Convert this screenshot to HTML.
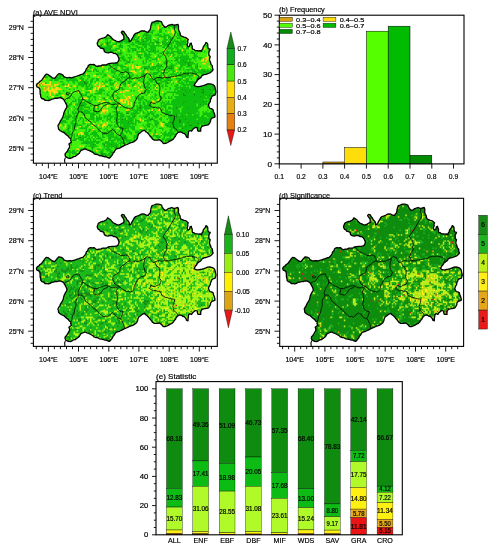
<!DOCTYPE html><html><head><meta charset="utf-8"><title>NDVI figure</title>
<style>html,body{margin:0;padding:0;background:#fff}svg{display:block}text{font-family:"Liberation Sans", sans-serif;fill:#000;stroke:#000;stroke-width:0.18px}</style></head><body>
<svg width="493" height="550" viewBox="0 0 493 550">
<rect width="493" height="550" fill="#fff"/>
<defs><clipPath id="prov"><path d="M36.4,85.1 37.3,83.6 38.9,82.7 39.9,81.3 41.5,80.5 42.5,79 43.8,77.3 45,75.4 46.2,74.2 47.9,74.4 49.2,75.4 50.8,76.5 52.3,77.8 54.7,78.4 55.9,76.9 57.1,75.4 58.9,73.6 61.4,74.2 62.9,75.1 63.8,76.6 65.6,77.4 67.5,77.8 69.6,77.4 71.7,77.8 73.5,77.1 75.4,76.6 77.2,76 79,75.4 80.8,74.7 82.7,74.2 84,73 85.1,71.7 85.9,70.3 86.3,68.7 87.7,67.5 88.2,65.7 89.3,64.8 90.6,64.4 92.3,64.6 94,64.4 95.4,65.6 97,66.5 98.9,66 100.9,65.9 102.6,64.9 104.5,65 106.5,64.9 108.2,63.8 110.2,63.4 112.2,63.2 114.3,63.2 116.2,63 117.9,62 118.6,60.5 119.1,58.9 118.5,57.4 117.9,55.9 116.9,54.5 115.5,53.5 113.5,53.3 111.8,52.2 110,52.3 108.2,52.9 106.6,52.7 105.1,52.2 104.1,50.9 103.9,49.2 102.2,48.4 100.3,48 99.7,46.8 98.4,46.2 97.5,44.8 97.2,43.1 97.9,41.7 98.4,40.1 100.2,39 102.1,38.3 104,37.9 105.7,37 106.8,36 107.6,34.6 109.4,35.8 110.8,36.8 111.8,38.3 113.5,39.8 115.5,40.7 116.9,41.5 118.5,41.9 120.4,41.2 122.2,40.1 123.9,39.2 123.9,37 123.7,35.7 122.8,34.6 122,33.5 121.3,32.4 122.2,31.2 124,31.7 124.9,33.5 126.2,35 127,36.8 128.5,38.1 129.3,39.8 129.2,41.7 130.5,41.2 131.3,40.1 132.1,38.5 133.1,37 133.7,35.8 134.3,34.6 135.7,33.4 137.4,32.8 139.3,32.1 141,31 142.8,30.8 144.7,31 146.4,32 148.3,32.2 149.1,30.8 150.2,29.7 150.6,27.9 150.8,26.1 151.3,24.2 152,22.4 154,21.8 156,21 157.9,20.9 159.7,21.2 161.5,21.8 162.2,23.8 163.3,25.5 165.1,27.3 166.8,26.6 168.2,25.5 170,25 171.8,24.3 173.6,25.1 175.5,24.9 177.9,24.3 178.5,25.7 178.5,27.3 178.4,29.2 179.1,31 180,32.7 180.3,34.6 180.9,35.9 182.2,36.4 184,37.1 185.8,37.6 187,38.6 188.3,39.5 187.6,40.9 187.9,42.5 187,44.9 187.9,46.8 189.5,46.2 190.1,43.7 191.3,43.1 191.5,44.7 192.3,46.2 192.1,47.7 192.5,49.2 193.9,49.4 194.9,50.4 196.8,50.6 198.6,51 200.2,50.7 201.6,51.4 201.9,49.9 202.9,48.6 203.2,47 204.1,45.6 205.3,44.2 205.9,42.5 207.1,43.1 207.8,44.6 207.7,46.2 208.3,48.6 210.2,49.2 209.7,50.5 208.9,51.6 208.9,53.5 208.9,55.3 210.2,56.5 209.5,58.9 209.7,60.8 210.6,62.4 211,64.4 212.4,65.9 212.5,67.9 213.1,69.8 211.7,71.6 209.8,73 207.8,73.6 205.9,74.3 203.9,74.7 202,75.6 200.8,77.6 198.8,78.9 197.5,80.1 196.7,81.6 195.5,82.8 194.8,84.1 194.2,85.4 195.4,86.2 196.8,86.7 198.6,86.7 200.3,86.3 202,86 204,85.4 205.9,84.7 207.8,83.9 209.8,83.8 211.5,84.2 213.1,84.7 214.4,85.8 215,87.3 215.5,89.6 216,91.9 215.5,93.5 215,95.1 213.3,95.5 211.8,96.4 211.3,98 210.5,99.6 210.3,101.5 209.2,103 208.5,105.2 209.1,106.8 209.8,108.4 211.6,108.7 213.1,109.7 213.5,111.7 214.4,113.6 214.8,115.2 215,116.9 213.4,117.7 211.8,118.2 210.7,119.6 210.5,121.4 209.6,123.1 208.5,124.7 206.9,125.2 205.3,125.3 203.7,125.8 202,126 201.4,127.3 200.7,128.6 200.7,131.2 198.1,131.2 197.4,129.6 197.5,127.9 195.5,127.3 194.2,128.2 192.9,129.2 191.6,131.2 189.7,130.5 188.6,131.6 188.4,133.1 188.1,135.3 188,137.6 186.5,137 186.1,135.6 185.2,134.4 184.1,133.3 182.6,133.1 181.5,132.1 180,131.8 178.6,132.2 177.4,133.1 176.1,134.5 175.4,136.3 174.2,137.4 173.5,138.9 172,140.1 170.2,140.9 168.6,141.9 167,142.8 165.4,143.3 163.7,143.5 162.6,142.7 161.8,141.5 160.5,140.5 159.2,139.6 157.9,140.1 156.6,140.2 154.4,140.2 152.4,138.9 151.2,137.2 149.8,135.7 148.6,134 147.2,132.5 145.6,131.6 144.6,130.1 143.3,130.7 142,131.2 140.5,132.6 138.8,133.8 137.9,135.6 137.5,137.6 136.6,139.5 134.9,140.9 133.1,142.1 131,142.6 129,143.5 127.1,144.5 125.1,145.1 123.2,146.1 121.3,147.1 119.5,148.1 117.4,148.7 115.9,149.2 115,150.5 114.3,151.9 113.1,153 112.4,154.9 111.1,156.3 110.3,157.4 109.2,158.2 107.8,157.7 106.6,156.9 104.9,156.9 103.3,156.3 101.4,155.9 99.4,155.6 97.6,154.5 95.5,154.3 94,153.7 92.9,152.4 91.6,151.8 90.3,151.1 88.8,150.3 87.1,149.8 85.9,149 84.5,148.9 82.6,149.8 81,150.4 80,151.8 79.3,153.3 78,154.3 76.7,155.3 75.4,156.3 73.6,156.6 72.2,157.6 70.3,158.4 68.3,158.2 67,157.5 65.7,156.9 65,155 65.3,153.5 66.3,152.4 67.5,151 68.3,149.2 69.4,147.7 69.6,145.9 68.9,144 70.2,143 71.5,142 70.7,140.5 70.9,138.8 69.3,137.8 68.3,136.2 66.6,135 65,133.6 63.6,132.3 61.8,131.6 60,130.5 58.5,129 58.4,127.4 57.9,125.8 58.7,124.3 59.7,122.9 60.5,120.8 61.7,119 62.9,116.8 63.6,114.5 64,112.5 64.9,110.6 65.8,108.9 66.9,107.3 66.8,105.6 66.2,104.1 65.2,102.2 64.3,100.2 62.5,98.6 60.4,97.6 58.7,97.8 57,98.4 55.2,98.2 53.5,98.9 51.6,99.2 50,100.2 48.6,100.7 46.8,100.4 45,100.3 43.7,99 41.9,98.5 40.8,97.2 40.7,95.5 40.2,94 40.1,92.4 40.1,90.3 39.5,88.2 38.3,87.4 37,87Z"/></clipPath><filter id="bl" x="0" y="0" width="100%" height="100%" filterUnits="objectBoundingBox"><feGaussianBlur stdDeviation="0.7"/></filter></defs>
<g transform="translate(0,0)">
<g clip-path="url(#prov)"><g filter="url(#bl)"><rect x="34.5" y="19.5" width="183" height="141" fill="#42f00a"/><path d="M34.5,107.2h1.5" stroke="#e61919" stroke-width="1.6" fill="none"/><path d="M40.5,83.2h1.5" stroke="#e6800f" stroke-width="1.6" fill="none"/><path d="M214.5,23.2h1.5M189,32.2h1.5M172.5,35.2h1.5M100.5,41.2h1.5M207,47.2h1.5M163.5,54.8h1.5M94.5,57.8h1.5M133.5,59.2h1.5M204,59.2h3M205.5,62.2h1.5M63,65.2h1.5M208.5,65.2h1.5M147,71.2h1.5M139.5,77.2h1.5M172.5,77.2h1.5M57,83.2h3M42,84.8h1.5M46.5,86.2h4.5M96,86.2h3M100.5,86.2h1.5M127.5,86.2h1.5M46.5,87.8h1.5M58.5,87.8h1.5M43.5,89.2h3M121.5,92.2h1.5M64.5,98.2h1.5M127.5,98.2h1.5M123,99.8h1.5M127.5,99.8h1.5M61.5,102.8h1.5M40.5,104.2h1.5M103.5,108.8h1.5M129,108.8h1.5M127.5,110.2h1.5M157.5,110.2h1.5M103.5,113.2h1.5M136.5,116.2h1.5M160.5,116.2h1.5M46.5,119.2h1.5M91.5,129.8h1.5M157.5,140.2h1.5M46.5,159.8h1.5" stroke="#e6a814" stroke-width="1.6" fill="none"/><path d="M58.5,20.2h1.5M61.5,20.2h1.5M64.5,20.2h1.5M73.5,20.2h1.5M79.5,20.2h1.5M102,20.2h1.5M129,20.2h1.5M169.5,20.2h1.5M136.5,21.8h1.5M165,21.8h1.5M169.5,21.8h3M43.5,23.2h1.5M73.5,23.2h3M84,23.2h1.5M103.5,23.2h1.5M136.5,23.2h4.5M166.5,23.2h1.5M169.5,23.2h1.5M73.5,24.8h3M138,24.8h1.5M214.5,24.8h1.5M45,26.2h1.5M48,26.2h1.5M51,26.2h1.5M54,26.2h1.5M61.5,26.2h4.5M157.5,26.2h1.5M162,26.2h1.5M165,26.2h3M64.5,27.8h1.5M157.5,27.8h1.5M193.5,27.8h1.5M36,29.2h1.5M64.5,29.2h1.5M70.5,29.2h1.5M96,29.2h1.5M135,29.2h1.5M157.5,29.2h1.5M171,29.2h1.5M190.5,29.2h1.5M195,29.2h3M171,30.8h3M196.5,30.8h1.5M168,32.2h1.5M171,32.2h3M186,32.2h1.5M190.5,32.2h1.5M201,32.2h1.5M208.5,32.2h1.5M214.5,32.2h1.5M76.5,33.8h1.5M172.5,33.8h1.5M190.5,33.8h1.5M213,33.8h4.5M76.5,35.2h3M138,35.2h1.5M55.5,36.8h1.5M76.5,36.8h1.5M204,36.8h1.5M58.5,38.2h1.5M73.5,38.2h1.5M102,38.2h1.5M139.5,38.2h1.5M153,38.2h1.5M159,38.2h1.5M166.5,38.2h1.5M193.5,38.2h1.5M55.5,39.8h1.5M100.5,39.8h1.5M186,39.8h1.5M205.5,39.8h1.5M58.5,41.2h1.5M66,41.2h1.5M112.5,41.2h1.5M166.5,41.2h1.5M187.5,41.2h1.5M199.5,41.2h3M204,41.2h1.5M46.5,44.2h1.5M99,44.2h1.5M103.5,44.2h1.5M154.5,44.2h1.5M160.5,44.2h1.5M63,45.8h1.5M114,45.8h1.5M58.5,47.2h1.5M79.5,47.2h1.5M112.5,47.2h1.5M184.5,47.2h1.5M192,47.2h1.5M210,47.2h1.5M97.5,48.8h1.5M189,48.8h1.5M204,48.8h1.5M45,50.2h4.5M118.5,50.2h1.5M123,50.2h1.5M163.5,50.2h3M181.5,50.2h1.5M34.5,51.8h1.5M57,51.8h1.5M34.5,53.2h6M103.5,53.2h1.5M139.5,53.2h1.5M34.5,54.8h1.5M40.5,54.8h1.5M73.5,54.8h1.5M171,54.8h1.5M207,54.8h1.5M112.5,56.2h3M135,56.2h1.5M154.5,56.2h1.5M169.5,56.2h1.5M207,56.2h1.5M106.5,57.8h1.5M205.5,57.8h3M64.5,59.2h1.5M135,59.2h1.5M157.5,59.2h1.5M202.5,59.2h1.5M207,59.2h1.5M40.5,60.8h1.5M63,60.8h1.5M201,60.8h3M205.5,60.8h1.5M64.5,62.2h3M85.5,62.2h1.5M91.5,62.2h1.5M159,62.2h1.5M214.5,62.2h3M63,63.8h3M100.5,63.8h1.5M151.5,63.8h1.5M202.5,63.8h3M99,65.2h1.5M126,65.2h1.5M129,65.2h1.5M132,65.2h1.5M151.5,65.2h1.5M178.5,65.2h1.5M66,66.8h1.5M87,66.8h1.5M102,66.8h1.5M132,66.8h1.5M135,66.8h6M208.5,66.8h1.5M72,68.2h1.5M84,68.2h1.5M87,68.2h1.5M112.5,68.2h1.5M118.5,68.2h1.5M132,68.2h1.5M136.5,68.2h3M175.5,68.2h1.5M199.5,68.2h1.5M91.5,69.8h1.5M106.5,71.2h1.5M130.5,71.2h4.5M139.5,71.2h1.5M145.5,71.2h1.5M162,71.2h1.5M175.5,71.2h1.5M133.5,72.8h3M145.5,72.8h3M85.5,74.2h1.5M124.5,74.2h1.5M37.5,75.8h1.5M93,75.8h3M108,75.8h1.5M163.5,75.8h1.5M193.5,75.8h1.5M42,77.2h1.5M97.5,77.2h1.5M109.5,77.2h1.5M150,77.2h1.5M163.5,77.2h3M171,77.2h1.5M174,77.2h1.5M43.5,78.8h1.5M112.5,78.8h1.5M183,78.8h1.5M79.5,80.2h1.5M133.5,80.2h1.5M40.5,81.8h1.5M49.5,81.8h1.5M171,81.8h1.5M175.5,81.8h1.5M34.5,83.2h1.5M37.5,83.2h3M42,83.2h3M49.5,83.2h1.5M96,83.2h1.5M99,83.2h1.5M102,83.2h1.5M115.5,83.2h1.5M138,83.2h1.5M141,83.2h1.5M37.5,84.8h1.5M40.5,84.8h1.5M43.5,84.8h7.5M54,84.8h4.5M67.5,84.8h1.5M94.5,84.8h1.5M99,84.8h1.5M106.5,84.8h1.5M114,84.8h1.5M117,84.8h1.5M127.5,84.8h1.5M139.5,84.8h1.5M37.5,86.2h1.5M51,86.2h1.5M54,86.2h1.5M64.5,86.2h4.5M73.5,86.2h3M99,86.2h1.5M102,86.2h3M115.5,86.2h1.5M118.5,86.2h3M133.5,86.2h3M156,86.2h1.5M34.5,87.8h1.5M39,87.8h1.5M43.5,87.8h1.5M48,87.8h1.5M51,87.8h1.5M55.5,87.8h3M69,87.8h1.5M94.5,87.8h1.5M97.5,87.8h3M115.5,87.8h3M129,87.8h1.5M138,87.8h1.5M154.5,87.8h1.5M34.5,89.2h1.5M37.5,89.2h1.5M46.5,89.2h3M51,89.2h10.5M82.5,89.2h1.5M93,89.2h3M97.5,89.2h1.5M106.5,89.2h1.5M139.5,89.2h3M156,89.2h1.5M43.5,90.8h3M48,90.8h9M75,90.8h1.5M88.5,90.8h3M93,90.8h1.5M124.5,90.8h4.5M138,90.8h1.5M141,90.8h1.5M37.5,92.2h1.5M49.5,92.2h1.5M52.5,92.2h6M70.5,92.2h1.5M78,92.2h1.5M82.5,92.2h1.5M90,92.2h1.5M93,92.2h1.5M120,92.2h1.5M123,92.2h1.5M139.5,92.2h1.5M162,92.2h1.5M36,93.8h1.5M49.5,93.8h1.5M54,93.8h1.5M115.5,93.8h1.5M34.5,95.2h3M49.5,95.2h1.5M61.5,95.2h3M99,95.2h1.5M123,95.2h1.5M132,95.2h1.5M148.5,95.2h1.5M39,96.8h1.5M51,96.8h3M63,96.8h1.5M124.5,96.8h1.5M127.5,96.8h3M39,98.2h1.5M81,98.2h1.5M84,98.2h4.5M99,98.2h1.5M106.5,98.2h1.5M114,98.2h1.5M126,98.2h1.5M129,98.2h1.5M120,99.8h3M124.5,99.8h3M157.5,99.8h1.5M34.5,101.2h1.5M61.5,101.2h1.5M81,101.2h1.5M97.5,101.2h3M102,101.2h3M109.5,101.2h1.5M120,101.2h3M124.5,101.2h1.5M127.5,101.2h1.5M151.5,101.2h3M42,102.8h1.5M46.5,102.8h1.5M69,102.8h1.5M100.5,102.8h1.5M106.5,102.8h1.5M117,102.8h1.5M121.5,102.8h4.5M127.5,102.8h1.5M130.5,102.8h1.5M151.5,102.8h1.5M154.5,102.8h1.5M42,104.2h1.5M61.5,104.2h1.5M73.5,104.2h1.5M100.5,104.2h1.5M127.5,104.2h1.5M130.5,104.2h1.5M34.5,105.8h1.5M100.5,105.8h1.5M106.5,105.8h3M118.5,105.8h3M130.5,105.8h1.5M61.5,107.2h1.5M96,107.2h1.5M102,107.2h1.5M106.5,107.2h1.5M34.5,108.8h3M70.5,108.8h1.5M127.5,108.8h1.5M159,108.8h1.5M37.5,110.2h1.5M102,110.2h6M117,110.2h1.5M126,110.2h1.5M148.5,110.2h1.5M151.5,110.2h1.5M159,110.2h1.5M102,111.8h3M106.5,111.8h1.5M58.5,113.2h1.5M100.5,113.2h1.5M141,113.2h1.5M58.5,114.8h1.5M82.5,116.2h1.5M94.5,116.2h1.5M139.5,119.2h1.5M46.5,120.8h1.5M139.5,120.8h1.5M142.5,120.8h1.5M52.5,122.2h1.5M85.5,122.2h1.5M88.5,122.2h1.5M100.5,122.2h1.5M106.5,122.2h1.5M160.5,122.2h1.5M93,123.8h1.5M103.5,123.8h1.5M106.5,123.8h1.5M160.5,123.8h3M60,125.2h1.5M64.5,125.2h1.5M91.5,125.2h1.5M97.5,125.2h1.5M102,125.2h4.5M160.5,125.2h3M58.5,126.8h1.5M64.5,126.8h1.5M79.5,126.8h1.5M88.5,126.8h1.5M93,126.8h1.5M102,126.8h1.5M105,126.8h1.5M162,126.8h1.5M57,128.2h1.5M63,128.2h1.5M76.5,128.2h1.5M117,128.2h1.5M139.5,128.2h3M93,129.8h1.5M55.5,131.2h1.5M100.5,131.2h1.5M147,131.2h1.5M79.5,132.8h3M78,134.2h1.5M81,134.2h3M151.5,134.2h1.5M156,134.2h1.5M160.5,134.2h1.5M52.5,137.2h1.5M93,137.2h1.5M66,140.2h1.5M76.5,140.2h1.5M106.5,140.2h1.5M159,140.2h1.5M64.5,141.8h1.5M145.5,141.8h1.5M132,143.2h1.5M205.5,143.2h1.5M145.5,144.8h1.5M69,146.2h1.5M79.5,146.2h1.5M82.5,146.2h1.5M213,146.2h1.5M99,147.8h1.5M76.5,149.2h3M202.5,149.2h1.5M64.5,150.8h1.5M96,150.8h1.5M63,152.2h1.5M76.5,152.2h1.5M127.5,152.2h1.5M133.5,152.2h1.5M169.5,152.2h1.5M63,153.8h1.5M174,153.8h1.5M181.5,155.2h1.5M76.5,156.8h1.5M114,156.8h1.5M213,156.8h1.5M51,158.2h1.5M55.5,158.2h1.5M166.5,158.2h1.5M175.5,158.2h1.5M183,159.8h1.5M207,159.8h1.5M214.5,159.8h1.5" stroke="#ffd80a" stroke-width="1.6" fill="none"/><path d="M34.5,20.2h3M45,20.2h1.5M55.5,20.2h3M70.5,20.2h1.5M85.5,20.2h1.5M90,20.2h1.5M96,20.2h6M106.5,20.2h1.5M109.5,20.2h1.5M112.5,20.2h6M120,20.2h3M133.5,20.2h3M139.5,20.2h1.5M142.5,20.2h4.5M153,20.2h1.5M160.5,20.2h1.5M174,20.2h1.5M177,20.2h1.5M180,20.2h1.5M187.5,20.2h1.5M193.5,20.2h3M199.5,20.2h1.5M208.5,20.2h1.5M211.5,20.2h4.5M34.5,21.8h1.5M39,21.8h1.5M42,21.8h1.5M45,21.8h1.5M48,21.8h1.5M52.5,21.8h4.5M61.5,21.8h1.5M70.5,21.8h1.5M88.5,21.8h1.5M94.5,21.8h1.5M97.5,21.8h3M102,21.8h1.5M108,21.8h6M115.5,21.8h4.5M124.5,21.8h1.5M130.5,21.8h4.5M139.5,21.8h1.5M142.5,21.8h6M150,21.8h1.5M153,21.8h7.5M163.5,21.8h1.5M172.5,21.8h1.5M181.5,21.8h1.5M186,21.8h4.5M199.5,21.8h4.5M205.5,21.8h1.5M213,21.8h1.5M216,21.8h1.5M37.5,23.2h3M42,23.2h1.5M46.5,23.2h3M52.5,23.2h4.5M60,23.2h4.5M66,23.2h1.5M69,23.2h1.5M76.5,23.2h6M88.5,23.2h1.5M96,23.2h3M100.5,23.2h1.5M105,23.2h1.5M108,23.2h4.5M114,23.2h4.5M120,23.2h1.5M126,23.2h1.5M130.5,23.2h1.5M147,23.2h1.5M150,23.2h9M162,23.2h1.5M172.5,23.2h1.5M175.5,23.2h3M181.5,23.2h1.5M187.5,23.2h4.5M196.5,23.2h6M204,23.2h3M210,23.2h3M216,23.2h1.5M37.5,24.8h4.5M46.5,24.8h3M58.5,24.8h1.5M61.5,24.8h1.5M67.5,24.8h1.5M79.5,24.8h3M90,24.8h1.5M96,24.8h3M102,24.8h3M111,24.8h1.5M114,24.8h3M120,24.8h1.5M123,24.8h3M130.5,24.8h1.5M144,24.8h1.5M148.5,24.8h1.5M151.5,24.8h1.5M154.5,24.8h1.5M169.5,24.8h1.5M172.5,24.8h1.5M175.5,24.8h1.5M181.5,24.8h1.5M189,24.8h1.5M193.5,24.8h1.5M196.5,24.8h4.5M202.5,24.8h1.5M205.5,24.8h4.5M211.5,24.8h1.5M36,26.2h3M42,26.2h3M57,26.2h1.5M69,26.2h3M81,26.2h1.5M93,26.2h3M97.5,26.2h6M105,26.2h1.5M109.5,26.2h1.5M112.5,26.2h4.5M124.5,26.2h1.5M133.5,26.2h1.5M136.5,26.2h1.5M145.5,26.2h3M159,26.2h1.5M169.5,26.2h4.5M177,26.2h3M183,26.2h6M195,26.2h6M204,26.2h4.5M34.5,27.8h3M39,27.8h1.5M43.5,27.8h7.5M52.5,27.8h3M57,27.8h4.5M69,27.8h1.5M76.5,27.8h1.5M81,27.8h1.5M85.5,27.8h3M91.5,27.8h1.5M94.5,27.8h1.5M99,27.8h6M109.5,27.8h1.5M114,27.8h9M126,27.8h3M133.5,27.8h1.5M139.5,27.8h1.5M145.5,27.8h1.5M148.5,27.8h1.5M162,27.8h3M168,27.8h1.5M172.5,27.8h4.5M178.5,27.8h6M186,27.8h1.5M195,27.8h1.5M198,27.8h4.5M204,27.8h4.5M210,27.8h1.5M34.5,29.2h1.5M42,29.2h6M51,29.2h1.5M55.5,29.2h3M60,29.2h1.5M73.5,29.2h1.5M78,29.2h1.5M84,29.2h6M91.5,29.2h1.5M99,29.2h6M111,29.2h1.5M118.5,29.2h3M123,29.2h1.5M129,29.2h4.5M139.5,29.2h1.5M145.5,29.2h1.5M159,29.2h3M178.5,29.2h1.5M181.5,29.2h4.5M199.5,29.2h3M205.5,29.2h4.5M211.5,29.2h4.5M34.5,30.8h10.5M46.5,30.8h1.5M49.5,30.8h6M57,30.8h1.5M61.5,30.8h1.5M67.5,30.8h3M73.5,30.8h3M79.5,30.8h3M84,30.8h6M91.5,30.8h3M97.5,30.8h1.5M100.5,30.8h7.5M109.5,30.8h6M117,30.8h6M126,30.8h6M133.5,30.8h7.5M144,30.8h3M148.5,30.8h1.5M151.5,30.8h3M159,30.8h3M165,30.8h1.5M180,30.8h9M193.5,30.8h3M199.5,30.8h4.5M205.5,30.8h3M210,30.8h1.5M213,30.8h1.5M37.5,32.2h3M45,32.2h6M54,32.2h1.5M57,32.2h6M64.5,32.2h4.5M72,32.2h1.5M75,32.2h1.5M78,32.2h3M84,32.2h1.5M87,32.2h1.5M91.5,32.2h1.5M94.5,32.2h1.5M99,32.2h3M112.5,32.2h1.5M115.5,32.2h6M123,32.2h1.5M127.5,32.2h1.5M133.5,32.2h1.5M136.5,32.2h3M145.5,32.2h1.5M148.5,32.2h4.5M159,32.2h3M175.5,32.2h1.5M178.5,32.2h4.5M199.5,32.2h1.5M211.5,32.2h1.5M34.5,33.8h1.5M37.5,33.8h1.5M43.5,33.8h1.5M48,33.8h4.5M58.5,33.8h10.5M73.5,33.8h1.5M81,33.8h1.5M84,33.8h3M91.5,33.8h4.5M99,33.8h3M103.5,33.8h1.5M106.5,33.8h6M115.5,33.8h1.5M120,33.8h1.5M123,33.8h1.5M126,33.8h4.5M136.5,33.8h1.5M144,33.8h4.5M151.5,33.8h1.5M157.5,33.8h1.5M163.5,33.8h1.5M177,33.8h10.5M198,33.8h3M205.5,33.8h1.5M210,33.8h1.5M36,35.2h3M42,35.2h3M48,35.2h1.5M52.5,35.2h3M60,35.2h10.5M79.5,35.2h1.5M84,35.2h3M90,35.2h1.5M94.5,35.2h3M99,35.2h1.5M105,35.2h6M114,35.2h1.5M120,35.2h1.5M123,35.2h1.5M127.5,35.2h3M132,35.2h4.5M142.5,35.2h3M147,35.2h4.5M154.5,35.2h7.5M163.5,35.2h6M177,35.2h3M183,35.2h1.5M186,35.2h3M192,35.2h3M198,35.2h1.5M201,35.2h7.5M211.5,35.2h1.5M37.5,36.8h1.5M43.5,36.8h1.5M49.5,36.8h4.5M69,36.8h1.5M79.5,36.8h1.5M84,36.8h3M90,36.8h3M97.5,36.8h3M105,36.8h1.5M111,36.8h1.5M115.5,36.8h9M127.5,36.8h1.5M130.5,36.8h6M138,36.8h1.5M142.5,36.8h1.5M145.5,36.8h6M159,36.8h7.5M168,36.8h3M175.5,36.8h1.5M178.5,36.8h1.5M184.5,36.8h3M193.5,36.8h6M201,36.8h1.5M207,36.8h1.5M34.5,38.2h1.5M37.5,38.2h1.5M40.5,38.2h1.5M43.5,38.2h1.5M49.5,38.2h4.5M61.5,38.2h1.5M69,38.2h1.5M72,38.2h1.5M84,38.2h1.5M87,38.2h1.5M90,38.2h1.5M96,38.2h1.5M100.5,38.2h1.5M105,38.2h9M118.5,38.2h3M123,38.2h12M136.5,38.2h3M141,38.2h1.5M144,38.2h1.5M147,38.2h4.5M157.5,38.2h1.5M163.5,38.2h3M168,38.2h6M178.5,38.2h3M186,38.2h6M195,38.2h3M199.5,38.2h3M211.5,38.2h1.5M214.5,38.2h3M34.5,39.8h1.5M37.5,39.8h1.5M42,39.8h3M46.5,39.8h3M67.5,39.8h1.5M72,39.8h1.5M78,39.8h1.5M85.5,39.8h4.5M93,39.8h6M105,39.8h3M111,39.8h1.5M118.5,39.8h1.5M121.5,39.8h9M132,39.8h6M141,39.8h3M145.5,39.8h6M153,39.8h1.5M157.5,39.8h1.5M163.5,39.8h4.5M171,39.8h1.5M174,39.8h1.5M180,39.8h1.5M184.5,39.8h1.5M190.5,39.8h1.5M210,39.8h1.5M214.5,39.8h3M34.5,41.2h3M43.5,41.2h3M67.5,41.2h1.5M73.5,41.2h1.5M79.5,41.2h1.5M85.5,41.2h1.5M88.5,41.2h3M94.5,41.2h3M106.5,41.2h1.5M109.5,41.2h1.5M115.5,41.2h3M120,41.2h9M130.5,41.2h1.5M135,41.2h1.5M141,41.2h1.5M144,41.2h4.5M150,41.2h1.5M156,41.2h3M162,41.2h4.5M168,41.2h1.5M172.5,41.2h4.5M180,41.2h3M184.5,41.2h3M189,41.2h7.5M198,41.2h1.5M213,41.2h4.5M40.5,42.8h1.5M43.5,42.8h1.5M57,42.8h3M63,42.8h1.5M66,42.8h1.5M69,42.8h1.5M72,42.8h7.5M81,42.8h10.5M105,42.8h1.5M108,42.8h3M115.5,42.8h1.5M118.5,42.8h4.5M124.5,42.8h6M132,42.8h1.5M135,42.8h12M148.5,42.8h6M159,42.8h1.5M163.5,42.8h6M171,42.8h3M175.5,42.8h3M180,42.8h6M190.5,42.8h4.5M201,42.8h1.5M213,42.8h3M36,44.2h1.5M39,44.2h3M49.5,44.2h3M60,44.2h1.5M72,44.2h4.5M78,44.2h1.5M81,44.2h4.5M96,44.2h1.5M100.5,44.2h3M108,44.2h1.5M112.5,44.2h4.5M120,44.2h1.5M130.5,44.2h4.5M138,44.2h4.5M144,44.2h6M151.5,44.2h3M157.5,44.2h1.5M162,44.2h4.5M168,44.2h4.5M175.5,44.2h4.5M181.5,44.2h9M193.5,44.2h1.5M196.5,44.2h4.5M202.5,44.2h1.5M208.5,44.2h1.5M211.5,44.2h1.5M34.5,45.8h3M39,45.8h3M45,45.8h3M51,45.8h1.5M54,45.8h1.5M57,45.8h1.5M60,45.8h1.5M67.5,45.8h1.5M72,45.8h1.5M75,45.8h1.5M78,45.8h1.5M81,45.8h3M87,45.8h1.5M90,45.8h1.5M99,45.8h1.5M106.5,45.8h6M118.5,45.8h1.5M121.5,45.8h1.5M127.5,45.8h3M132,45.8h1.5M135,45.8h3M142.5,45.8h4.5M148.5,45.8h13.5M163.5,45.8h6M171,45.8h1.5M174,45.8h1.5M177,45.8h6M187.5,45.8h1.5M196.5,45.8h3M205.5,45.8h1.5M208.5,45.8h1.5M213,45.8h1.5M34.5,47.2h3M46.5,47.2h3M55.5,47.2h3M61.5,47.2h1.5M66,47.2h1.5M73.5,47.2h1.5M78,47.2h1.5M84,47.2h4.5M97.5,47.2h1.5M100.5,47.2h12M118.5,47.2h4.5M129,47.2h1.5M136.5,47.2h6M144,47.2h3M150,47.2h6M162,47.2h3M168,47.2h4.5M174,47.2h4.5M181.5,47.2h1.5M186,47.2h3M213,47.2h4.5M42,48.8h1.5M45,48.8h1.5M52.5,48.8h3M58.5,48.8h1.5M63,48.8h3M69,48.8h1.5M73.5,48.8h1.5M78,48.8h3M85.5,48.8h3M93,48.8h1.5M100.5,48.8h9M115.5,48.8h4.5M127.5,48.8h1.5M130.5,48.8h6M138,48.8h1.5M141,48.8h3M145.5,48.8h1.5M148.5,48.8h7.5M168,48.8h6M175.5,48.8h3M183,48.8h1.5M186,48.8h3M208.5,48.8h3M213,48.8h4.5M39,50.2h4.5M54,50.2h7.5M63,50.2h3M78,50.2h1.5M81,50.2h1.5M87,50.2h4.5M93,50.2h1.5M100.5,50.2h16.5M120,50.2h1.5M127.5,50.2h3M132,50.2h3M141,50.2h3M145.5,50.2h1.5M150,50.2h3M154.5,50.2h1.5M157.5,50.2h1.5M166.5,50.2h1.5M171,50.2h1.5M177,50.2h4.5M184.5,50.2h1.5M199.5,50.2h1.5M208.5,50.2h1.5M37.5,51.8h1.5M40.5,51.8h1.5M48,51.8h3M52.5,51.8h1.5M58.5,51.8h7.5M72,51.8h1.5M76.5,51.8h6M90,51.8h4.5M99,51.8h1.5M105,51.8h9M120,51.8h1.5M127.5,51.8h3M132,51.8h1.5M136.5,51.8h9M150,51.8h9M162,51.8h1.5M166.5,51.8h3M171,51.8h10.5M183,51.8h3M190.5,51.8h3M195,51.8h1.5M199.5,51.8h1.5M204,51.8h1.5M48,53.2h1.5M51,53.2h3M57,53.2h1.5M61.5,53.2h3M66,53.2h1.5M76.5,53.2h1.5M79.5,53.2h1.5M82.5,53.2h1.5M85.5,53.2h4.5M93,53.2h4.5M100.5,53.2h1.5M109.5,53.2h3M117,53.2h3M121.5,53.2h1.5M136.5,53.2h1.5M144,53.2h3M148.5,53.2h1.5M154.5,53.2h1.5M159,53.2h1.5M165,53.2h1.5M168,53.2h6M177,53.2h6M184.5,53.2h1.5M187.5,53.2h1.5M190.5,53.2h3M196.5,53.2h1.5M208.5,53.2h3M213,53.2h1.5M216,53.2h1.5M37.5,54.8h1.5M51,54.8h1.5M58.5,54.8h1.5M76.5,54.8h1.5M79.5,54.8h1.5M82.5,54.8h4.5M90,54.8h6M97.5,54.8h1.5M100.5,54.8h1.5M106.5,54.8h3M111,54.8h1.5M115.5,54.8h6M126,54.8h1.5M129,54.8h1.5M136.5,54.8h6M144,54.8h7.5M157.5,54.8h1.5M162,54.8h1.5M166.5,54.8h1.5M169.5,54.8h1.5M172.5,54.8h3M178.5,54.8h1.5M181.5,54.8h1.5M186,54.8h1.5M193.5,54.8h3M211.5,54.8h1.5M214.5,54.8h1.5M34.5,56.2h6M43.5,56.2h1.5M52.5,56.2h6M64.5,56.2h1.5M76.5,56.2h1.5M84,56.2h4.5M91.5,56.2h3M96,56.2h1.5M99,56.2h1.5M105,56.2h1.5M121.5,56.2h3M130.5,56.2h1.5M139.5,56.2h1.5M144,56.2h6M157.5,56.2h4.5M168,56.2h1.5M172.5,56.2h1.5M177,56.2h1.5M180,56.2h9M193.5,56.2h4.5M213,56.2h1.5M216,56.2h1.5M42,57.8h1.5M45,57.8h1.5M51,57.8h1.5M54,57.8h3M61.5,57.8h1.5M67.5,57.8h3M73.5,57.8h3M82.5,57.8h1.5M85.5,57.8h3M90,57.8h1.5M97.5,57.8h3M102,57.8h1.5M105,57.8h1.5M111,57.8h1.5M115.5,57.8h9M127.5,57.8h4.5M141,57.8h1.5M145.5,57.8h6M156,57.8h1.5M159,57.8h1.5M174,57.8h15M192,57.8h4.5M198,57.8h4.5M213,57.8h4.5M37.5,59.2h1.5M42,59.2h4.5M48,59.2h1.5M51,59.2h1.5M54,59.2h3M61.5,59.2h1.5M69,59.2h6M76.5,59.2h1.5M79.5,59.2h3M84,59.2h6M91.5,59.2h1.5M100.5,59.2h3M111,59.2h3M117,59.2h3M121.5,59.2h4.5M129,59.2h1.5M145.5,59.2h3M151.5,59.2h6M177,59.2h1.5M180,59.2h12M193.5,59.2h1.5M199.5,59.2h1.5M214.5,59.2h3M34.5,60.8h4.5M45,60.8h3M49.5,60.8h3M61.5,60.8h1.5M67.5,60.8h4.5M73.5,60.8h3M81,60.8h3M97.5,60.8h1.5M100.5,60.8h1.5M105,60.8h1.5M109.5,60.8h1.5M112.5,60.8h3M118.5,60.8h3M123,60.8h4.5M129,60.8h1.5M142.5,60.8h1.5M145.5,60.8h1.5M148.5,60.8h3M156,60.8h1.5M165,60.8h1.5M168,60.8h1.5M171,60.8h1.5M174,60.8h4.5M180,60.8h3M184.5,60.8h3M189,60.8h1.5M195,60.8h1.5M214.5,60.8h1.5M34.5,62.2h1.5M39,62.2h1.5M46.5,62.2h1.5M49.5,62.2h3M55.5,62.2h3M61.5,62.2h1.5M67.5,62.2h6M78,62.2h1.5M88.5,62.2h1.5M96,62.2h4.5M102,62.2h3M109.5,62.2h3M115.5,62.2h1.5M126,62.2h1.5M129,62.2h1.5M132,62.2h1.5M142.5,62.2h1.5M145.5,62.2h1.5M163.5,62.2h4.5M169.5,62.2h1.5M177,62.2h7.5M186,62.2h3M190.5,62.2h3M210,62.2h3M34.5,63.8h3M40.5,63.8h3M46.5,63.8h6M54,63.8h4.5M67.5,63.8h4.5M78,63.8h6M88.5,63.8h1.5M103.5,63.8h1.5M109.5,63.8h1.5M112.5,63.8h4.5M124.5,63.8h3M142.5,63.8h3M150,63.8h1.5M157.5,63.8h1.5M163.5,63.8h4.5M171,63.8h1.5M175.5,63.8h1.5M178.5,63.8h9M189,63.8h6M196.5,63.8h1.5M211.5,63.8h1.5M214.5,63.8h1.5M34.5,65.2h4.5M40.5,65.2h1.5M43.5,65.2h4.5M54,65.2h3M67.5,65.2h3M72,65.2h1.5M78,65.2h3M87,65.2h3M93,65.2h3M105,65.2h4.5M112.5,65.2h4.5M118.5,65.2h4.5M136.5,65.2h1.5M148.5,65.2h1.5M156,65.2h1.5M159,65.2h1.5M169.5,65.2h6M180,65.2h6M190.5,65.2h1.5M195,65.2h3M213,65.2h1.5M34.5,66.8h3M40.5,66.8h3M48,66.8h4.5M54,66.8h1.5M60,66.8h1.5M63,66.8h1.5M67.5,66.8h1.5M78,66.8h1.5M88.5,66.8h3M109.5,66.8h1.5M112.5,66.8h1.5M115.5,66.8h1.5M120,66.8h6M142.5,66.8h7.5M151.5,66.8h12M166.5,66.8h4.5M172.5,66.8h1.5M180,66.8h3M186,66.8h6M195,66.8h1.5M199.5,66.8h1.5M213,66.8h1.5M34.5,68.2h3M39,68.2h7.5M48,68.2h1.5M51,68.2h4.5M58.5,68.2h1.5M61.5,68.2h4.5M79.5,68.2h1.5M90,68.2h1.5M94.5,68.2h1.5M108,68.2h3M114,68.2h3M121.5,68.2h1.5M126,68.2h3M141,68.2h1.5M147,68.2h7.5M157.5,68.2h3M165,68.2h3M172.5,68.2h1.5M178.5,68.2h3M183,68.2h1.5M190.5,68.2h3M195,68.2h3M213,68.2h4.5M36,69.8h1.5M40.5,69.8h15M58.5,69.8h4.5M69,69.8h1.5M73.5,69.8h9M87,69.8h1.5M93,69.8h4.5M103.5,69.8h1.5M108,69.8h1.5M111,69.8h1.5M121.5,69.8h7.5M135,69.8h1.5M144,69.8h1.5M147,69.8h1.5M150,69.8h4.5M156,69.8h3M160.5,69.8h7.5M169.5,69.8h4.5M178.5,69.8h3M183,69.8h1.5M186,69.8h9M196.5,69.8h3M201,69.8h4.5M207,69.8h1.5M210,69.8h4.5M216,69.8h1.5M36,71.2h1.5M40.5,71.2h3M45,71.2h1.5M52.5,71.2h3M57,71.2h3M61.5,71.2h1.5M66,71.2h10.5M78,71.2h7.5M87,71.2h4.5M93,71.2h1.5M96,71.2h3M102,71.2h1.5M111,71.2h6M124.5,71.2h4.5M142.5,71.2h1.5M157.5,71.2h3M168,71.2h1.5M172.5,71.2h3M184.5,71.2h1.5M187.5,71.2h1.5M192,71.2h1.5M195,71.2h1.5M198,71.2h6M205.5,71.2h12M34.5,72.8h13.5M49.5,72.8h1.5M52.5,72.8h1.5M63,72.8h4.5M69,72.8h1.5M72,72.8h13.5M99,72.8h1.5M102,72.8h1.5M111,72.8h4.5M120,72.8h3M127.5,72.8h4.5M142.5,72.8h1.5M150,72.8h1.5M153,72.8h6M160.5,72.8h7.5M172.5,72.8h1.5M177,72.8h1.5M183,72.8h3M187.5,72.8h1.5M192,72.8h25.5M39,74.2h6M46.5,74.2h4.5M60,74.2h1.5M63,74.2h1.5M66,74.2h1.5M69,74.2h16.5M96,74.2h3M100.5,74.2h1.5M103.5,74.2h3M114,74.2h1.5M118.5,74.2h6M127.5,74.2h1.5M132,74.2h1.5M141,74.2h1.5M144,74.2h3M151.5,74.2h6M160.5,74.2h1.5M169.5,74.2h7.5M178.5,74.2h3M183,74.2h3M190.5,74.2h3M195,74.2h1.5M201,74.2h7.5M210,74.2h3M214.5,74.2h1.5M39,75.8h1.5M42,75.8h1.5M45,75.8h1.5M48,75.8h1.5M51,75.8h1.5M54,75.8h3M58.5,75.8h6M66,75.8h1.5M69,75.8h1.5M72,75.8h4.5M78,75.8h1.5M82.5,75.8h3M87,75.8h3M103.5,75.8h3M112.5,75.8h1.5M115.5,75.8h1.5M118.5,75.8h1.5M121.5,75.8h1.5M126,75.8h1.5M130.5,75.8h3M136.5,75.8h1.5M141,75.8h4.5M153,75.8h1.5M160.5,75.8h1.5M168,75.8h1.5M171,75.8h1.5M175.5,75.8h1.5M178.5,75.8h15M196.5,75.8h1.5M201,75.8h3M205.5,75.8h12M37.5,77.2h1.5M45,77.2h3M49.5,77.2h1.5M52.5,77.2h9M63,77.2h3M67.5,77.2h6M79.5,77.2h3M88.5,77.2h1.5M102,77.2h1.5M112.5,77.2h3M117,77.2h1.5M120,77.2h9M130.5,77.2h1.5M142.5,77.2h1.5M147,77.2h1.5M153,77.2h7.5M168,77.2h3M181.5,77.2h4.5M189,77.2h1.5M198,77.2h6M207,77.2h10.5M34.5,78.8h1.5M40.5,78.8h1.5M51,78.8h1.5M54,78.8h10.5M66,78.8h1.5M69,78.8h7.5M79.5,78.8h4.5M87,78.8h1.5M91.5,78.8h3M96,78.8h3M109.5,78.8h1.5M115.5,78.8h4.5M121.5,78.8h1.5M124.5,78.8h3M129,78.8h1.5M136.5,78.8h1.5M141,78.8h1.5M148.5,78.8h3M154.5,78.8h1.5M157.5,78.8h6M168,78.8h3M175.5,78.8h7.5M186,78.8h3M190.5,78.8h1.5M196.5,78.8h3M201,78.8h4.5M207,78.8h1.5M210,78.8h7.5M34.5,80.2h1.5M49.5,80.2h3M54,80.2h4.5M66,80.2h12M81,80.2h3M85.5,80.2h1.5M90,80.2h3M96,80.2h3M105,80.2h1.5M108,80.2h4.5M117,80.2h4.5M124.5,80.2h3M129,80.2h1.5M138,80.2h3M142.5,80.2h1.5M148.5,80.2h6M156,80.2h6M163.5,80.2h4.5M169.5,80.2h3M180,80.2h1.5M183,80.2h6M198,80.2h19.5M34.5,81.8h1.5M60,81.8h3M67.5,81.8h1.5M72,81.8h3M76.5,81.8h1.5M79.5,81.8h4.5M85.5,81.8h3M90,81.8h3M94.5,81.8h1.5M102,81.8h1.5M105,81.8h3M109.5,81.8h1.5M114,81.8h1.5M120,81.8h6M127.5,81.8h4.5M141,81.8h3M147,81.8h1.5M150,81.8h3M154.5,81.8h3M160.5,81.8h7.5M169.5,81.8h1.5M177,81.8h3M181.5,81.8h1.5M184.5,81.8h10.5M196.5,81.8h9M207,81.8h6M214.5,81.8h3M45,83.2h1.5M63,83.2h1.5M73.5,83.2h1.5M78,83.2h6M87,83.2h1.5M90,83.2h1.5M103.5,83.2h1.5M109.5,83.2h4.5M121.5,83.2h3M127.5,83.2h3M133.5,83.2h3M144,83.2h6M156,83.2h3M160.5,83.2h1.5M165,83.2h1.5M168,83.2h1.5M172.5,83.2h1.5M178.5,83.2h6M186,83.2h1.5M189,83.2h13.5M204,83.2h6M211.5,83.2h3M216,83.2h1.5M34.5,84.8h1.5M39,84.8h1.5M61.5,84.8h3M66,84.8h1.5M78,84.8h7.5M88.5,84.8h3M109.5,84.8h4.5M120,84.8h1.5M123,84.8h3M132,84.8h3M144,84.8h1.5M147,84.8h3M153,84.8h3M159,84.8h1.5M162,84.8h1.5M165,84.8h1.5M171,84.8h1.5M175.5,84.8h3M181.5,84.8h19.5M202.5,84.8h15M58.5,86.2h1.5M70.5,86.2h1.5M76.5,86.2h1.5M81,86.2h3M85.5,86.2h4.5M91.5,86.2h1.5M105,86.2h3M124.5,86.2h1.5M132,86.2h1.5M142.5,86.2h1.5M145.5,86.2h3M150,86.2h1.5M154.5,86.2h1.5M160.5,86.2h3M165,86.2h3M174,86.2h4.5M180,86.2h1.5M183,86.2h3M187.5,86.2h1.5M190.5,86.2h15M207,86.2h4.5M214.5,86.2h3M66,87.8h1.5M76.5,87.8h1.5M85.5,87.8h3M90,87.8h3M111,87.8h1.5M120,87.8h3M139.5,87.8h1.5M144,87.8h4.5M153,87.8h1.5M156,87.8h1.5M162,87.8h1.5M169.5,87.8h1.5M175.5,87.8h13.5M190.5,87.8h27M69,89.2h1.5M73.5,89.2h1.5M85.5,89.2h6M99,89.2h4.5M111,89.2h3M118.5,89.2h1.5M123,89.2h1.5M147,89.2h1.5M150,89.2h1.5M165,89.2h1.5M169.5,89.2h1.5M174,89.2h4.5M180,89.2h1.5M183,89.2h18M204,89.2h4.5M211.5,89.2h1.5M214.5,89.2h3M34.5,90.8h1.5M63,90.8h1.5M96,90.8h1.5M99,90.8h6M114,90.8h1.5M130.5,90.8h1.5M133.5,90.8h1.5M144,90.8h6M154.5,90.8h3M174,90.8h1.5M177,90.8h7.5M186,90.8h3M190.5,90.8h12M204,90.8h13.5M46.5,92.2h1.5M58.5,92.2h1.5M66,92.2h1.5M69,92.2h1.5M79.5,92.2h1.5M85.5,92.2h4.5M97.5,92.2h4.5M108,92.2h1.5M115.5,92.2h1.5M141,92.2h1.5M144,92.2h1.5M147,92.2h3M151.5,92.2h1.5M166.5,92.2h19.5M187.5,92.2h6M195,92.2h6M204,92.2h9M214.5,92.2h3M37.5,93.8h1.5M58.5,93.8h3M70.5,93.8h1.5M81,93.8h1.5M85.5,93.8h1.5M94.5,93.8h7.5M103.5,93.8h1.5M106.5,93.8h1.5M117,93.8h1.5M144,93.8h1.5M147,93.8h1.5M154.5,93.8h1.5M163.5,93.8h3M172.5,93.8h1.5M175.5,93.8h7.5M184.5,93.8h9M195,93.8h7.5M204,93.8h6M211.5,93.8h6M55.5,95.2h3M67.5,95.2h1.5M70.5,95.2h1.5M81,95.2h6M90,95.2h3M106.5,95.2h3M111,95.2h3M115.5,95.2h1.5M145.5,95.2h1.5M154.5,95.2h3M163.5,95.2h1.5M172.5,95.2h1.5M178.5,95.2h4.5M186,95.2h7.5M195,95.2h13.5M210,95.2h7.5M46.5,96.8h1.5M60,96.8h1.5M69,96.8h1.5M72,96.8h1.5M79.5,96.8h1.5M87,96.8h4.5M93,96.8h3M109.5,96.8h3M117,96.8h1.5M135,96.8h1.5M138,96.8h1.5M141,96.8h3M151.5,96.8h1.5M154.5,96.8h1.5M159,96.8h3M163.5,96.8h1.5M168,96.8h1.5M171,96.8h1.5M174,96.8h25.5M201,96.8h4.5M207,96.8h4.5M213,96.8h4.5M48,98.2h1.5M55.5,98.2h3M60,98.2h1.5M67.5,98.2h3M73.5,98.2h1.5M78,98.2h1.5M88.5,98.2h1.5M94.5,98.2h1.5M102,98.2h1.5M109.5,98.2h1.5M117,98.2h3M135,98.2h9M150,98.2h1.5M153,98.2h1.5M156,98.2h1.5M160.5,98.2h3M165,98.2h1.5M168,98.2h4.5M175.5,98.2h42M48,99.8h1.5M51,99.8h9M75,99.8h1.5M78,99.8h4.5M88.5,99.8h1.5M91.5,99.8h1.5M94.5,99.8h1.5M103.5,99.8h3M111,99.8h1.5M115.5,99.8h1.5M139.5,99.8h3M144,99.8h3M154.5,99.8h1.5M160.5,99.8h1.5M172.5,99.8h31.5M205.5,99.8h1.5M208.5,99.8h7.5M42,101.2h6M49.5,101.2h1.5M54,101.2h6M72,101.2h4.5M78,101.2h3M84,101.2h1.5M87,101.2h4.5M139.5,101.2h1.5M142.5,101.2h1.5M145.5,101.2h6M159,101.2h1.5M162,101.2h1.5M165,101.2h1.5M168,101.2h1.5M171,101.2h13.5M186,101.2h7.5M195,101.2h7.5M204,101.2h4.5M211.5,101.2h6M37.5,102.8h1.5M48,102.8h1.5M52.5,102.8h1.5M58.5,102.8h3M64.5,102.8h3M70.5,102.8h1.5M78,102.8h7.5M88.5,102.8h3M99,102.8h1.5M108,102.8h1.5M112.5,102.8h3M133.5,102.8h3M138,102.8h3M142.5,102.8h3M147,102.8h3M160.5,102.8h4.5M166.5,102.8h3M171,102.8h12M184.5,102.8h22.5M208.5,102.8h3M213,102.8h4.5M34.5,104.2h4.5M48,104.2h3M52.5,104.2h1.5M55.5,104.2h3M63,104.2h1.5M66,104.2h1.5M69,104.2h3M75,104.2h12M97.5,104.2h1.5M108,104.2h1.5M112.5,104.2h3M139.5,104.2h1.5M142.5,104.2h3M147,104.2h4.5M160.5,104.2h1.5M163.5,104.2h33M198,104.2h1.5M201,104.2h9M211.5,104.2h6M37.5,105.8h3M45,105.8h3M49.5,105.8h3M64.5,105.8h6M76.5,105.8h1.5M84,105.8h1.5M90,105.8h1.5M94.5,105.8h1.5M97.5,105.8h1.5M112.5,105.8h1.5M133.5,105.8h1.5M136.5,105.8h1.5M141,105.8h1.5M144,105.8h7.5M160.5,105.8h6M172.5,105.8h24M198,105.8h6M207,105.8h3M211.5,105.8h6M42,107.2h12M55.5,107.2h4.5M67.5,107.2h1.5M73.5,107.2h1.5M78,107.2h4.5M84,107.2h6M97.5,107.2h1.5M111,107.2h7.5M120,107.2h1.5M123,107.2h1.5M126,107.2h1.5M136.5,107.2h3M141,107.2h10.5M153,107.2h1.5M157.5,107.2h1.5M160.5,107.2h1.5M163.5,107.2h3M168,107.2h3M172.5,107.2h3M177,107.2h4.5M183,107.2h4.5M189,107.2h12M207,107.2h3M211.5,107.2h6M45,108.8h1.5M48,108.8h4.5M57,108.8h4.5M69,108.8h1.5M75,108.8h9M88.5,108.8h1.5M93,108.8h1.5M97.5,108.8h1.5M114,108.8h3M132,108.8h1.5M136.5,108.8h3M141,108.8h1.5M144,108.8h7.5M162,108.8h1.5M165,108.8h1.5M168,108.8h7.5M177,108.8h1.5M181.5,108.8h18M210,108.8h7.5M39,110.2h1.5M43.5,110.2h1.5M46.5,110.2h3M51,110.2h1.5M57,110.2h3M67.5,110.2h1.5M73.5,110.2h1.5M78,110.2h4.5M84,110.2h4.5M90,110.2h1.5M93,110.2h3M100.5,110.2h1.5M130.5,110.2h12M145.5,110.2h1.5M153,110.2h1.5M160.5,110.2h3M165,110.2h3M172.5,110.2h7.5M181.5,110.2h16.5M207,110.2h1.5M211.5,110.2h6M39,111.8h1.5M42,111.8h1.5M45,111.8h3M49.5,111.8h6M57,111.8h1.5M63,111.8h1.5M67.5,111.8h1.5M72,111.8h1.5M75,111.8h1.5M81,111.8h9M93,111.8h4.5M99,111.8h1.5M112.5,111.8h4.5M118.5,111.8h1.5M126,111.8h4.5M133.5,111.8h4.5M139.5,111.8h1.5M142.5,111.8h1.5M147,111.8h1.5M150,111.8h3M154.5,111.8h1.5M165,111.8h6M172.5,111.8h7.5M181.5,111.8h18M202.5,111.8h1.5M205.5,111.8h1.5M210,111.8h7.5M34.5,113.2h9M45,113.2h1.5M48,113.2h7.5M64.5,113.2h1.5M67.5,113.2h1.5M72,113.2h6M82.5,113.2h12M96,113.2h3M109.5,113.2h1.5M115.5,113.2h7.5M130.5,113.2h9M142.5,113.2h3M147,113.2h7.5M163.5,113.2h7.5M172.5,113.2h15M189,113.2h7.5M198,113.2h1.5M202.5,113.2h15M34.5,114.8h1.5M40.5,114.8h9M52.5,114.8h3M60,114.8h1.5M64.5,114.8h1.5M67.5,114.8h3M73.5,114.8h1.5M76.5,114.8h1.5M82.5,114.8h3M90,114.8h3M94.5,114.8h1.5M99,114.8h1.5M108,114.8h3M114,114.8h4.5M120,114.8h4.5M130.5,114.8h6M145.5,114.8h4.5M151.5,114.8h3M156,114.8h3M160.5,114.8h1.5M165,114.8h10.5M177,114.8h1.5M180,114.8h6M187.5,114.8h4.5M193.5,114.8h6M202.5,114.8h12M216,114.8h1.5M36,116.2h1.5M40.5,116.2h1.5M43.5,116.2h1.5M52.5,116.2h4.5M58.5,116.2h3M64.5,116.2h3M69,116.2h3M73.5,116.2h4.5M90,116.2h4.5M96,116.2h1.5M99,116.2h1.5M103.5,116.2h10.5M115.5,116.2h1.5M118.5,116.2h4.5M126,116.2h4.5M132,116.2h1.5M135,116.2h1.5M139.5,116.2h1.5M142.5,116.2h3M147,116.2h1.5M153,116.2h6M163.5,116.2h1.5M168,116.2h1.5M171,116.2h1.5M174,116.2h1.5M177,116.2h4.5M183,116.2h16.5M201,116.2h3M207,116.2h10.5M34.5,117.8h1.5M39,117.8h6M49.5,117.8h3M55.5,117.8h3M60,117.8h10.5M72,117.8h3M76.5,117.8h1.5M79.5,117.8h3M90,117.8h4.5M96,117.8h6M103.5,117.8h1.5M106.5,117.8h1.5M109.5,117.8h3M114,117.8h3M120,117.8h3M124.5,117.8h1.5M127.5,117.8h7.5M141,117.8h1.5M144,117.8h3M151.5,117.8h1.5M154.5,117.8h3M160.5,117.8h1.5M168,117.8h7.5M177,117.8h30M208.5,117.8h3M213,117.8h4.5M34.5,119.2h1.5M37.5,119.2h4.5M55.5,119.2h1.5M61.5,119.2h1.5M66,119.2h3M73.5,119.2h3M79.5,119.2h1.5M82.5,119.2h1.5M88.5,119.2h6M96,119.2h6M106.5,119.2h4.5M114,119.2h7.5M123,119.2h1.5M127.5,119.2h6M135,119.2h1.5M147,119.2h3M153,119.2h1.5M159,119.2h3M166.5,119.2h1.5M169.5,119.2h4.5M175.5,119.2h3M180,119.2h4.5M186,119.2h10.5M198,119.2h19.5M34.5,120.8h3M39,120.8h4.5M49.5,120.8h3M54,120.8h3M60,120.8h6M72,120.8h3M78,120.8h1.5M82.5,120.8h1.5M85.5,120.8h1.5M93,120.8h1.5M96,120.8h3M102,120.8h1.5M106.5,120.8h1.5M109.5,120.8h1.5M115.5,120.8h3M120,120.8h10.5M132,120.8h1.5M135,120.8h4.5M144,120.8h7.5M153,120.8h4.5M160.5,120.8h1.5M169.5,120.8h4.5M175.5,120.8h3M181.5,120.8h36M39,122.2h1.5M48,122.2h3M54,122.2h1.5M60,122.2h7.5M70.5,122.2h3M82.5,122.2h1.5M94.5,122.2h1.5M111,122.2h1.5M114,122.2h1.5M117,122.2h10.5M129,122.2h4.5M135,122.2h1.5M138,122.2h3M147,122.2h1.5M154.5,122.2h4.5M162,122.2h3M168,122.2h1.5M172.5,122.2h6M181.5,122.2h6M189,122.2h15M205.5,122.2h12M37.5,123.8h1.5M40.5,123.8h1.5M46.5,123.8h1.5M51,123.8h6M61.5,123.8h1.5M70.5,123.8h7.5M82.5,123.8h3M90,123.8h1.5M115.5,123.8h3M120,123.8h16.5M147,123.8h4.5M154.5,123.8h4.5M165,123.8h18M184.5,123.8h12M199.5,123.8h9M210,123.8h3M216,123.8h1.5M34.5,125.2h3M39,125.2h7.5M52.5,125.2h3M63,125.2h1.5M67.5,125.2h3M72,125.2h10.5M88.5,125.2h1.5M96,125.2h1.5M100.5,125.2h1.5M108,125.2h4.5M114,125.2h1.5M120,125.2h1.5M123,125.2h7.5M132,125.2h1.5M135,125.2h1.5M142.5,125.2h1.5M145.5,125.2h4.5M151.5,125.2h1.5M154.5,125.2h3M165,125.2h1.5M168,125.2h15M184.5,125.2h4.5M192,125.2h7.5M201,125.2h1.5M204,125.2h4.5M210,125.2h1.5M213,125.2h4.5M34.5,126.8h7.5M43.5,126.8h1.5M55.5,126.8h1.5M67.5,126.8h3M72,126.8h4.5M81,126.8h1.5M85.5,126.8h3M106.5,126.8h1.5M109.5,126.8h1.5M114,126.8h4.5M120,126.8h15M144,126.8h1.5M147,126.8h1.5M153,126.8h1.5M156,126.8h1.5M166.5,126.8h3M171,126.8h13.5M186,126.8h13.5M201,126.8h7.5M210,126.8h7.5M40.5,128.2h3M45,128.2h3M52.5,128.2h3M69,128.2h1.5M72,128.2h3M79.5,128.2h7.5M99,128.2h3M105,128.2h1.5M111,128.2h3M120,128.2h1.5M123,128.2h1.5M126,128.2h3M130.5,128.2h4.5M145.5,128.2h1.5M151.5,128.2h1.5M159,128.2h4.5M171,128.2h7.5M183,128.2h34.5M43.5,129.8h4.5M66,129.8h3M72,129.8h1.5M75,129.8h1.5M85.5,129.8h1.5M88.5,129.8h3M97.5,129.8h1.5M103.5,129.8h1.5M106.5,129.8h1.5M112.5,129.8h3M120,129.8h6M127.5,129.8h1.5M132,129.8h3M139.5,129.8h3M145.5,129.8h1.5M148.5,129.8h3M154.5,129.8h1.5M162,129.8h1.5M169.5,129.8h3M174,129.8h15M190.5,129.8h3M195,129.8h12M208.5,129.8h6M216,129.8h1.5M45,131.2h1.5M63,131.2h3M67.5,131.2h3M85.5,131.2h1.5M93,131.2h3M97.5,131.2h3M106.5,131.2h3M111,131.2h1.5M118.5,131.2h1.5M124.5,131.2h6M135,131.2h4.5M141,131.2h3M148.5,131.2h3M154.5,131.2h1.5M165,131.2h1.5M169.5,131.2h3M174,131.2h1.5M178.5,131.2h27M207,131.2h3M211.5,131.2h6M34.5,132.8h4.5M46.5,132.8h1.5M54,132.8h1.5M58.5,132.8h1.5M61.5,132.8h9M84,132.8h4.5M91.5,132.8h6M102,132.8h1.5M105,132.8h3M109.5,132.8h4.5M117,132.8h1.5M120,132.8h3M126,132.8h1.5M129,132.8h3M135,132.8h4.5M141,132.8h3M147,132.8h1.5M154.5,132.8h1.5M160.5,132.8h1.5M163.5,132.8h3M168,132.8h6M177,132.8h12M190.5,132.8h10.5M202.5,132.8h15M36,134.2h3M40.5,134.2h3M45,134.2h3M49.5,134.2h6M57,134.2h1.5M60,134.2h12M73.5,134.2h1.5M76.5,134.2h1.5M84,134.2h4.5M90,134.2h7.5M103.5,134.2h3M108,134.2h6M121.5,134.2h3M130.5,134.2h1.5M136.5,134.2h3M141,134.2h1.5M145.5,134.2h1.5M153,134.2h1.5M162,134.2h27M190.5,134.2h3M195,134.2h1.5M198,134.2h1.5M201,134.2h1.5M204,134.2h1.5M207,134.2h3M213,134.2h1.5M37.5,135.8h6M45,135.8h6M52.5,135.8h3M58.5,135.8h12M73.5,135.8h1.5M76.5,135.8h1.5M79.5,135.8h1.5M82.5,135.8h1.5M85.5,135.8h4.5M93,135.8h6M102,135.8h1.5M106.5,135.8h7.5M115.5,135.8h1.5M118.5,135.8h1.5M121.5,135.8h3M133.5,135.8h6M141,135.8h1.5M144,135.8h3M153,135.8h6M160.5,135.8h1.5M163.5,135.8h9M174,135.8h3M180,135.8h10.5M192,135.8h24M37.5,137.2h7.5M46.5,137.2h1.5M51,137.2h1.5M55.5,137.2h3M63,137.2h6M73.5,137.2h1.5M78,137.2h1.5M81,137.2h6M88.5,137.2h1.5M91.5,137.2h1.5M94.5,137.2h1.5M97.5,137.2h3M102,137.2h3M108,137.2h10.5M120,137.2h3M126,137.2h1.5M133.5,137.2h4.5M139.5,137.2h1.5M142.5,137.2h3M147,137.2h1.5M150,137.2h3M156,137.2h3M163.5,137.2h1.5M169.5,137.2h1.5M175.5,137.2h3M181.5,137.2h3M186,137.2h6M193.5,137.2h1.5M199.5,137.2h6M207,137.2h10.5M36,138.8h1.5M39,138.8h6M46.5,138.8h4.5M54,138.8h7.5M73.5,138.8h10.5M87,138.8h4.5M93,138.8h1.5M96,138.8h6M108,138.8h1.5M114,138.8h9M126,138.8h1.5M133.5,138.8h1.5M136.5,138.8h1.5M141,138.8h3M145.5,138.8h3M151.5,138.8h1.5M157.5,138.8h1.5M162,138.8h3M166.5,138.8h6M174,138.8h3M180,138.8h1.5M183,138.8h6M192,138.8h12M205.5,138.8h12M34.5,140.2h1.5M37.5,140.2h1.5M40.5,140.2h12M54,140.2h7.5M72,140.2h1.5M75,140.2h1.5M79.5,140.2h4.5M85.5,140.2h3M90,140.2h1.5M93,140.2h3M100.5,140.2h3M108,140.2h7.5M117,140.2h4.5M123,140.2h9M133.5,140.2h1.5M136.5,140.2h1.5M139.5,140.2h3M147,140.2h1.5M150,140.2h1.5M153,140.2h1.5M160.5,140.2h3M166.5,140.2h1.5M169.5,140.2h4.5M175.5,140.2h15M192,140.2h13.5M210,140.2h3M214.5,140.2h1.5M34.5,141.8h3M43.5,141.8h1.5M46.5,141.8h1.5M52.5,141.8h6M63,141.8h1.5M82.5,141.8h18M105,141.8h4.5M111,141.8h3M117,141.8h1.5M120,141.8h4.5M126,141.8h4.5M132,141.8h3M136.5,141.8h3M141,141.8h1.5M144,141.8h1.5M148.5,141.8h4.5M154.5,141.8h1.5M159,141.8h1.5M162,141.8h1.5M165,141.8h1.5M169.5,141.8h9M184.5,141.8h9M195,141.8h1.5M199.5,141.8h6M208.5,141.8h1.5M211.5,141.8h3M34.5,143.2h3M39,143.2h3M43.5,143.2h1.5M48,143.2h6M57,143.2h3M61.5,143.2h3M69,143.2h3M81,143.2h4.5M87,143.2h7.5M96,143.2h3M102,143.2h15M118.5,143.2h4.5M124.5,143.2h1.5M127.5,143.2h3M135,143.2h3M139.5,143.2h3M147,143.2h3M151.5,143.2h1.5M156,143.2h4.5M171,143.2h1.5M175.5,143.2h1.5M186,143.2h9M198,143.2h3M202.5,143.2h1.5M208.5,143.2h6M216,143.2h1.5M34.5,144.8h15M51,144.8h1.5M54,144.8h4.5M70.5,144.8h1.5M87,144.8h1.5M90,144.8h3M94.5,144.8h1.5M102,144.8h1.5M106.5,144.8h4.5M112.5,144.8h6M120,144.8h1.5M129,144.8h1.5M132,144.8h1.5M138,144.8h6M148.5,144.8h12M162,144.8h4.5M168,144.8h1.5M175.5,144.8h3M180,144.8h1.5M183,144.8h1.5M186,144.8h6M193.5,144.8h6M204,144.8h1.5M210,144.8h1.5M213,144.8h1.5M216,144.8h1.5M34.5,146.2h3M43.5,146.2h1.5M46.5,146.2h7.5M55.5,146.2h3M61.5,146.2h1.5M64.5,146.2h3M85.5,146.2h1.5M88.5,146.2h9M103.5,146.2h9M114,146.2h1.5M117,146.2h1.5M120,146.2h1.5M123,146.2h3M129,146.2h1.5M132,146.2h1.5M138,146.2h1.5M141,146.2h3M148.5,146.2h3M153,146.2h4.5M160.5,146.2h4.5M166.5,146.2h6M181.5,146.2h1.5M186,146.2h3M192,146.2h3M196.5,146.2h1.5M199.5,146.2h3M204,146.2h3M36,147.8h1.5M39,147.8h1.5M42,147.8h1.5M46.5,147.8h18M66,147.8h4.5M84,147.8h1.5M93,147.8h1.5M103.5,147.8h1.5M106.5,147.8h3M111,147.8h1.5M114,147.8h1.5M117,147.8h1.5M123,147.8h7.5M132,147.8h1.5M135,147.8h3M139.5,147.8h1.5M142.5,147.8h7.5M154.5,147.8h6M162,147.8h4.5M168,147.8h3M178.5,147.8h9M189,147.8h7.5M199.5,147.8h9M210,147.8h1.5M213,147.8h3M34.5,149.2h1.5M37.5,149.2h4.5M49.5,149.2h6M57,149.2h1.5M61.5,149.2h1.5M64.5,149.2h1.5M79.5,149.2h7.5M91.5,149.2h1.5M97.5,149.2h3M102,149.2h1.5M105,149.2h6M118.5,149.2h1.5M127.5,149.2h1.5M130.5,149.2h1.5M133.5,149.2h3M138,149.2h9M150,149.2h4.5M156,149.2h1.5M159,149.2h1.5M165,149.2h1.5M168,149.2h4.5M174,149.2h15M192,149.2h4.5M201,149.2h1.5M204,149.2h1.5M210,149.2h3M214.5,149.2h3M36,150.8h1.5M39,150.8h4.5M45,150.8h4.5M51,150.8h3M58.5,150.8h3M67.5,150.8h3M72,150.8h3M76.5,150.8h1.5M81,150.8h1.5M84,150.8h3M88.5,150.8h4.5M100.5,150.8h3M106.5,150.8h6M124.5,150.8h1.5M133.5,150.8h1.5M136.5,150.8h3M141,150.8h1.5M144,150.8h1.5M148.5,150.8h6M156,150.8h4.5M162,150.8h1.5M165,150.8h3M169.5,150.8h4.5M178.5,150.8h9M192,150.8h9M205.5,150.8h4.5M211.5,150.8h6M34.5,152.2h1.5M37.5,152.2h3M42,152.2h1.5M46.5,152.2h3M52.5,152.2h3M66,152.2h10.5M87,152.2h3M91.5,152.2h4.5M99,152.2h4.5M109.5,152.2h1.5M112.5,152.2h9M136.5,152.2h4.5M142.5,152.2h3M150,152.2h1.5M153,152.2h6M162,152.2h4.5M183,152.2h6M192,152.2h9M202.5,152.2h1.5M205.5,152.2h7.5M34.5,153.8h3M39,153.8h10.5M51,153.8h3M55.5,153.8h1.5M58.5,153.8h1.5M64.5,153.8h1.5M69,153.8h1.5M72,153.8h7.5M81,153.8h1.5M84,153.8h3M88.5,153.8h3M93,153.8h4.5M103.5,153.8h3M108,153.8h4.5M114,153.8h10.5M126,153.8h4.5M132,153.8h1.5M135,153.8h7.5M144,153.8h12M162,153.8h4.5M168,153.8h3M172.5,153.8h1.5M178.5,153.8h3M183,153.8h3M189,153.8h1.5M192,153.8h9M204,153.8h4.5M210,153.8h7.5M42,155.2h6M51,155.2h4.5M58.5,155.2h1.5M61.5,155.2h1.5M69,155.2h1.5M76.5,155.2h3M81,155.2h3M85.5,155.2h3M99,155.2h1.5M103.5,155.2h1.5M106.5,155.2h6M117,155.2h6M124.5,155.2h1.5M127.5,155.2h1.5M130.5,155.2h6M138,155.2h6M147,155.2h4.5M153,155.2h3M159,155.2h7.5M171,155.2h1.5M175.5,155.2h3M183,155.2h1.5M186,155.2h3M190.5,155.2h3M195,155.2h3M205.5,155.2h1.5M208.5,155.2h1.5M36,156.8h3M40.5,156.8h3M45,156.8h1.5M57,156.8h1.5M60,156.8h1.5M66,156.8h1.5M69,156.8h1.5M78,156.8h3M82.5,156.8h1.5M85.5,156.8h10.5M99,156.8h3M103.5,156.8h3M109.5,156.8h3M118.5,156.8h1.5M126,156.8h6M133.5,156.8h1.5M139.5,156.8h10.5M153,156.8h3M159,156.8h6M166.5,156.8h1.5M169.5,156.8h3M180,156.8h1.5M184.5,156.8h3M190.5,156.8h3M195,156.8h1.5M205.5,156.8h3M210,156.8h1.5M36,158.2h4.5M42,158.2h6M58.5,158.2h6M67.5,158.2h13.5M84,158.2h7.5M96,158.2h1.5M105,158.2h1.5M108,158.2h1.5M111,158.2h3M124.5,158.2h1.5M127.5,158.2h1.5M133.5,158.2h1.5M136.5,158.2h1.5M141,158.2h3M145.5,158.2h9M156,158.2h3M162,158.2h4.5M171,158.2h3M180,158.2h7.5M190.5,158.2h1.5M196.5,158.2h1.5M199.5,158.2h1.5M205.5,158.2h1.5M208.5,158.2h1.5M36,159.8h3M42,159.8h4.5M57,159.8h1.5M60,159.8h1.5M72,159.8h1.5M75,159.8h1.5M79.5,159.8h3M84,159.8h6M99,159.8h1.5M102,159.8h1.5M105,159.8h10.5M118.5,159.8h4.5M126,159.8h1.5M129,159.8h3M133.5,159.8h1.5M136.5,159.8h1.5M139.5,159.8h3M153,159.8h1.5M156,159.8h7.5M168,159.8h1.5M171,159.8h3M175.5,159.8h1.5M178.5,159.8h1.5M184.5,159.8h1.5M187.5,159.8h1.5M196.5,159.8h4.5M202.5,159.8h1.5M210,159.8h1.5" stroke="#08c00c" stroke-width="1.6" fill="none"/><path d="M108,20.2h1.5M189,20.2h1.5M34.5,23.2h3M40.5,23.2h1.5M99,23.2h1.5M112.5,23.2h1.5M118.5,23.2h1.5M100.5,24.8h1.5M109.5,24.8h1.5M112.5,24.8h1.5M58.5,26.2h1.5M148.5,26.2h1.5M174,26.2h3M40.5,27.8h1.5M208.5,27.8h1.5M40.5,29.2h1.5M52.5,29.2h3M45,30.8h1.5M55.5,32.2h1.5M85.5,32.2h1.5M109.5,32.2h1.5M121.5,32.2h1.5M147,32.2h1.5M39,33.8h1.5M105,33.8h1.5M121.5,33.8h1.5M49.5,35.2h3M111,35.2h1.5M121.5,35.2h1.5M130.5,35.2h1.5M145.5,35.2h1.5M184.5,35.2h1.5M199.5,35.2h1.5M61.5,36.8h1.5M94.5,36.8h1.5M109.5,36.8h1.5M112.5,36.8h1.5M205.5,36.8h1.5M48,38.2h1.5M70.5,38.2h1.5M85.5,38.2h1.5M93,38.2h3M121.5,38.2h1.5M145.5,38.2h1.5M177,38.2h1.5M120,39.8h1.5M130.5,39.8h1.5M169.5,39.8h1.5M81,41.2h1.5M136.5,41.2h3M142.5,41.2h1.5M154.5,41.2h1.5M177,41.2h1.5M183,41.2h1.5M79.5,42.8h1.5M106.5,42.8h1.5M156,42.8h3M162,42.8h1.5M169.5,42.8h1.5M178.5,42.8h1.5M34.5,44.2h1.5M76.5,44.2h1.5M85.5,44.2h3M106.5,44.2h1.5M142.5,44.2h1.5M166.5,44.2h1.5M180,44.2h1.5M190.5,44.2h1.5M73.5,45.8h1.5M76.5,45.8h1.5M85.5,45.8h1.5M88.5,45.8h1.5M100.5,45.8h1.5M120,45.8h1.5M45,47.2h1.5M75,47.2h3M88.5,47.2h1.5M88.5,48.8h4.5M109.5,48.8h1.5M79.5,50.2h1.5M91.5,50.2h1.5M135,50.2h1.5M147,50.2h1.5M153,50.2h1.5M87,51.8h1.5M148.5,51.8h1.5M91.5,53.2h1.5M120,53.2h1.5M160.5,53.2h1.5M166.5,53.2h1.5M193.5,53.2h1.5M214.5,53.2h1.5M57,54.8h1.5M97.5,56.2h1.5M138,56.2h1.5M88.5,57.8h1.5M139.5,57.8h1.5M67.5,59.2h1.5M75,59.2h1.5M175.5,59.2h1.5M72,60.8h1.5M183,60.8h1.5M82.5,62.2h1.5M112.5,62.2h3M127.5,62.2h1.5M184.5,62.2h1.5M189,62.2h1.5M117,63.8h1.5M187.5,63.8h1.5M48,65.2h6M117,65.2h1.5M157.5,65.2h1.5M160.5,65.2h1.5M187.5,65.2h3M46.5,66.8h1.5M52.5,66.8h1.5M171,66.8h1.5M196.5,66.8h1.5M46.5,68.2h1.5M144,68.2h3M154.5,68.2h1.5M168,68.2h4.5M34.5,69.8h1.5M64.5,69.8h1.5M34.5,71.2h1.5M63,71.2h1.5M193.5,71.2h1.5M204,71.2h1.5M180,72.8h1.5M64.5,74.2h1.5M142.5,74.2h1.5M186,74.2h3M213,74.2h1.5M216,74.2h1.5M64.5,75.8h1.5M129,75.8h1.5M159,75.8h1.5M66,77.2h1.5M160.5,77.2h1.5M166.5,78.8h1.5M208.5,78.8h1.5M37.5,80.2h1.5M168,80.2h1.5M178.5,80.2h1.5M84,81.8h1.5M84,83.2h3M124.5,83.2h1.5M159,83.2h1.5M166.5,83.2h1.5M85.5,84.8h1.5M34.5,86.2h1.5M205.5,86.2h1.5M211.5,86.2h3M148.5,87.8h1.5M121.5,89.2h1.5M181.5,89.2h1.5M201,89.2h3M208.5,89.2h3M213,89.2h1.5M184.5,90.8h1.5M189,90.8h1.5M202.5,90.8h1.5M186,92.2h1.5M201,92.2h3M183,93.8h1.5M193.5,93.8h1.5M202.5,93.8h1.5M210,93.8h1.5M183,95.2h3M193.5,95.2h1.5M208.5,95.2h1.5M199.5,96.8h1.5M211.5,96.8h1.5M58.5,98.2h1.5M103.5,98.2h1.5M138,99.8h1.5M216,99.8h1.5M184.5,101.2h1.5M193.5,101.2h1.5M202.5,101.2h1.5M183,102.8h1.5M64.5,104.2h1.5M199.5,104.2h1.5M48,105.8h1.5M79.5,105.8h4.5M139.5,105.8h1.5M139.5,107.2h1.5M175.5,107.2h1.5M187.5,107.2h1.5M139.5,108.8h1.5M175.5,108.8h1.5M49.5,110.2h1.5M48,111.8h1.5M46.5,113.2h1.5M126,113.2h3M187.5,113.2h1.5M93,114.8h1.5M175.5,114.8h1.5M42,116.2h1.5M67.5,116.2h1.5M123,116.2h1.5M133.5,116.2h1.5M145.5,116.2h1.5M169.5,116.2h1.5M175.5,116.2h1.5M181.5,116.2h1.5M148.5,117.8h1.5M175.5,117.8h1.5M211.5,117.8h1.5M54,119.2h1.5M121.5,119.2h1.5M124.5,119.2h1.5M150,119.2h3M174,119.2h1.5M178.5,119.2h1.5M184.5,119.2h1.5M130.5,120.8h1.5M174,120.8h1.5M178.5,120.8h3M127.5,122.2h1.5M169.5,122.2h3M178.5,122.2h3M187.5,122.2h1.5M204,122.2h1.5M196.5,123.8h3M208.5,123.8h1.5M87,125.2h1.5M166.5,125.2h1.5M189,125.2h3M208.5,125.2h1.5M148.5,126.8h1.5M169.5,126.8h1.5M184.5,126.8h1.5M208.5,126.8h1.5M67.5,128.2h1.5M121.5,128.2h1.5M124.5,128.2h1.5M181.5,128.2h1.5M193.5,129.8h1.5M207,129.8h1.5M88.5,131.2h1.5M205.5,131.2h1.5M210,131.2h1.5M103.5,132.8h1.5M189,132.8h1.5M201,132.8h1.5M55.5,134.2h1.5M102,134.2h1.5M189,134.2h1.5M193.5,134.2h1.5M199.5,134.2h1.5M216,134.2h1.5M124.5,135.8h1.5M190.5,135.8h1.5M216,135.8h1.5M58.5,137.2h1.5M79.5,137.2h1.5M123,137.2h3M138,137.2h1.5M145.5,137.2h1.5M159,137.2h1.5M184.5,137.2h1.5M192,137.2h1.5M205.5,137.2h1.5M45,138.8h1.5M109.5,138.8h1.5M123,138.8h3M144,138.8h1.5M189,138.8h3M73.5,140.2h1.5M165,140.2h1.5M168,140.2h1.5M190.5,140.2h1.5M213,140.2h1.5M42,141.8h1.5M48,141.8h1.5M51,141.8h1.5M196.5,141.8h3M216,141.8h1.5M85.5,143.2h1.5M123,143.2h1.5M153,143.2h1.5M195,143.2h3M93,144.8h1.5M103.5,144.8h1.5M111,144.8h1.5M130.5,144.8h1.5M39,146.2h4.5M54,146.2h1.5M112.5,146.2h1.5M115.5,146.2h1.5M130.5,146.2h1.5M184.5,146.2h1.5M195,146.2h1.5M40.5,147.8h1.5M45,147.8h1.5M91.5,147.8h1.5M115.5,147.8h1.5M166.5,147.8h1.5M198,147.8h1.5M43.5,149.2h6M148.5,149.2h1.5M154.5,149.2h1.5M157.5,149.2h1.5M163.5,149.2h1.5M199.5,149.2h1.5M205.5,149.2h3M43.5,150.8h1.5M115.5,150.8h1.5M145.5,150.8h3M163.5,150.8h1.5M40.5,152.2h1.5M43.5,152.2h3M111,152.2h1.5M141,152.2h1.5M147,152.2h3M180,152.2h3M37.5,153.8h1.5M100.5,153.8h3M186,153.8h3M36,155.2h6M55.5,155.2h1.5M91.5,155.2h1.5M100.5,155.2h3M105,155.2h1.5M151.5,155.2h1.5M189,155.2h1.5M193.5,155.2h1.5M207,155.2h1.5M81,156.8h1.5M97.5,156.8h1.5M150,156.8h3M40.5,158.2h1.5M81,158.2h3M109.5,158.2h1.5M144,158.2h1.5M82.5,159.8h1.5M90,159.8h1.5M127.5,159.8h1.5M151.5,159.8h1.5" stroke="#109410" stroke-width="1.6" fill="none"/></g></g>
<path d="M108.5,63.8 109.8,65 110.8,66.5 112.2,67.5 113.5,68.7 115.4,69.4 117.1,70.5 119.1,71 120.8,72.3 123.3,72.5 125.6,71.7 127.1,72.4 128.7,73 129,74.6 129.9,76 129.3,77.8" fill="none" stroke="#000" stroke-width="0.8" stroke-linejoin="round"/>
<path d="M129.3,77.8 127.2,78.7 125.6,80.3 123.9,81.6 122,82.7 120.9,83.7 120.2,85.1 119.8,86.9 119.6,88.8 117.9,90.2 115.9,91.2 114.4,91.8 113.5,93 112.8,94.8 112.9,96.7 113.6,98.1 114.1,99.7 115.3,101.3 117.1,102.2 118.8,102.9 120.2,104" fill="none" stroke="#000" stroke-width="0.8" stroke-linejoin="round"/>
<path d="M129.3,77.8 130.7,78.1 131.7,79 133.6,78.5 135.4,77.8 137.5,78.1 139.6,77.8 141.1,77 142.7,76.6 144,75.8 145.1,74.8 146.3,73.9 147.5,73 148.6,74 150,74.2 150.8,76 151.8,77.8 152.6,79 154,79.5 155.8,78.3 157.9,77.5 159.9,77.5 161.8,78.2 163.1,77.7 164.4,77.5 165.7,77.8 167,77.6" fill="none" stroke="#000" stroke-width="0.8" stroke-linejoin="round"/>
<path d="M145.1,74.8 144.7,77 143.9,79 143.9,81.2 143.3,83.3 144.2,84.7 144.5,86.3 145.1,88 146.3,89.4 145.4,90.8 145.1,92.4 143.1,93.4 140.9,93.6 139.5,95 137.8,96.1 136.8,97.8 136,99.7 134.9,101.5 134.2,103.4 134,105.2 133.6,107" fill="none" stroke="#000" stroke-width="0.8" stroke-linejoin="round"/>
<path d="M120.2,104 121.5,105.5 123.2,106.4 125,107.5 126.9,108.2 128.8,108.3 130.5,108.9 131.9,107.9 133.6,107.6" fill="none" stroke="#000" stroke-width="0.8" stroke-linejoin="round"/>
<path d="M118.3,104.5 117.4,106 116.4,107.4 116.1,109.1 116.9,110.7 117,112.6 117.4,114.3 117.3,116 117.2,117.8 116.7,119.5 116.6,121.3 117.1,123 117.4,124.7 118.6,126.4 120,127.9 121.6,128 123.2,128.6 122.5,130.5 121.9,132.5 121,134 120.6,135.7 121.9,137.1 122.6,138.9 123.5,140.8 123.9,142.8 124.4,144.2 124.5,145.6" fill="none" stroke="#000" stroke-width="0.8" stroke-linejoin="round"/>
<path d="M155,79.3 156,81.5 156.7,83.1 158.5,83.8 159.2,85.4 159.9,87.6 159.8,89.9 159.5,91.6 159.2,93.2 159.7,95.3 161.1,97 160.8,99.1 159.8,101 158.3,101.8 156.6,102.2 155.4,103.1 154,103.5 152.4,102.9 150.9,102 150.5,103.8 149.3,105.2 151.2,106.5 153.3,107.6 155.5,107.2 157.6,108.2 159.8,107.8 161.1,109.9 161.8,112.3 163.8,113.1 165.7,114.3 167.5,114.3 169.1,115.4 170.9,115.6 172.9,115.8 174.8,116.2 174.4,117.8 174.1,119.5 173.3,121.4 172.8,123.4 173.6,125.3 173.5,127.3 175.3,128.4 176.7,129.9 177.4,131.2 178,132.5" fill="none" stroke="#000" stroke-width="0.8" stroke-linejoin="round"/>
<path d="M174.5,24.6 174.3,26.8 174.3,29.1 174.9,30.6 175.5,32.2 174.9,34 174.3,35.8 172.9,37.5 171.8,39.5 170.6,41.6 169.4,43.7 168.2,45.6 167.6,47.1 166.3,48 165.5,49.5 164.5,51 163.4,52.4 163.3,54.1 164.7,55.1 165.7,56.5 166.1,58.5 167,60.2 166.9,62.1 166.3,63.8 167,65.9 165.9,68 164.4,69.8 164.2,71.9 163.1,73.7 164.1,74.8 164.4,76.3 165.6,77.1 167,77.6" fill="none" stroke="#000" stroke-width="0.8" stroke-linejoin="round"/>
<path d="M167,77.6 169,77.6 170.9,76.9 172.6,76.8 174.3,76.1 176.1,76.3 177.8,75.7 179.5,75.2 181.3,75 182.9,73.9 184.8,73.6 186.5,73 188.2,73.4 189.9,72.9 191.6,73 193.3,73.5 195.1,73.9 196.8,74.3 197.8,75.3 198.8,76.3 198.2,77.6 197.5,78.9 196.8,81 195.5,82.8" fill="none" stroke="#000" stroke-width="0.8" stroke-linejoin="round"/>
<path d="M63.8,101 65.2,99.8 66.5,98.5 68,98.2 69.3,97.3 70.7,95.9 71.7,94.2 72.9,92.4 74.7,91.6 76.6,91.2 79,90.6 79.5,92.1 80.2,93.6 81.2,95 82.1,96.9 82.5,98.9 84.6,99.9 86.3,101.5 88,102.4 89.7,103.3 91.5,104.1 93.3,105.2 95.4,105.4 97.3,105.5 98.9,104.6 100.5,104 102.2,103.6 103.7,102.8 106.2,102.5 108.6,102.8 110.3,103.9 112.3,104.6 113.9,104.6 115.3,104 116.9,104.2 118.3,103.4 120.2,104" fill="none" stroke="#000" stroke-width="0.8" stroke-linejoin="round"/>
<path d="M95.4,105.4 94.4,106.5 94.1,108 93.8,109.3 93.5,110.6 95.7,111.5 98,111.9 100,110.6 101,109.3 101.9,108 103,106.5 104.5,105.4 106.6,104.6 108.4,103.2" fill="none" stroke="#000" stroke-width="0.8" stroke-linejoin="round"/>
<path d="M82.5,98.9 82,100.8 81.1,102.4 80,104 79.3,105.8 78.5,107.5 77.9,109.3 78,110.7 78.6,111.9 77.9,114 76.6,115.8 76.1,117.5 75.7,119.2 76,121 75.8,122.8 75.4,124.5 74.7,126.2 74.5,128.1 74,130 72.9,131.9 72.1,133.9 71.9,136.3 70.8,138.5" fill="none" stroke="#000" stroke-width="0.8" stroke-linejoin="round"/>
<path d="M78.6,111.9 80.6,111.8 82.5,112.5 83.2,113.7 84.4,114.5 84.8,116.5 85.7,118.4 87.6,119.3 88.9,121 90.5,121.7 91.5,123.1 92.8,124.2 93.9,125.5 95.6,126.2 96.7,127.5 98.5,129 100,130.7 101.5,132.2 103.2,133.3 105.2,133.2 107.1,133.9 108.6,132.8 109.7,131.3 111.3,130.7 112.3,129.4 113.5,130.5 115,131 115.8,133 117.4,134.4 119,135.1 120.6,135.7" fill="none" stroke="#000" stroke-width="0.8" stroke-linejoin="round"/>
<path d="M66.2,93.2 68,92.6 69.6,93.6 68.4,94.8 66.4,94.6 66.2,93.2" fill="none" stroke="#000" stroke-width="0.8" stroke-linejoin="round"/>
<path d="M36.4,85.1 37.3,83.6 38.9,82.7 39.9,81.3 41.5,80.5 42.5,79 43.8,77.3 45,75.4 46.2,74.2 47.9,74.4 49.2,75.4 50.8,76.5 52.3,77.8 54.7,78.4 55.9,76.9 57.1,75.4 58.9,73.6 61.4,74.2 62.9,75.1 63.8,76.6 65.6,77.4 67.5,77.8 69.6,77.4 71.7,77.8 73.5,77.1 75.4,76.6 77.2,76 79,75.4 80.8,74.7 82.7,74.2 84,73 85.1,71.7 85.9,70.3 86.3,68.7 87.7,67.5 88.2,65.7 89.3,64.8 90.6,64.4 92.3,64.6 94,64.4 95.4,65.6 97,66.5 98.9,66 100.9,65.9 102.6,64.9 104.5,65 106.5,64.9 108.2,63.8 110.2,63.4 112.2,63.2 114.3,63.2 116.2,63 117.9,62 118.6,60.5 119.1,58.9 118.5,57.4 117.9,55.9 116.9,54.5 115.5,53.5 113.5,53.3 111.8,52.2 110,52.3 108.2,52.9 106.6,52.7 105.1,52.2 104.1,50.9 103.9,49.2 102.2,48.4 100.3,48 99.7,46.8 98.4,46.2 97.5,44.8 97.2,43.1 97.9,41.7 98.4,40.1 100.2,39 102.1,38.3 104,37.9 105.7,37 106.8,36 107.6,34.6 109.4,35.8 110.8,36.8 111.8,38.3 113.5,39.8 115.5,40.7 116.9,41.5 118.5,41.9 120.4,41.2 122.2,40.1 123.9,39.2 123.9,37 123.7,35.7 122.8,34.6 122,33.5 121.3,32.4 122.2,31.2 124,31.7 124.9,33.5 126.2,35 127,36.8 128.5,38.1 129.3,39.8 129.2,41.7 130.5,41.2 131.3,40.1 132.1,38.5 133.1,37 133.7,35.8 134.3,34.6 135.7,33.4 137.4,32.8 139.3,32.1 141,31 142.8,30.8 144.7,31 146.4,32 148.3,32.2 149.1,30.8 150.2,29.7 150.6,27.9 150.8,26.1 151.3,24.2 152,22.4 154,21.8 156,21 157.9,20.9 159.7,21.2 161.5,21.8 162.2,23.8 163.3,25.5 165.1,27.3 166.8,26.6 168.2,25.5 170,25 171.8,24.3 173.6,25.1 175.5,24.9 177.9,24.3 178.5,25.7 178.5,27.3 178.4,29.2 179.1,31 180,32.7 180.3,34.6 180.9,35.9 182.2,36.4 184,37.1 185.8,37.6 187,38.6 188.3,39.5 187.6,40.9 187.9,42.5 187,44.9 187.9,46.8 189.5,46.2 190.1,43.7 191.3,43.1 191.5,44.7 192.3,46.2 192.1,47.7 192.5,49.2 193.9,49.4 194.9,50.4 196.8,50.6 198.6,51 200.2,50.7 201.6,51.4 201.9,49.9 202.9,48.6 203.2,47 204.1,45.6 205.3,44.2 205.9,42.5 207.1,43.1 207.8,44.6 207.7,46.2 208.3,48.6 210.2,49.2 209.7,50.5 208.9,51.6 208.9,53.5 208.9,55.3 210.2,56.5 209.5,58.9 209.7,60.8 210.6,62.4 211,64.4 212.4,65.9 212.5,67.9 213.1,69.8 211.7,71.6 209.8,73 207.8,73.6 205.9,74.3 203.9,74.7 202,75.6 200.8,77.6 198.8,78.9 197.5,80.1 196.7,81.6 195.5,82.8 194.8,84.1 194.2,85.4 195.4,86.2 196.8,86.7 198.6,86.7 200.3,86.3 202,86 204,85.4 205.9,84.7 207.8,83.9 209.8,83.8 211.5,84.2 213.1,84.7 214.4,85.8 215,87.3 215.5,89.6 216,91.9 215.5,93.5 215,95.1 213.3,95.5 211.8,96.4 211.3,98 210.5,99.6 210.3,101.5 209.2,103 208.5,105.2 209.1,106.8 209.8,108.4 211.6,108.7 213.1,109.7 213.5,111.7 214.4,113.6 214.8,115.2 215,116.9 213.4,117.7 211.8,118.2 210.7,119.6 210.5,121.4 209.6,123.1 208.5,124.7 206.9,125.2 205.3,125.3 203.7,125.8 202,126 201.4,127.3 200.7,128.6 200.7,131.2 198.1,131.2 197.4,129.6 197.5,127.9 195.5,127.3 194.2,128.2 192.9,129.2 191.6,131.2 189.7,130.5 188.6,131.6 188.4,133.1 188.1,135.3 188,137.6 186.5,137 186.1,135.6 185.2,134.4 184.1,133.3 182.6,133.1 181.5,132.1 180,131.8 178.6,132.2 177.4,133.1 176.1,134.5 175.4,136.3 174.2,137.4 173.5,138.9 172,140.1 170.2,140.9 168.6,141.9 167,142.8 165.4,143.3 163.7,143.5 162.6,142.7 161.8,141.5 160.5,140.5 159.2,139.6 157.9,140.1 156.6,140.2 154.4,140.2 152.4,138.9 151.2,137.2 149.8,135.7 148.6,134 147.2,132.5 145.6,131.6 144.6,130.1 143.3,130.7 142,131.2 140.5,132.6 138.8,133.8 137.9,135.6 137.5,137.6 136.6,139.5 134.9,140.9 133.1,142.1 131,142.6 129,143.5 127.1,144.5 125.1,145.1 123.2,146.1 121.3,147.1 119.5,148.1 117.4,148.7 115.9,149.2 115,150.5 114.3,151.9 113.1,153 112.4,154.9 111.1,156.3 110.3,157.4 109.2,158.2 107.8,157.7 106.6,156.9 104.9,156.9 103.3,156.3 101.4,155.9 99.4,155.6 97.6,154.5 95.5,154.3 94,153.7 92.9,152.4 91.6,151.8 90.3,151.1 88.8,150.3 87.1,149.8 85.9,149 84.5,148.9 82.6,149.8 81,150.4 80,151.8 79.3,153.3 78,154.3 76.7,155.3 75.4,156.3 73.6,156.6 72.2,157.6 70.3,158.4 68.3,158.2 67,157.5 65.7,156.9 65,155 65.3,153.5 66.3,152.4 67.5,151 68.3,149.2 69.4,147.7 69.6,145.9 68.9,144 70.2,143 71.5,142 70.7,140.5 70.9,138.8 69.3,137.8 68.3,136.2 66.6,135 65,133.6 63.6,132.3 61.8,131.6 60,130.5 58.5,129 58.4,127.4 57.9,125.8 58.7,124.3 59.7,122.9 60.5,120.8 61.7,119 62.9,116.8 63.6,114.5 64,112.5 64.9,110.6 65.8,108.9 66.9,107.3 66.8,105.6 66.2,104.1 65.2,102.2 64.3,100.2 62.5,98.6 60.4,97.6 58.7,97.8 57,98.4 55.2,98.2 53.5,98.9 51.6,99.2 50,100.2 48.6,100.7 46.8,100.4 45,100.3 43.7,99 41.9,98.5 40.8,97.2 40.7,95.5 40.2,94 40.1,92.4 40.1,90.3 39.5,88.2 38.3,87.4 37,87Z" fill="none" stroke="#000" stroke-width="1.3" stroke-linejoin="round"/>
<path d="M65.4,157.5C64,159.5 64.6,161.5 65,163.2" fill="none" stroke="#000" stroke-width="1.1"/>
</g>
<path d="M36.3,163.2v2.8M42.3,163.2v2.8M48.4,163.2v5.2M54.4,163.2v2.8M60.4,163.2v2.8M66.5,163.2v2.8M72.5,163.2v2.8M78.5,163.2v5.2M84.6,163.2v2.8M90.6,163.2v2.8M96.7,163.2v2.8M102.7,163.2v2.8M108.8,163.2v5.2M114.8,163.2v2.8M120.8,163.2v2.8M126.9,163.2v2.8M132.9,163.2v2.8M138.9,163.2v5.2M145,163.2v2.8M151,163.2v2.8M157.1,163.2v2.8M163.1,163.2v2.8M169.2,163.2v5.2M175.2,163.2v2.8M181.2,163.2v2.8M187.3,163.2v2.8M193.3,163.2v2.8M199.3,163.2v5.2M205.4,163.2v2.8M211.4,163.2v2.8M33.4,21.3h-2.8M33.4,27.3h-5.2M33.4,33.3h-2.8M33.4,39.4h-2.8M33.4,45.4h-2.8M33.4,51.5h-2.8M33.4,57.5h-5.2M33.4,63.5h-2.8M33.4,69.6h-2.8M33.4,75.6h-2.8M33.4,81.7h-2.8M33.4,87.7h-5.2M33.4,93.7h-2.8M33.4,99.8h-2.8M33.4,105.8h-2.8M33.4,111.9h-2.8M33.4,117.9h-5.2M33.4,123.9h-2.8M33.4,130h-2.8M33.4,136h-2.8M33.4,142.1h-2.8M33.4,148.1h-5.2M33.4,154.1h-2.8M33.4,160.2h-2.8" stroke="#000" stroke-width="0.9" fill="none"/><rect x="33.4" y="15.2" width="183.9" height="148" fill="none" stroke="#000" stroke-width="1.1"/><text x="48.4" y="178.7" font-size="7" text-anchor="middle">104<tspan font-size="4" dy="-3.1">o</tspan><tspan dy="3.1">E</tspan></text><text x="78.5" y="178.7" font-size="7" text-anchor="middle">105<tspan font-size="4" dy="-3.1">o</tspan><tspan dy="3.1">E</tspan></text><text x="108.8" y="178.7" font-size="7" text-anchor="middle">106<tspan font-size="4" dy="-3.1">o</tspan><tspan dy="3.1">E</tspan></text><text x="138.9" y="178.7" font-size="7" text-anchor="middle">107<tspan font-size="4" dy="-3.1">o</tspan><tspan dy="3.1">E</tspan></text><text x="169.2" y="178.7" font-size="7" text-anchor="middle">108<tspan font-size="4" dy="-3.1">o</tspan><tspan dy="3.1">E</tspan></text><text x="199.3" y="178.7" font-size="7" text-anchor="middle">109<tspan font-size="4" dy="-3.1">o</tspan><tspan dy="3.1">E</tspan></text><text x="23.9" y="29.9" font-size="7" text-anchor="end">29<tspan font-size="4" dy="-3.1">o</tspan><tspan dy="3.1">N</tspan></text><text x="23.9" y="60.1" font-size="7" text-anchor="end">28<tspan font-size="4" dy="-3.1">o</tspan><tspan dy="3.1">N</tspan></text><text x="23.9" y="90.3" font-size="7" text-anchor="end">27<tspan font-size="4" dy="-3.1">o</tspan><tspan dy="3.1">N</tspan></text><text x="23.9" y="120.5" font-size="7" text-anchor="end">26<tspan font-size="4" dy="-3.1">o</tspan><tspan dy="3.1">N</tspan></text><text x="23.9" y="150.7" font-size="7" text-anchor="end">25<tspan font-size="4" dy="-3.1">o</tspan><tspan dy="3.1">N</tspan></text>
<text x="32.9" y="14.5" font-size="7.9" textLength="45" lengthAdjust="spacingAndGlyphs">(a) AVE NDVI</text>
<g transform="translate(0,183.2)">
<g clip-path="url(#prov)"><g filter="url(#bl)"><rect x="34.5" y="19.5" width="183" height="141" fill="#1eb91e"/><path d="M178.5,95.2h1.5M202.5,96.8h1.5M189,98.2h1.5M175.5,122.2h1.5M190.5,128.2h1.5M195,129.8h1.5M196.5,135.8h1.5" stroke="#e61919" stroke-width="1.6" fill="none"/><path d="M157.5,23.2h1.5M193.5,81.8h1.5M193.5,83.2h1.5M108,92.2h1.5M196.5,95.2h1.5M204,95.2h1.5M166.5,102.8h1.5M181.5,107.2h1.5M163.5,114.8h1.5M195,119.2h1.5M184.5,120.8h1.5M184.5,122.2h1.5M174,123.8h1.5" stroke="#dda511" stroke-width="1.6" fill="none"/><path d="M154.5,20.2h1.5M73.5,21.8h1.5M190.5,26.2h1.5M208.5,26.2h1.5M121.5,29.2h1.5M165,29.2h1.5M84,32.2h1.5M94.5,32.2h1.5M148.5,32.2h1.5M202.5,32.2h1.5M165,33.8h1.5M201,33.8h1.5M154.5,35.2h1.5M42,36.8h1.5M178.5,36.8h1.5M72,41.2h1.5M189,41.2h1.5M166.5,42.8h1.5M76.5,44.2h1.5M156,44.2h1.5M159,44.2h1.5M190.5,45.8h1.5M169.5,47.2h1.5M184.5,47.2h1.5M46.5,50.2h1.5M190.5,50.2h1.5M166.5,51.8h1.5M172.5,51.8h1.5M177,51.8h1.5M181.5,51.8h1.5M106.5,53.2h1.5M133.5,53.2h1.5M39,54.8h1.5M133.5,54.8h1.5M153,56.2h1.5M199.5,56.2h1.5M132,57.8h1.5M154.5,57.8h1.5M67.5,59.2h1.5M136.5,59.2h1.5M148.5,59.2h1.5M46.5,60.8h1.5M129,60.8h1.5M139.5,60.8h1.5M123,62.2h1.5M175.5,63.8h1.5M168,66.8h1.5M175.5,68.2h1.5M157.5,71.2h1.5M154.5,77.2h3M64.5,78.8h1.5M142.5,78.8h1.5M186,78.8h3M148.5,80.2h1.5M156,80.2h1.5M184.5,80.2h3M189,80.2h1.5M187.5,81.8h1.5M192,81.8h1.5M153,83.2h1.5M157.5,83.2h1.5M195,83.2h1.5M91.5,84.8h1.5M165,84.8h1.5M169.5,84.8h1.5M184.5,84.8h1.5M205.5,84.8h1.5M105,86.2h3M153,86.2h1.5M171,86.2h1.5M177,86.2h1.5M192,86.2h1.5M211.5,86.2h1.5M45,87.8h1.5M153,87.8h1.5M192,87.8h3M208.5,87.8h1.5M211.5,87.8h1.5M159,89.2h4.5M190.5,89.2h1.5M210,89.2h1.5M162,90.8h1.5M192,90.8h1.5M195,90.8h1.5M208.5,90.8h1.5M214.5,90.8h1.5M148.5,92.2h3M157.5,92.2h1.5M162,92.2h1.5M198,92.2h1.5M208.5,92.2h1.5M214.5,92.2h1.5M42,93.8h1.5M163.5,93.8h1.5M181.5,93.8h1.5M196.5,93.8h1.5M199.5,93.8h1.5M214.5,93.8h1.5M76.5,95.2h1.5M111,95.2h1.5M159,95.2h3M198,95.2h1.5M205.5,95.2h1.5M213,95.2h1.5M160.5,96.8h1.5M166.5,96.8h1.5M174,96.8h1.5M196.5,96.8h1.5M201,96.8h1.5M205.5,96.8h1.5M70.5,98.2h1.5M109.5,98.2h1.5M145.5,98.2h1.5M166.5,98.2h1.5M190.5,98.2h1.5M205.5,98.2h1.5M124.5,99.8h1.5M139.5,99.8h1.5M144,99.8h1.5M150,99.8h1.5M205.5,99.8h3M118.5,101.2h1.5M144,101.2h1.5M165,101.2h1.5M168,101.2h1.5M183,101.2h1.5M189,101.2h1.5M196.5,101.2h1.5M154.5,102.8h1.5M214.5,102.8h3M141,104.2h1.5M148.5,104.2h1.5M151.5,104.2h3M156,104.2h1.5M198,104.2h1.5M204,104.2h1.5M153,105.8h1.5M159,105.8h1.5M166.5,105.8h1.5M186,105.8h1.5M91.5,107.2h1.5M142.5,107.2h1.5M157.5,107.2h1.5M162,107.2h1.5M171,107.2h1.5M202.5,107.2h1.5M171,108.8h1.5M174,108.8h1.5M214.5,108.8h1.5M162,110.2h3M193.5,110.2h3M207,110.2h1.5M211.5,110.2h1.5M216,110.2h1.5M156,111.8h1.5M163.5,111.8h1.5M178.5,111.8h1.5M192,111.8h1.5M196.5,111.8h1.5M205.5,111.8h1.5M169.5,113.2h1.5M178.5,113.2h3M199.5,113.2h3M157.5,114.8h1.5M195,114.8h1.5M210,114.8h1.5M216,114.8h1.5M121.5,116.2h1.5M157.5,116.2h3M166.5,116.2h1.5M175.5,117.8h1.5M210,117.8h1.5M216,117.8h1.5M180,119.2h1.5M208.5,119.2h3M84,120.8h1.5M181.5,120.8h1.5M214.5,120.8h1.5M154.5,122.2h1.5M183,122.2h1.5M189,122.2h1.5M157.5,123.8h1.5M163.5,123.8h1.5M183,123.8h1.5M195,123.8h1.5M208.5,123.8h1.5M165,125.2h3M190.5,125.2h1.5M195,125.2h3M202.5,125.2h1.5M214.5,125.2h1.5M165,126.8h1.5M172.5,126.8h1.5M175.5,126.8h1.5M183,126.8h3M189,126.8h1.5M192,126.8h1.5M195,126.8h1.5M157.5,128.2h1.5M196.5,128.2h1.5M198,129.8h1.5M198,132.8h1.5M199.5,135.8h1.5M177,137.2h1.5M189,137.2h1.5M193.5,137.2h1.5M172.5,138.8h1.5M123,140.2h1.5M184.5,141.8h1.5M151.5,143.2h1.5M199.5,143.2h1.5M124.5,144.8h1.5M198,144.8h1.5M114,146.2h1.5" stroke="#fff014" stroke-width="1.6" fill="none"/><path d="M39,20.2h1.5M48,20.2h1.5M64.5,20.2h3M70.5,20.2h7.5M82.5,20.2h1.5M93,20.2h1.5M99,20.2h1.5M102,20.2h3M108,20.2h1.5M117,20.2h1.5M121.5,20.2h1.5M138,20.2h1.5M148.5,20.2h1.5M153,20.2h1.5M157.5,20.2h1.5M162,20.2h1.5M171,20.2h1.5M178.5,20.2h1.5M183,20.2h3M192,20.2h1.5M198,20.2h1.5M207,20.2h1.5M211.5,20.2h1.5M34.5,21.8h3M43.5,21.8h1.5M46.5,21.8h1.5M63,21.8h4.5M100.5,21.8h1.5M103.5,21.8h1.5M124.5,21.8h1.5M135,21.8h4.5M142.5,21.8h1.5M145.5,21.8h1.5M148.5,21.8h1.5M153,21.8h3M168,21.8h1.5M171,21.8h3M186,21.8h1.5M192,21.8h4.5M204,21.8h1.5M34.5,23.2h3M63,23.2h1.5M67.5,23.2h1.5M72,23.2h1.5M75,23.2h3M94.5,23.2h1.5M103.5,23.2h1.5M109.5,23.2h1.5M114,23.2h1.5M120,23.2h1.5M124.5,23.2h1.5M130.5,23.2h3M138,23.2h1.5M159,23.2h3M183,23.2h3M187.5,23.2h1.5M198,23.2h1.5M207,23.2h3M34.5,24.8h1.5M66,24.8h1.5M72,24.8h1.5M87,24.8h1.5M114,24.8h1.5M117,24.8h1.5M120,24.8h3M126,24.8h1.5M130.5,24.8h1.5M133.5,24.8h1.5M138,24.8h1.5M145.5,24.8h1.5M150,24.8h1.5M157.5,24.8h3M172.5,24.8h1.5M175.5,24.8h1.5M183,24.8h1.5M192,24.8h1.5M201,24.8h1.5M205.5,24.8h1.5M208.5,24.8h3M213,24.8h1.5M216,24.8h1.5M46.5,26.2h1.5M61.5,26.2h1.5M76.5,26.2h1.5M79.5,26.2h1.5M82.5,26.2h1.5M90,26.2h1.5M94.5,26.2h1.5M103.5,26.2h3M117,26.2h1.5M144,26.2h3M150,26.2h7.5M165,26.2h1.5M168,26.2h1.5M171,26.2h1.5M175.5,26.2h1.5M180,26.2h1.5M183,26.2h1.5M186,26.2h1.5M189,26.2h1.5M195,26.2h1.5M199.5,26.2h1.5M204,26.2h1.5M207,26.2h1.5M213,26.2h1.5M216,26.2h1.5M45,27.8h3M49.5,27.8h1.5M52.5,27.8h1.5M64.5,27.8h1.5M79.5,27.8h1.5M90,27.8h4.5M102,27.8h3M108,27.8h1.5M111,27.8h1.5M115.5,27.8h3M120,27.8h1.5M123,27.8h1.5M138,27.8h1.5M142.5,27.8h1.5M160.5,27.8h1.5M175.5,27.8h1.5M178.5,27.8h1.5M184.5,27.8h1.5M195,27.8h1.5M201,27.8h1.5M211.5,27.8h1.5M216,27.8h1.5M39,29.2h1.5M46.5,29.2h1.5M72,29.2h1.5M82.5,29.2h3M102,29.2h3M111,29.2h1.5M115.5,29.2h1.5M120,29.2h1.5M123,29.2h1.5M127.5,29.2h1.5M135,29.2h1.5M144,29.2h1.5M147,29.2h3M160.5,29.2h1.5M163.5,29.2h1.5M166.5,29.2h1.5M169.5,29.2h3M181.5,29.2h3M208.5,29.2h1.5M213,29.2h1.5M216,29.2h1.5M34.5,30.8h1.5M37.5,30.8h1.5M40.5,30.8h1.5M63,30.8h1.5M76.5,30.8h1.5M81,30.8h3M90,30.8h3M99,30.8h1.5M120,30.8h1.5M123,30.8h1.5M126,30.8h1.5M133.5,30.8h1.5M139.5,30.8h4.5M147,30.8h1.5M153,30.8h1.5M157.5,30.8h1.5M160.5,30.8h3M171,30.8h1.5M199.5,30.8h1.5M202.5,30.8h4.5M216,30.8h1.5M36,32.2h1.5M40.5,32.2h3M49.5,32.2h3M60,32.2h3M66,32.2h1.5M82.5,32.2h1.5M90,32.2h3M123,32.2h4.5M151.5,32.2h1.5M154.5,32.2h3M162,32.2h1.5M165,32.2h3M178.5,32.2h1.5M201,32.2h1.5M204,32.2h1.5M208.5,32.2h1.5M216,32.2h1.5M34.5,33.8h1.5M37.5,33.8h1.5M49.5,33.8h1.5M64.5,33.8h1.5M79.5,33.8h1.5M93,33.8h1.5M111,33.8h1.5M114,33.8h1.5M124.5,33.8h1.5M127.5,33.8h1.5M141,33.8h1.5M147,33.8h1.5M150,33.8h1.5M163.5,33.8h1.5M166.5,33.8h1.5M174,33.8h3M178.5,33.8h1.5M181.5,33.8h1.5M192,33.8h1.5M199.5,33.8h1.5M202.5,33.8h1.5M205.5,33.8h1.5M208.5,33.8h1.5M216,33.8h1.5M36,35.2h1.5M42,35.2h1.5M52.5,35.2h1.5M66,35.2h1.5M70.5,35.2h1.5M82.5,35.2h1.5M100.5,35.2h1.5M106.5,35.2h1.5M124.5,35.2h1.5M127.5,35.2h1.5M145.5,35.2h1.5M153,35.2h1.5M160.5,35.2h1.5M168,35.2h1.5M171,35.2h1.5M183,35.2h1.5M193.5,35.2h3M207,35.2h1.5M210,35.2h4.5M216,35.2h1.5M40.5,36.8h1.5M52.5,36.8h1.5M63,36.8h1.5M66,36.8h1.5M72,36.8h1.5M76.5,36.8h4.5M91.5,36.8h1.5M99,36.8h3M103.5,36.8h1.5M117,36.8h1.5M127.5,36.8h1.5M132,36.8h1.5M145.5,36.8h1.5M148.5,36.8h1.5M160.5,36.8h1.5M171,36.8h1.5M174,36.8h1.5M184.5,36.8h1.5M190.5,36.8h1.5M207,36.8h1.5M214.5,36.8h1.5M39,38.2h1.5M42,38.2h1.5M45,38.2h1.5M48,38.2h1.5M72,38.2h6M136.5,38.2h1.5M147,38.2h6M157.5,38.2h1.5M163.5,38.2h1.5M175.5,38.2h3M184.5,38.2h3M189,38.2h1.5M192,38.2h1.5M202.5,38.2h1.5M210,38.2h1.5M213,38.2h1.5M216,38.2h1.5M36,39.8h1.5M40.5,39.8h1.5M46.5,39.8h6M63,39.8h1.5M66,39.8h1.5M72,39.8h1.5M88.5,39.8h1.5M114,39.8h1.5M127.5,39.8h1.5M151.5,39.8h1.5M157.5,39.8h4.5M163.5,39.8h9M174,39.8h3M189,39.8h4.5M195,39.8h1.5M199.5,39.8h1.5M204,39.8h3M36,41.2h1.5M46.5,41.2h1.5M49.5,41.2h1.5M52.5,41.2h1.5M60,41.2h1.5M84,41.2h1.5M88.5,41.2h1.5M97.5,41.2h1.5M100.5,41.2h1.5M103.5,41.2h1.5M133.5,41.2h1.5M138,41.2h1.5M153,41.2h1.5M159,41.2h1.5M165,41.2h7.5M177,41.2h1.5M181.5,41.2h3M190.5,41.2h6M198,41.2h3M207,41.2h1.5M36,42.8h4.5M46.5,42.8h1.5M51,42.8h1.5M60,42.8h1.5M64.5,42.8h1.5M73.5,42.8h1.5M78,42.8h1.5M130.5,42.8h1.5M153,42.8h3M163.5,42.8h1.5M168,42.8h1.5M171,42.8h4.5M181.5,42.8h3M187.5,42.8h7.5M202.5,42.8h3M43.5,44.2h1.5M63,44.2h1.5M73.5,44.2h3M88.5,44.2h1.5M94.5,44.2h1.5M109.5,44.2h1.5M115.5,44.2h3M121.5,44.2h3M139.5,44.2h1.5M145.5,44.2h1.5M157.5,44.2h1.5M160.5,44.2h1.5M166.5,44.2h1.5M172.5,44.2h1.5M175.5,44.2h3M186,44.2h1.5M190.5,44.2h7.5M199.5,44.2h1.5M214.5,44.2h1.5M46.5,45.8h1.5M49.5,45.8h3M57,45.8h1.5M61.5,45.8h1.5M64.5,45.8h1.5M73.5,45.8h3M78,45.8h1.5M82.5,45.8h1.5M85.5,45.8h1.5M90,45.8h1.5M133.5,45.8h1.5M141,45.8h1.5M147,45.8h1.5M157.5,45.8h1.5M174,45.8h3M186,45.8h3M195,45.8h1.5M198,45.8h1.5M204,45.8h4.5M36,47.2h1.5M39,47.2h1.5M45,47.2h3M51,47.2h1.5M54,47.2h1.5M57,47.2h3M63,47.2h1.5M72,47.2h6M82.5,47.2h1.5M97.5,47.2h1.5M111,47.2h1.5M124.5,47.2h1.5M127.5,47.2h1.5M145.5,47.2h1.5M157.5,47.2h1.5M162,47.2h1.5M172.5,47.2h3M178.5,47.2h1.5M183,47.2h1.5M189,47.2h3M199.5,47.2h3M204,47.2h1.5M207,47.2h3M213,47.2h1.5M42,48.8h1.5M45,48.8h1.5M48,48.8h1.5M51,48.8h3M55.5,48.8h1.5M66,48.8h3M75,48.8h7.5M85.5,48.8h1.5M93,48.8h1.5M103.5,48.8h3M124.5,48.8h1.5M135,48.8h1.5M151.5,48.8h1.5M156,48.8h1.5M160.5,48.8h1.5M166.5,48.8h1.5M169.5,48.8h1.5M172.5,48.8h1.5M175.5,48.8h1.5M183,48.8h1.5M187.5,48.8h4.5M195,48.8h1.5M199.5,48.8h1.5M213,48.8h3M42,50.2h4.5M48,50.2h1.5M54,50.2h3M67.5,50.2h1.5M70.5,50.2h1.5M79.5,50.2h1.5M94.5,50.2h1.5M102,50.2h1.5M105,50.2h4.5M120,50.2h3M126,50.2h1.5M138,50.2h1.5M153,50.2h4.5M165,50.2h1.5M168,50.2h1.5M172.5,50.2h1.5M177,50.2h1.5M181.5,50.2h1.5M186,50.2h4.5M196.5,50.2h1.5M211.5,50.2h1.5M216,50.2h1.5M37.5,51.8h1.5M45,51.8h1.5M64.5,51.8h1.5M67.5,51.8h1.5M75,51.8h1.5M78,51.8h1.5M88.5,51.8h1.5M97.5,51.8h1.5M106.5,51.8h1.5M124.5,51.8h3M132,51.8h1.5M135,51.8h1.5M138,51.8h3M148.5,51.8h1.5M156,51.8h1.5M168,51.8h1.5M174,51.8h1.5M184.5,51.8h1.5M196.5,51.8h1.5M216,51.8h1.5M36,53.2h1.5M42,53.2h3M61.5,53.2h1.5M73.5,53.2h1.5M88.5,53.2h1.5M93,53.2h1.5M96,53.2h1.5M103.5,53.2h1.5M135,53.2h4.5M141,53.2h1.5M145.5,53.2h3M153,53.2h1.5M156,53.2h3M169.5,53.2h6M178.5,53.2h1.5M181.5,53.2h1.5M186,53.2h1.5M189,53.2h1.5M193.5,53.2h1.5M196.5,53.2h1.5M199.5,53.2h1.5M204,53.2h4.5M211.5,53.2h1.5M34.5,54.8h1.5M42,54.8h3M48,54.8h1.5M84,54.8h1.5M94.5,54.8h1.5M103.5,54.8h3M115.5,54.8h1.5M118.5,54.8h3M130.5,54.8h3M135,54.8h1.5M138,54.8h1.5M141,54.8h1.5M144,54.8h3M148.5,54.8h7.5M159,54.8h1.5M168,54.8h1.5M183,54.8h1.5M190.5,54.8h6M199.5,54.8h3M34.5,56.2h1.5M37.5,56.2h3M90,56.2h4.5M96,56.2h1.5M129,56.2h4.5M141,56.2h3M145.5,56.2h7.5M154.5,56.2h4.5M169.5,56.2h1.5M186,56.2h10.5M198,56.2h1.5M201,56.2h1.5M205.5,56.2h1.5M211.5,56.2h1.5M36,57.8h3M43.5,57.8h1.5M55.5,57.8h1.5M76.5,57.8h1.5M94.5,57.8h1.5M115.5,57.8h1.5M126,57.8h3M130.5,57.8h1.5M133.5,57.8h4.5M144,57.8h1.5M147,57.8h3M156,57.8h1.5M178.5,57.8h1.5M189,57.8h1.5M195,57.8h3M199.5,57.8h1.5M208.5,57.8h1.5M211.5,57.8h1.5M34.5,59.2h6M45,59.2h1.5M51,59.2h1.5M66,59.2h1.5M87,59.2h3M93,59.2h1.5M96,59.2h1.5M102,59.2h3M111,59.2h1.5M117,59.2h1.5M120,59.2h1.5M124.5,59.2h4.5M139.5,59.2h1.5M142.5,59.2h3M150,59.2h1.5M153,59.2h6M166.5,59.2h1.5M169.5,59.2h1.5M175.5,59.2h1.5M190.5,59.2h4.5M198,59.2h1.5M204,59.2h1.5M208.5,59.2h3M64.5,60.8h1.5M69,60.8h1.5M76.5,60.8h1.5M94.5,60.8h1.5M99,60.8h1.5M117,60.8h4.5M123,60.8h1.5M127.5,60.8h1.5M130.5,60.8h1.5M136.5,60.8h1.5M141,60.8h3M147,60.8h4.5M154.5,60.8h3M168,60.8h1.5M174,60.8h4.5M198,60.8h1.5M202.5,60.8h1.5M208.5,60.8h1.5M211.5,60.8h1.5M34.5,62.2h3M48,62.2h1.5M52.5,62.2h4.5M69,62.2h1.5M82.5,62.2h1.5M94.5,62.2h3M109.5,62.2h1.5M114,62.2h3M130.5,62.2h3M138,62.2h12M154.5,62.2h1.5M169.5,62.2h1.5M172.5,62.2h1.5M183,62.2h3M193.5,62.2h1.5M196.5,62.2h1.5M199.5,62.2h1.5M207,62.2h1.5M216,62.2h1.5M45,63.8h1.5M66,63.8h1.5M69,63.8h3M81,63.8h3M102,63.8h3M106.5,63.8h1.5M109.5,63.8h1.5M126,63.8h1.5M139.5,63.8h4.5M148.5,63.8h1.5M151.5,63.8h1.5M168,63.8h1.5M171,63.8h3M181.5,63.8h6M195,63.8h1.5M201,63.8h3M48,65.2h1.5M72,65.2h1.5M84,65.2h1.5M87,65.2h1.5M94.5,65.2h1.5M100.5,65.2h1.5M106.5,65.2h1.5M109.5,65.2h1.5M114,65.2h1.5M120,65.2h1.5M126,65.2h3M136.5,65.2h1.5M144,65.2h1.5M150,65.2h4.5M171,65.2h3M181.5,65.2h6M190.5,65.2h1.5M195,65.2h3M202.5,65.2h1.5M210,65.2h1.5M34.5,66.8h1.5M66,66.8h1.5M69,66.8h3M81,66.8h1.5M100.5,66.8h3M106.5,66.8h6M114,66.8h3M127.5,66.8h1.5M141,66.8h3M151.5,66.8h6M163.5,66.8h4.5M169.5,66.8h7.5M180,66.8h4.5M187.5,66.8h1.5M195,66.8h1.5M198,66.8h4.5M208.5,66.8h1.5M37.5,68.2h1.5M52.5,68.2h3M61.5,68.2h3M84,68.2h1.5M90,68.2h1.5M93,68.2h1.5M96,68.2h4.5M109.5,68.2h1.5M129,68.2h3M139.5,68.2h1.5M147,68.2h1.5M150,68.2h1.5M153,68.2h3M162,68.2h1.5M166.5,68.2h1.5M169.5,68.2h1.5M177,68.2h3M184.5,68.2h4.5M193.5,68.2h1.5M199.5,68.2h6M208.5,68.2h1.5M34.5,69.8h1.5M42,69.8h1.5M55.5,69.8h1.5M60,69.8h1.5M66,69.8h1.5M70.5,69.8h1.5M75,69.8h1.5M87,69.8h1.5M91.5,69.8h3M96,69.8h1.5M112.5,69.8h1.5M117,69.8h3M126,69.8h3M133.5,69.8h3M139.5,69.8h1.5M145.5,69.8h3M150,69.8h1.5M156,69.8h1.5M160.5,69.8h1.5M163.5,69.8h1.5M166.5,69.8h3M177,69.8h3M183,69.8h6M190.5,69.8h1.5M193.5,69.8h1.5M208.5,69.8h1.5M213,69.8h3M34.5,71.2h3M39,71.2h1.5M42,71.2h4.5M58.5,71.2h1.5M61.5,71.2h1.5M88.5,71.2h1.5M94.5,71.2h1.5M102,71.2h1.5M117,71.2h1.5M120,71.2h1.5M127.5,71.2h1.5M135,71.2h3M148.5,71.2h1.5M156,71.2h1.5M169.5,71.2h1.5M175.5,71.2h1.5M187.5,71.2h1.5M195,71.2h3M199.5,71.2h1.5M204,71.2h3M210,71.2h4.5M216,71.2h1.5M37.5,72.8h1.5M58.5,72.8h1.5M61.5,72.8h1.5M64.5,72.8h1.5M69,72.8h1.5M84,72.8h1.5M87,72.8h3M94.5,72.8h1.5M99,72.8h3M105,72.8h1.5M127.5,72.8h3M133.5,72.8h1.5M141,72.8h1.5M145.5,72.8h6M154.5,72.8h1.5M157.5,72.8h1.5M177,72.8h1.5M180,72.8h7.5M193.5,72.8h6M201,72.8h12M216,72.8h1.5M39,74.2h3M43.5,74.2h3M54,74.2h1.5M67.5,74.2h1.5M70.5,74.2h1.5M76.5,74.2h3M81,74.2h1.5M84,74.2h1.5M87,74.2h3M100.5,74.2h1.5M109.5,74.2h1.5M121.5,74.2h1.5M127.5,74.2h4.5M133.5,74.2h1.5M136.5,74.2h3M141,74.2h1.5M144,74.2h1.5M156,74.2h1.5M159,74.2h9M177,74.2h1.5M180,74.2h3M186,74.2h6M195,74.2h3M201,74.2h1.5M204,74.2h3M208.5,74.2h1.5M211.5,74.2h1.5M216,74.2h1.5M36,75.8h4.5M49.5,75.8h1.5M52.5,75.8h1.5M63,75.8h1.5M79.5,75.8h3M85.5,75.8h1.5M91.5,75.8h1.5M102,75.8h1.5M133.5,75.8h1.5M138,75.8h1.5M142.5,75.8h1.5M150,75.8h1.5M153,75.8h1.5M163.5,75.8h1.5M166.5,75.8h1.5M180,75.8h1.5M183,75.8h3M190.5,75.8h3M195,75.8h4.5M201,75.8h1.5M205.5,75.8h4.5M37.5,77.2h3M87,77.2h1.5M99,77.2h1.5M105,77.2h3M117,77.2h1.5M123,77.2h4.5M138,77.2h1.5M142.5,77.2h3M148.5,77.2h1.5M163.5,77.2h3M168,77.2h1.5M175.5,77.2h1.5M178.5,77.2h1.5M183,77.2h1.5M186,77.2h1.5M189,77.2h1.5M196.5,77.2h3M202.5,77.2h1.5M207,77.2h1.5M216,77.2h1.5M40.5,78.8h1.5M45,78.8h1.5M49.5,78.8h1.5M85.5,78.8h1.5M90,78.8h1.5M100.5,78.8h1.5M106.5,78.8h1.5M114,78.8h1.5M117,78.8h1.5M126,78.8h3M130.5,78.8h3M135,78.8h1.5M147,78.8h1.5M151.5,78.8h1.5M156,78.8h1.5M159,78.8h1.5M163.5,78.8h3M169.5,78.8h3M175.5,78.8h1.5M178.5,78.8h3M189,78.8h7.5M201,78.8h1.5M205.5,78.8h3M216,78.8h1.5M36,80.2h1.5M45,80.2h1.5M48,80.2h3M66,80.2h1.5M70.5,80.2h1.5M88.5,80.2h1.5M93,80.2h3M106.5,80.2h3M117,80.2h1.5M123,80.2h1.5M133.5,80.2h6M150,80.2h6M157.5,80.2h1.5M163.5,80.2h4.5M171,80.2h3M175.5,80.2h6M183,80.2h1.5M187.5,80.2h1.5M190.5,80.2h6M216,80.2h1.5M55.5,81.8h1.5M66,81.8h1.5M84,81.8h1.5M88.5,81.8h1.5M91.5,81.8h1.5M105,81.8h1.5M108,81.8h1.5M112.5,81.8h3M127.5,81.8h3M132,81.8h3M136.5,81.8h1.5M145.5,81.8h1.5M150,81.8h4.5M156,81.8h3M160.5,81.8h3M165,81.8h1.5M172.5,81.8h4.5M180,81.8h3M184.5,81.8h1.5M189,81.8h1.5M195,81.8h4.5M210,81.8h3M214.5,81.8h3M40.5,83.2h3M51,83.2h4.5M81,83.2h1.5M90,83.2h3M105,83.2h1.5M111,83.2h3M121.5,83.2h1.5M126,83.2h1.5M132,83.2h3M136.5,83.2h1.5M148.5,83.2h4.5M154.5,83.2h1.5M159,83.2h7.5M171,83.2h4.5M177,83.2h1.5M180,83.2h1.5M186,83.2h7.5M198,83.2h4.5M205.5,83.2h1.5M210,83.2h1.5M213,83.2h1.5M216,83.2h1.5M79.5,84.8h1.5M88.5,84.8h3M102,84.8h1.5M105,84.8h1.5M108,84.8h7.5M132,84.8h1.5M148.5,84.8h4.5M157.5,84.8h1.5M160.5,84.8h1.5M163.5,84.8h1.5M166.5,84.8h3M171,84.8h3M175.5,84.8h9M187.5,84.8h3M192,84.8h7.5M201,84.8h1.5M207,84.8h6M214.5,84.8h3M36,86.2h1.5M43.5,86.2h1.5M46.5,86.2h4.5M52.5,86.2h3M72,86.2h1.5M76.5,86.2h1.5M82.5,86.2h1.5M115.5,86.2h1.5M127.5,86.2h1.5M130.5,86.2h3M147,86.2h1.5M154.5,86.2h1.5M163.5,86.2h3M168,86.2h3M174,86.2h3M178.5,86.2h4.5M184.5,86.2h7.5M193.5,86.2h3M198,86.2h1.5M204,86.2h4.5M210,86.2h1.5M213,86.2h3M40.5,87.8h1.5M46.5,87.8h1.5M49.5,87.8h1.5M52.5,87.8h1.5M91.5,87.8h1.5M100.5,87.8h1.5M106.5,87.8h6M117,87.8h3M121.5,87.8h1.5M129,87.8h1.5M132,87.8h1.5M138,87.8h1.5M142.5,87.8h1.5M147,87.8h1.5M157.5,87.8h1.5M160.5,87.8h1.5M163.5,87.8h6M172.5,87.8h4.5M180,87.8h3M184.5,87.8h4.5M190.5,87.8h1.5M195,87.8h13.5M36,89.2h1.5M48,89.2h4.5M76.5,89.2h1.5M99,89.2h1.5M114,89.2h1.5M132,89.2h1.5M135,89.2h1.5M147,89.2h1.5M154.5,89.2h4.5M163.5,89.2h4.5M171,89.2h6M178.5,89.2h3M183,89.2h1.5M186,89.2h3M192,89.2h7.5M205.5,89.2h1.5M208.5,89.2h1.5M211.5,89.2h1.5M214.5,89.2h1.5M34.5,90.8h1.5M45,90.8h4.5M63,90.8h1.5M67.5,90.8h1.5M78,90.8h1.5M94.5,90.8h1.5M97.5,90.8h1.5M100.5,90.8h1.5M108,90.8h3M115.5,90.8h1.5M120,90.8h4.5M126,90.8h3M142.5,90.8h4.5M148.5,90.8h3M154.5,90.8h7.5M163.5,90.8h3M169.5,90.8h4.5M180,90.8h1.5M183,90.8h1.5M186,90.8h4.5M193.5,90.8h1.5M198,90.8h9M210,90.8h1.5M213,90.8h1.5M34.5,92.2h1.5M48,92.2h1.5M63,92.2h1.5M66,92.2h1.5M69,92.2h1.5M94.5,92.2h3M102,92.2h1.5M106.5,92.2h1.5M111,92.2h1.5M127.5,92.2h1.5M130.5,92.2h1.5M136.5,92.2h3M145.5,92.2h3M153,92.2h4.5M160.5,92.2h1.5M163.5,92.2h16.5M181.5,92.2h10.5M195,92.2h3M199.5,92.2h1.5M202.5,92.2h1.5M210,92.2h1.5M213,92.2h1.5M216,92.2h1.5M43.5,93.8h1.5M51,93.8h1.5M63,93.8h4.5M69,93.8h1.5M87,93.8h1.5M96,93.8h1.5M108,93.8h1.5M112.5,93.8h1.5M124.5,93.8h4.5M130.5,93.8h1.5M136.5,93.8h3M144,93.8h4.5M153,93.8h4.5M159,93.8h4.5M165,93.8h1.5M168,93.8h1.5M171,93.8h3M175.5,93.8h1.5M178.5,93.8h1.5M183,93.8h7.5M192,93.8h4.5M198,93.8h1.5M201,93.8h1.5M204,93.8h4.5M213,93.8h1.5M216,93.8h1.5M37.5,95.2h3M55.5,95.2h1.5M61.5,95.2h9M75,95.2h1.5M85.5,95.2h1.5M88.5,95.2h3M105,95.2h1.5M109.5,95.2h1.5M117,95.2h1.5M129,95.2h4.5M144,95.2h3M156,95.2h1.5M162,95.2h3M169.5,95.2h4.5M175.5,95.2h1.5M180,95.2h1.5M183,95.2h3M189,95.2h4.5M195,95.2h1.5M199.5,95.2h4.5M207,95.2h1.5M210,95.2h3M214.5,95.2h3M39,96.8h1.5M60,96.8h4.5M72,96.8h1.5M102,96.8h1.5M106.5,96.8h1.5M115.5,96.8h1.5M118.5,96.8h1.5M129,96.8h3M135,96.8h1.5M138,96.8h6M145.5,96.8h7.5M156,96.8h1.5M162,96.8h3M168,96.8h6M175.5,96.8h3M183,96.8h13.5M204,96.8h1.5M207,96.8h1.5M210,96.8h6M36,98.2h1.5M40.5,98.2h1.5M61.5,98.2h1.5M82.5,98.2h3M108,98.2h1.5M111,98.2h1.5M124.5,98.2h1.5M129,98.2h1.5M138,98.2h4.5M147,98.2h10.5M159,98.2h3M168,98.2h4.5M180,98.2h1.5M183,98.2h6M192,98.2h1.5M196.5,98.2h3M202.5,98.2h3M207,98.2h3M34.5,99.8h1.5M39,99.8h3M46.5,99.8h1.5M58.5,99.8h4.5M67.5,99.8h1.5M70.5,99.8h1.5M79.5,99.8h1.5M94.5,99.8h4.5M100.5,99.8h1.5M109.5,99.8h1.5M112.5,99.8h1.5M123,99.8h1.5M126,99.8h1.5M133.5,99.8h1.5M136.5,99.8h3M142.5,99.8h1.5M145.5,99.8h3M151.5,99.8h1.5M159,99.8h3M165,99.8h12M178.5,99.8h1.5M183,99.8h1.5M186,99.8h6M195,99.8h3M199.5,99.8h3M204,99.8h1.5M208.5,99.8h3M213,99.8h4.5M46.5,101.2h1.5M55.5,101.2h4.5M61.5,101.2h1.5M82.5,101.2h1.5M88.5,101.2h1.5M108,101.2h3M120,101.2h1.5M124.5,101.2h1.5M129,101.2h3M133.5,101.2h1.5M138,101.2h3M142.5,101.2h1.5M148.5,101.2h1.5M151.5,101.2h3M156,101.2h3M160.5,101.2h1.5M163.5,101.2h1.5M166.5,101.2h1.5M171,101.2h1.5M174,101.2h4.5M180,101.2h3M186,101.2h3M192,101.2h1.5M195,101.2h1.5M198,101.2h6M207,101.2h10.5M48,102.8h1.5M57,102.8h1.5M60,102.8h3M79.5,102.8h3M90,102.8h1.5M132,102.8h3M138,102.8h1.5M141,102.8h4.5M147,102.8h3M156,102.8h3M160.5,102.8h3M165,102.8h1.5M171,102.8h4.5M177,102.8h4.5M186,102.8h3M196.5,102.8h6M208.5,102.8h3M213,102.8h1.5M39,104.2h1.5M45,104.2h1.5M57,104.2h1.5M64.5,104.2h3M79.5,104.2h1.5M85.5,104.2h1.5M99,104.2h1.5M114,104.2h1.5M132,104.2h3M136.5,104.2h1.5M147,104.2h1.5M150,104.2h1.5M154.5,104.2h1.5M159,104.2h6M166.5,104.2h4.5M172.5,104.2h6M180,104.2h1.5M183,104.2h4.5M189,104.2h1.5M192,104.2h6M199.5,104.2h1.5M202.5,104.2h1.5M205.5,104.2h3M213,104.2h4.5M40.5,105.8h3M79.5,105.8h1.5M88.5,105.8h3M112.5,105.8h1.5M127.5,105.8h1.5M132,105.8h1.5M138,105.8h1.5M142.5,105.8h9M154.5,105.8h4.5M160.5,105.8h6M168,105.8h1.5M174,105.8h3M181.5,105.8h4.5M187.5,105.8h1.5M192,105.8h1.5M195,105.8h3M201,105.8h1.5M204,105.8h6M211.5,105.8h4.5M48,107.2h1.5M54,107.2h1.5M57,107.2h3M90,107.2h1.5M115.5,107.2h4.5M121.5,107.2h1.5M126,107.2h1.5M129,107.2h1.5M132,107.2h1.5M141,107.2h1.5M145.5,107.2h9M156,107.2h1.5M159,107.2h3M163.5,107.2h3M168,107.2h3M172.5,107.2h3M177,107.2h1.5M180,107.2h1.5M183,107.2h4.5M190.5,107.2h6M205.5,107.2h1.5M208.5,107.2h3M213,107.2h1.5M216,107.2h1.5M82.5,108.8h1.5M97.5,108.8h1.5M118.5,108.8h6M135,108.8h4.5M142.5,108.8h3M148.5,108.8h1.5M153,108.8h1.5M156,108.8h3M162,108.8h3M166.5,108.8h1.5M175.5,108.8h3M180,108.8h4.5M186,108.8h6M193.5,108.8h6M201,108.8h1.5M208.5,108.8h3M213,108.8h1.5M216,108.8h1.5M49.5,110.2h3M58.5,110.2h1.5M73.5,110.2h1.5M76.5,110.2h1.5M90,110.2h4.5M108,110.2h1.5M114,110.2h3M118.5,110.2h3M124.5,110.2h1.5M130.5,110.2h3M135,110.2h6M144,110.2h1.5M153,110.2h9M165,110.2h1.5M168,110.2h7.5M177,110.2h3M183,110.2h1.5M186,110.2h1.5M189,110.2h1.5M192,110.2h1.5M198,110.2h4.5M205.5,110.2h1.5M208.5,110.2h3M214.5,110.2h1.5M54,111.8h1.5M84,111.8h1.5M96,111.8h3M100.5,111.8h3M108,111.8h1.5M124.5,111.8h1.5M138,111.8h1.5M142.5,111.8h1.5M145.5,111.8h1.5M151.5,111.8h1.5M154.5,111.8h1.5M159,111.8h4.5M165,111.8h3M169.5,111.8h3M174,111.8h4.5M180,111.8h1.5M184.5,111.8h1.5M187.5,111.8h1.5M193.5,111.8h3M198,111.8h7.5M207,111.8h6M216,111.8h1.5M42,113.2h1.5M49.5,113.2h1.5M52.5,113.2h3M61.5,113.2h1.5M76.5,113.2h3M100.5,113.2h1.5M108,113.2h1.5M115.5,113.2h1.5M118.5,113.2h3M130.5,113.2h1.5M136.5,113.2h1.5M148.5,113.2h1.5M153,113.2h1.5M159,113.2h10.5M171,113.2h1.5M174,113.2h1.5M177,113.2h1.5M181.5,113.2h1.5M184.5,113.2h6M192,113.2h7.5M202.5,113.2h12M216,113.2h1.5M40.5,114.8h1.5M54,114.8h1.5M60,114.8h1.5M63,114.8h1.5M75,114.8h3M85.5,114.8h1.5M102,114.8h1.5M124.5,114.8h1.5M127.5,114.8h1.5M130.5,114.8h1.5M133.5,114.8h6M141,114.8h3M150,114.8h4.5M159,114.8h4.5M165,114.8h4.5M171,114.8h19.5M193.5,114.8h1.5M196.5,114.8h1.5M201,114.8h3M205.5,114.8h1.5M208.5,114.8h1.5M213,114.8h3M73.5,116.2h1.5M84,116.2h1.5M99,116.2h1.5M103.5,116.2h1.5M112.5,116.2h4.5M118.5,116.2h3M124.5,116.2h1.5M139.5,116.2h1.5M151.5,116.2h1.5M156,116.2h1.5M160.5,116.2h1.5M163.5,116.2h3M168,116.2h3M172.5,116.2h9M183,116.2h3M187.5,116.2h3M192,116.2h7.5M202.5,116.2h1.5M205.5,116.2h1.5M210,116.2h1.5M213,116.2h4.5M45,117.8h3M54,117.8h1.5M57,117.8h1.5M72,117.8h1.5M76.5,117.8h1.5M85.5,117.8h1.5M88.5,117.8h3M105,117.8h1.5M117,117.8h3M129,117.8h3M139.5,117.8h4.5M153,117.8h1.5M156,117.8h4.5M162,117.8h1.5M165,117.8h3M169.5,117.8h1.5M172.5,117.8h1.5M177,117.8h9M187.5,117.8h7.5M196.5,117.8h1.5M201,117.8h7.5M214.5,117.8h1.5M69,119.2h1.5M84,119.2h3M88.5,119.2h3M97.5,119.2h1.5M127.5,119.2h3M135,119.2h1.5M141,119.2h1.5M150,119.2h3M154.5,119.2h1.5M157.5,119.2h1.5M160.5,119.2h7.5M174,119.2h6M181.5,119.2h4.5M187.5,119.2h1.5M190.5,119.2h4.5M205.5,119.2h1.5M214.5,119.2h3M81,120.8h1.5M85.5,120.8h3M93,120.8h1.5M121.5,120.8h1.5M129,120.8h1.5M135,120.8h1.5M154.5,120.8h1.5M157.5,120.8h1.5M160.5,120.8h1.5M163.5,120.8h4.5M175.5,120.8h6M183,120.8h1.5M186,120.8h1.5M189,120.8h3M193.5,120.8h3M205.5,120.8h1.5M208.5,120.8h3M213,120.8h1.5M216,120.8h1.5M36,122.2h1.5M51,122.2h1.5M61.5,122.2h1.5M64.5,122.2h1.5M79.5,122.2h1.5M90,122.2h3M99,122.2h4.5M105,122.2h1.5M108,122.2h1.5M114,122.2h1.5M117,122.2h1.5M130.5,122.2h3M136.5,122.2h1.5M148.5,122.2h3M156,122.2h4.5M166.5,122.2h1.5M169.5,122.2h6M177,122.2h6M186,122.2h3M192,122.2h3M196.5,122.2h1.5M205.5,122.2h1.5M210,122.2h1.5M213,122.2h4.5M37.5,123.8h1.5M46.5,123.8h4.5M58.5,123.8h1.5M67.5,123.8h1.5M70.5,123.8h1.5M79.5,123.8h1.5M87,123.8h1.5M97.5,123.8h1.5M108,123.8h3M123,123.8h1.5M130.5,123.8h1.5M133.5,123.8h1.5M148.5,123.8h3M154.5,123.8h3M159,123.8h4.5M165,123.8h4.5M171,123.8h3M175.5,123.8h3M181.5,123.8h1.5M184.5,123.8h1.5M189,123.8h6M201,123.8h6M210,123.8h1.5M216,123.8h1.5M58.5,125.2h1.5M79.5,125.2h1.5M96,125.2h1.5M106.5,125.2h1.5M126,125.2h1.5M129,125.2h4.5M138,125.2h1.5M145.5,125.2h6M153,125.2h1.5M157.5,125.2h1.5M160.5,125.2h4.5M168,125.2h1.5M172.5,125.2h1.5M177,125.2h1.5M180,125.2h3M186,125.2h1.5M189,125.2h1.5M193.5,125.2h1.5M198,125.2h3M205.5,125.2h6M213,125.2h1.5M216,125.2h1.5M36,126.8h1.5M45,126.8h1.5M57,126.8h1.5M69,126.8h1.5M79.5,126.8h1.5M103.5,126.8h1.5M117,126.8h3M123,126.8h3M132,126.8h1.5M144,126.8h1.5M147,126.8h1.5M159,126.8h1.5M162,126.8h1.5M166.5,126.8h4.5M174,126.8h1.5M177,126.8h3M187.5,126.8h1.5M190.5,126.8h1.5M193.5,126.8h1.5M196.5,126.8h1.5M202.5,126.8h3M207,126.8h1.5M42,128.2h3M84,128.2h1.5M100.5,128.2h7.5M114,128.2h3M129,128.2h6M150,128.2h3M156,128.2h1.5M162,128.2h1.5M168,128.2h4.5M174,128.2h16.5M192,128.2h1.5M195,128.2h1.5M198,128.2h1.5M202.5,128.2h1.5M207,128.2h1.5M43.5,129.8h1.5M54,129.8h1.5M94.5,129.8h3M99,129.8h1.5M103.5,129.8h4.5M109.5,129.8h1.5M117,129.8h1.5M123,129.8h1.5M127.5,129.8h1.5M151.5,129.8h6M165,129.8h3M169.5,129.8h9M180,129.8h6M189,129.8h6M196.5,129.8h1.5M201,129.8h1.5M204,129.8h3M34.5,131.2h1.5M45,131.2h1.5M48,131.2h1.5M85.5,131.2h1.5M90,131.2h1.5M99,131.2h1.5M105,131.2h1.5M111,131.2h1.5M121.5,131.2h1.5M127.5,131.2h1.5M135,131.2h1.5M148.5,131.2h3M162,131.2h3M168,131.2h3M172.5,131.2h1.5M175.5,131.2h1.5M180,131.2h1.5M187.5,131.2h1.5M190.5,131.2h12M205.5,131.2h1.5M210,131.2h1.5M216,131.2h1.5M36,132.8h1.5M40.5,132.8h3M45,132.8h1.5M51,132.8h1.5M57,132.8h3M100.5,132.8h1.5M103.5,132.8h1.5M111,132.8h3M124.5,132.8h1.5M129,132.8h1.5M139.5,132.8h4.5M145.5,132.8h4.5M153,132.8h1.5M159,132.8h6M168,132.8h4.5M174,132.8h1.5M177,132.8h3M184.5,132.8h1.5M187.5,132.8h4.5M193.5,132.8h4.5M199.5,132.8h10.5M45,134.2h3M49.5,134.2h1.5M55.5,134.2h3M60,134.2h1.5M81,134.2h3M85.5,134.2h7.5M105,134.2h6M115.5,134.2h1.5M120,134.2h1.5M136.5,134.2h6M148.5,134.2h1.5M154.5,134.2h3M166.5,134.2h3M172.5,134.2h3M177,134.2h1.5M180,134.2h7.5M193.5,134.2h7.5M205.5,134.2h3M211.5,134.2h3M61.5,135.8h1.5M66,135.8h1.5M87,135.8h1.5M90,135.8h1.5M93,135.8h1.5M105,135.8h1.5M118.5,135.8h1.5M127.5,135.8h1.5M133.5,135.8h1.5M136.5,135.8h3M141,135.8h1.5M153,135.8h1.5M157.5,135.8h1.5M162,135.8h3M168,135.8h6M177,135.8h1.5M181.5,135.8h7.5M190.5,135.8h3M195,135.8h1.5M198,135.8h1.5M201,135.8h1.5M205.5,135.8h6M36,137.2h1.5M73.5,137.2h1.5M76.5,137.2h1.5M82.5,137.2h3M90,137.2h1.5M97.5,137.2h3M102,137.2h3M109.5,137.2h1.5M120,137.2h3M135,137.2h1.5M142.5,137.2h1.5M153,137.2h1.5M157.5,137.2h1.5M160.5,137.2h3M165,137.2h1.5M174,137.2h3M180,137.2h4.5M186,137.2h3M190.5,137.2h3M195,137.2h1.5M198,137.2h1.5M204,137.2h4.5M210,137.2h1.5M213,137.2h3M55.5,138.8h1.5M61.5,138.8h1.5M81,138.8h3M90,138.8h1.5M94.5,138.8h3M108,138.8h3M136.5,138.8h3M141,138.8h1.5M153,138.8h3M163.5,138.8h1.5M168,138.8h4.5M174,138.8h3M178.5,138.8h3M186,138.8h6M193.5,138.8h1.5M199.5,138.8h7.5M210,138.8h6M61.5,140.2h1.5M66,140.2h1.5M78,140.2h1.5M88.5,140.2h1.5M91.5,140.2h1.5M111,140.2h4.5M124.5,140.2h1.5M129,140.2h1.5M132,140.2h1.5M135,140.2h1.5M138,140.2h4.5M144,140.2h1.5M147,140.2h1.5M150,140.2h3M154.5,140.2h3M162,140.2h3M169.5,140.2h1.5M180,140.2h15M201,140.2h4.5M211.5,140.2h3M39,141.8h1.5M46.5,141.8h1.5M51,141.8h1.5M63,141.8h1.5M69,141.8h3M75,141.8h1.5M87,141.8h1.5M93,141.8h1.5M97.5,141.8h1.5M112.5,141.8h1.5M124.5,141.8h3M136.5,141.8h3M153,141.8h4.5M159,141.8h1.5M162,141.8h3M166.5,141.8h1.5M174,141.8h1.5M177,141.8h1.5M180,141.8h4.5M187.5,141.8h1.5M193.5,141.8h3M198,141.8h1.5M213,141.8h1.5M34.5,143.2h4.5M42,143.2h1.5M45,143.2h3M49.5,143.2h4.5M66,143.2h6M79.5,143.2h3M105,143.2h1.5M124.5,143.2h4.5M136.5,143.2h1.5M144,143.2h1.5M147,143.2h1.5M157.5,143.2h1.5M163.5,143.2h1.5M175.5,143.2h1.5M181.5,143.2h1.5M187.5,143.2h3M192,143.2h6M204,143.2h3M214.5,143.2h1.5M42,144.8h1.5M60,144.8h3M69,144.8h1.5M72,144.8h1.5M75,144.8h4.5M82.5,144.8h3M96,144.8h1.5M105,144.8h3M126,144.8h1.5M132,144.8h1.5M136.5,144.8h6M151.5,144.8h1.5M154.5,144.8h1.5M163.5,144.8h4.5M174,144.8h3M178.5,144.8h1.5M181.5,144.8h1.5M186,144.8h4.5M195,144.8h1.5M199.5,144.8h1.5M202.5,144.8h1.5M34.5,146.2h1.5M45,146.2h1.5M51,146.2h1.5M63,146.2h1.5M66,146.2h1.5M82.5,146.2h1.5M90,146.2h1.5M103.5,146.2h1.5M109.5,146.2h3M123,146.2h1.5M126,146.2h3M130.5,146.2h4.5M141,146.2h1.5M153,146.2h1.5M163.5,146.2h1.5M172.5,146.2h4.5M186,146.2h3M193.5,146.2h1.5M199.5,146.2h4.5M34.5,147.8h1.5M39,147.8h1.5M45,147.8h1.5M52.5,147.8h1.5M58.5,147.8h1.5M76.5,147.8h1.5M82.5,147.8h1.5M94.5,147.8h1.5M97.5,147.8h3M102,147.8h1.5M121.5,147.8h1.5M126,147.8h1.5M139.5,147.8h3M153,147.8h1.5M160.5,147.8h7.5M174,147.8h4.5M180,147.8h1.5M186,147.8h3M198,147.8h4.5M207,147.8h3M34.5,149.2h1.5M40.5,149.2h3M45,149.2h1.5M48,149.2h6M73.5,149.2h1.5M85.5,149.2h1.5M94.5,149.2h1.5M124.5,149.2h1.5M138,149.2h1.5M151.5,149.2h1.5M154.5,149.2h1.5M160.5,149.2h4.5M172.5,149.2h1.5M189,149.2h3M196.5,149.2h9M39,150.8h3M45,150.8h4.5M51,150.8h1.5M55.5,150.8h1.5M73.5,150.8h6M91.5,150.8h1.5M94.5,150.8h1.5M103.5,150.8h1.5M127.5,150.8h3M160.5,150.8h1.5M165,150.8h1.5M168,150.8h4.5M175.5,150.8h1.5M181.5,150.8h4.5M201,150.8h4.5M207,150.8h3M34.5,152.2h1.5M45,152.2h3M55.5,152.2h1.5M67.5,152.2h1.5M75,152.2h3M90,152.2h3M97.5,152.2h1.5M106.5,152.2h1.5M111,152.2h1.5M138,152.2h3M145.5,152.2h3M160.5,152.2h1.5M166.5,152.2h1.5M172.5,152.2h3M177,152.2h1.5M183,152.2h3M190.5,152.2h1.5M195,152.2h1.5M208.5,152.2h1.5M213,152.2h1.5M43.5,153.8h1.5M48,153.8h3M58.5,153.8h1.5M91.5,153.8h4.5M103.5,153.8h3M126,153.8h1.5M138,153.8h1.5M144,153.8h3M166.5,153.8h1.5M181.5,153.8h1.5M190.5,153.8h1.5M196.5,153.8h1.5M202.5,153.8h1.5M210,153.8h3M43.5,155.2h1.5M46.5,155.2h1.5M54,155.2h1.5M63,155.2h1.5M70.5,155.2h1.5M73.5,155.2h1.5M76.5,155.2h1.5M79.5,155.2h1.5M91.5,155.2h1.5M94.5,155.2h1.5M99,155.2h1.5M109.5,155.2h1.5M117,155.2h1.5M133.5,155.2h1.5M144,155.2h1.5M156,155.2h6M165,155.2h1.5M169.5,155.2h1.5M177,155.2h1.5M180,155.2h3M202.5,155.2h3M211.5,155.2h1.5M43.5,156.8h6M51,156.8h1.5M64.5,156.8h3M72,156.8h1.5M78,156.8h1.5M91.5,156.8h1.5M94.5,156.8h3M112.5,156.8h3M132,156.8h1.5M141,156.8h3M153,156.8h1.5M156,156.8h1.5M169.5,156.8h1.5M181.5,156.8h4.5M193.5,156.8h1.5M202.5,156.8h3M211.5,156.8h1.5M40.5,158.2h1.5M43.5,158.2h1.5M51,158.2h1.5M73.5,158.2h1.5M78,158.2h4.5M84,158.2h1.5M87,158.2h1.5M102,158.2h1.5M111,158.2h3M126,158.2h1.5M132,158.2h1.5M142.5,158.2h1.5M151.5,158.2h1.5M163.5,158.2h1.5M169.5,158.2h1.5M175.5,158.2h1.5M183,158.2h7.5M208.5,158.2h1.5M211.5,158.2h1.5M69,159.8h3M73.5,159.8h4.5M79.5,159.8h1.5M85.5,159.8h4.5M91.5,159.8h1.5M106.5,159.8h1.5M112.5,159.8h1.5M118.5,159.8h1.5M127.5,159.8h1.5M136.5,159.8h1.5M142.5,159.8h3M154.5,159.8h1.5M163.5,159.8h1.5M175.5,159.8h3M184.5,159.8h1.5M187.5,159.8h1.5M207,159.8h3M216,159.8h1.5" stroke="#aaf514" stroke-width="1.6" fill="none"/><path d="M49.5,20.2h1.5M58.5,20.2h1.5M85.5,20.2h1.5M97.5,20.2h1.5M118.5,20.2h1.5M166.5,20.2h3M199.5,20.2h1.5M202.5,20.2h1.5M210,20.2h1.5M49.5,21.8h1.5M58.5,21.8h1.5M84,21.8h1.5M87,21.8h3M198,21.8h1.5M46.5,23.2h1.5M51,23.2h3M57,23.2h3M97.5,23.2h1.5M111,23.2h1.5M123,23.2h1.5M141,23.2h1.5M154.5,23.2h1.5M165,23.2h1.5M178.5,23.2h1.5M189,23.2h1.5M204,23.2h1.5M213,23.2h1.5M52.5,24.8h1.5M55.5,24.8h1.5M70.5,24.8h1.5M81,24.8h1.5M100.5,24.8h1.5M129,24.8h1.5M132,24.8h1.5M177,24.8h1.5M186,24.8h1.5M34.5,26.2h1.5M42,26.2h1.5M67.5,26.2h1.5M72,26.2h4.5M85.5,26.2h1.5M111,26.2h1.5M132,26.2h1.5M142.5,26.2h1.5M187.5,26.2h1.5M193.5,26.2h1.5M36,27.8h1.5M40.5,27.8h1.5M57,27.8h1.5M69,27.8h3M84,27.8h1.5M96,27.8h1.5M99,27.8h1.5M109.5,27.8h1.5M112.5,27.8h3M130.5,27.8h1.5M139.5,27.8h1.5M168,27.8h1.5M172.5,27.8h1.5M189,27.8h1.5M193.5,27.8h1.5M73.5,29.2h1.5M90,29.2h1.5M112.5,29.2h1.5M130.5,29.2h1.5M136.5,29.2h3M192,29.2h1.5M201,29.2h3M45,30.8h1.5M52.5,30.8h1.5M61.5,30.8h1.5M72,30.8h1.5M97.5,30.8h1.5M100.5,30.8h3M106.5,30.8h1.5M130.5,30.8h1.5M190.5,30.8h1.5M207,30.8h1.5M45,32.2h1.5M57,32.2h1.5M79.5,32.2h1.5M85.5,32.2h1.5M103.5,32.2h1.5M109.5,32.2h1.5M112.5,32.2h1.5M117,32.2h4.5M163.5,32.2h1.5M177,32.2h1.5M184.5,32.2h3M190.5,32.2h6M87,33.8h1.5M123,33.8h1.5M160.5,33.8h1.5M193.5,33.8h1.5M55.5,35.2h3M87,35.2h1.5M129,35.2h1.5M135,35.2h1.5M144,35.2h1.5M57,36.8h1.5M60,36.8h1.5M64.5,36.8h1.5M69,36.8h1.5M85.5,36.8h1.5M88.5,36.8h1.5M141,36.8h3M165,36.8h1.5M199.5,36.8h1.5M51,38.2h3M121.5,38.2h3M139.5,38.2h3M54,39.8h1.5M87,39.8h1.5M91.5,39.8h1.5M106.5,39.8h1.5M123,39.8h1.5M130.5,39.8h1.5M136.5,39.8h1.5M57,41.2h3M82.5,41.2h1.5M114,41.2h1.5M124.5,41.2h3M132,41.2h1.5M148.5,41.2h1.5M154.5,41.2h1.5M184.5,41.2h1.5M201,41.2h1.5M67.5,42.8h1.5M82.5,42.8h1.5M91.5,42.8h1.5M112.5,42.8h1.5M115.5,42.8h1.5M129,42.8h1.5M132,42.8h1.5M135,42.8h1.5M151.5,42.8h1.5M178.5,42.8h1.5M201,42.8h1.5M207,42.8h1.5M46.5,44.2h1.5M52.5,44.2h1.5M64.5,44.2h1.5M69,44.2h1.5M81,44.2h1.5M85.5,44.2h1.5M93,44.2h1.5M118.5,44.2h1.5M133.5,44.2h1.5M150,44.2h1.5M183,44.2h1.5M205.5,44.2h1.5M52.5,45.8h1.5M69,45.8h1.5M84,45.8h1.5M102,45.8h1.5M114,45.8h1.5M142.5,45.8h1.5M163.5,45.8h1.5M181.5,45.8h1.5M193.5,45.8h1.5M196.5,45.8h1.5M37.5,47.2h1.5M40.5,47.2h1.5M66,47.2h1.5M96,47.2h1.5M106.5,47.2h1.5M118.5,47.2h4.5M139.5,47.2h1.5M142.5,47.2h1.5M147,47.2h1.5M216,47.2h1.5M88.5,48.8h1.5M99,48.8h1.5M114,48.8h1.5M120,48.8h1.5M139.5,48.8h3M145.5,48.8h1.5M36,50.2h1.5M66,50.2h1.5M96,50.2h1.5M114,50.2h3M180,50.2h1.5M199.5,50.2h1.5M54,51.8h1.5M61.5,51.8h1.5M91.5,51.8h1.5M147,51.8h1.5M201,51.8h1.5M213,51.8h1.5M37.5,53.2h1.5M49.5,53.2h3M57,53.2h1.5M76.5,53.2h1.5M82.5,53.2h1.5M118.5,53.2h1.5M124.5,53.2h1.5M192,53.2h1.5M66,54.8h1.5M76.5,54.8h1.5M79.5,54.8h1.5M85.5,54.8h3M112.5,54.8h1.5M121.5,54.8h1.5M162,54.8h1.5M166.5,54.8h1.5M174,54.8h1.5M202.5,54.8h1.5M48,56.2h1.5M63,56.2h1.5M88.5,56.2h1.5M138,56.2h1.5M163.5,56.2h1.5M178.5,56.2h1.5M48,57.8h1.5M69,57.8h1.5M72,57.8h1.5M106.5,57.8h1.5M141,57.8h1.5M201,57.8h1.5M58.5,59.2h4.5M72,59.2h4.5M79.5,59.2h1.5M99,59.2h1.5M105,59.2h3M109.5,59.2h1.5M160.5,59.2h3M171,59.2h1.5M184.5,59.2h1.5M216,59.2h1.5M40.5,60.8h1.5M60,60.8h1.5M63,60.8h1.5M72,60.8h1.5M82.5,60.8h1.5M97.5,60.8h1.5M106.5,60.8h1.5M112.5,60.8h1.5M115.5,60.8h1.5M196.5,60.8h1.5M214.5,60.8h1.5M39,62.2h1.5M43.5,62.2h1.5M49.5,62.2h1.5M58.5,62.2h1.5M63,62.2h1.5M72,62.2h1.5M75,62.2h1.5M99,62.2h1.5M102,62.2h1.5M105,62.2h1.5M157.5,62.2h1.5M57,63.8h1.5M87,63.8h3M115.5,63.8h1.5M159,63.8h1.5M207,63.8h1.5M45,65.2h1.5M55.5,65.2h1.5M58.5,65.2h3M78,65.2h1.5M81,65.2h1.5M154.5,65.2h1.5M214.5,65.2h1.5M46.5,66.8h1.5M52.5,66.8h1.5M55.5,66.8h1.5M63,66.8h3M121.5,66.8h3M162,66.8h1.5M40.5,68.2h4.5M48,68.2h3M55.5,68.2h1.5M88.5,68.2h1.5M132,68.2h3M49.5,69.8h1.5M85.5,69.8h1.5M123,69.8h1.5M157.5,69.8h1.5M207,69.8h1.5M51,71.2h1.5M55.5,71.2h1.5M76.5,71.2h1.5M93,71.2h1.5M97.5,71.2h1.5M106.5,71.2h1.5M121.5,71.2h3M126,71.2h1.5M138,71.2h1.5M141,71.2h1.5M166.5,71.2h1.5M55.5,72.8h3M73.5,72.8h1.5M106.5,72.8h1.5M174,72.8h3M192,72.8h1.5M63,74.2h1.5M93,74.2h3M103.5,74.2h1.5M111,74.2h3M115.5,74.2h1.5M192,74.2h3M67.5,75.8h1.5M94.5,75.8h1.5M103.5,75.8h1.5M160.5,75.8h1.5M193.5,75.8h1.5M73.5,77.2h1.5M79.5,77.2h1.5M93,77.2h1.5M121.5,77.2h1.5M174,77.2h1.5M180,77.2h1.5M213,77.2h1.5M37.5,78.8h1.5M82.5,78.8h1.5M102,78.8h1.5M118.5,78.8h1.5M168,78.8h1.5M210,78.8h1.5M55.5,80.2h1.5M60,80.2h1.5M102,80.2h1.5M130.5,80.2h1.5M214.5,80.2h1.5M37.5,81.8h1.5M70.5,81.8h1.5M96,81.8h4.5M118.5,81.8h3M183,81.8h1.5M36,83.2h1.5M43.5,83.2h1.5M57,83.2h1.5M70.5,83.2h1.5M76.5,83.2h1.5M94.5,83.2h1.5M97.5,83.2h1.5M100.5,83.2h1.5M145.5,83.2h1.5M168,83.2h1.5M45,84.8h1.5M52.5,84.8h1.5M67.5,84.8h1.5M70.5,84.8h3M75,84.8h1.5M82.5,84.8h1.5M94.5,84.8h1.5M100.5,84.8h1.5M123,84.8h1.5M129,84.8h1.5M37.5,86.2h1.5M40.5,86.2h1.5M55.5,86.2h1.5M61.5,86.2h1.5M66,86.2h3M70.5,86.2h1.5M94.5,86.2h1.5M103.5,86.2h1.5M136.5,86.2h1.5M139.5,86.2h1.5M142.5,86.2h4.5M37.5,87.8h1.5M54,87.8h3M61.5,87.8h6M69,87.8h1.5M75,87.8h1.5M79.5,87.8h4.5M97.5,87.8h1.5M144,87.8h1.5M148.5,87.8h1.5M183,87.8h1.5M39,89.2h4.5M55.5,89.2h1.5M58.5,89.2h1.5M64.5,89.2h1.5M103.5,89.2h3M130.5,89.2h1.5M138,89.2h1.5M202.5,89.2h1.5M36,90.8h1.5M40.5,90.8h1.5M43.5,90.8h1.5M57,90.8h3M46.5,92.2h1.5M57,92.2h1.5M76.5,92.2h3M85.5,92.2h7.5M133.5,92.2h1.5M34.5,93.8h1.5M45,93.8h3M57,93.8h3M72,93.8h3M94.5,93.8h1.5M102,93.8h1.5M79.5,95.2h1.5M96,95.2h1.5M124.5,95.2h1.5M187.5,95.2h1.5M40.5,96.8h1.5M73.5,96.8h1.5M82.5,96.8h1.5M117,96.8h1.5M39,98.2h1.5M43.5,98.2h1.5M51,98.2h1.5M54,98.2h1.5M64.5,98.2h1.5M76.5,98.2h4.5M87,98.2h3M100.5,98.2h1.5M117,98.2h3M121.5,98.2h1.5M142.5,98.2h1.5M37.5,99.8h1.5M49.5,99.8h1.5M52.5,99.8h1.5M76.5,99.8h1.5M81,99.8h1.5M91.5,99.8h3M102,99.8h1.5M114,99.8h3M120,99.8h1.5M36,101.2h1.5M39,101.2h1.5M42,101.2h1.5M51,101.2h1.5M76.5,101.2h1.5M87,101.2h1.5M94.5,101.2h1.5M100.5,101.2h3M105,101.2h3M36,102.8h1.5M49.5,102.8h4.5M87,102.8h1.5M112.5,102.8h3M49.5,104.2h1.5M54,104.2h1.5M67.5,104.2h1.5M70.5,104.2h1.5M73.5,104.2h1.5M82.5,104.2h1.5M87,104.2h1.5M93,104.2h3M106.5,104.2h1.5M118.5,104.2h1.5M43.5,105.8h1.5M48,105.8h1.5M51,105.8h1.5M66,105.8h1.5M70.5,105.8h3M76.5,105.8h1.5M96,105.8h1.5M103.5,105.8h1.5M109.5,105.8h1.5M42,107.2h1.5M49.5,107.2h4.5M64.5,107.2h1.5M69,107.2h1.5M75,107.2h1.5M84,107.2h1.5M109.5,107.2h1.5M34.5,108.8h3M39,108.8h4.5M48,108.8h3M55.5,108.8h1.5M69,108.8h1.5M75,108.8h1.5M85.5,108.8h1.5M111,108.8h1.5M40.5,110.2h1.5M43.5,110.2h1.5M48,110.2h1.5M55.5,110.2h3M72,110.2h1.5M75,110.2h1.5M78,110.2h4.5M84,110.2h6M100.5,110.2h1.5M117,110.2h1.5M133.5,110.2h1.5M37.5,111.8h1.5M43.5,111.8h1.5M57,111.8h3M69,111.8h3M75,111.8h3M81,111.8h1.5M85.5,111.8h6M147,111.8h1.5M157.5,111.8h1.5M37.5,113.2h1.5M46.5,113.2h3M58.5,113.2h1.5M69,113.2h1.5M73.5,113.2h3M84,113.2h1.5M90,113.2h1.5M111,113.2h1.5M52.5,114.8h1.5M66,114.8h1.5M70.5,114.8h3M79.5,114.8h1.5M96,114.8h3M114,114.8h1.5M42,116.2h1.5M46.5,116.2h1.5M54,116.2h1.5M81,116.2h1.5M94.5,116.2h1.5M108,116.2h1.5M34.5,117.8h3M91.5,117.8h6M112.5,117.8h1.5M144,117.8h4.5M37.5,119.2h1.5M51,119.2h3M73.5,119.2h1.5M78,119.2h1.5M93,119.2h3M102,119.2h1.5M114,119.2h3M142.5,119.2h3M147,119.2h1.5M52.5,120.8h3M61.5,120.8h1.5M66,120.8h1.5M69,120.8h1.5M91.5,120.8h1.5M97.5,120.8h1.5M112.5,120.8h1.5M117,120.8h1.5M124.5,120.8h1.5M144,120.8h3M45,122.2h1.5M54,122.2h3M67.5,122.2h1.5M76.5,122.2h1.5M109.5,122.2h1.5M118.5,122.2h1.5M151.5,122.2h1.5M201,122.2h1.5M39,123.8h1.5M43.5,123.8h1.5M55.5,123.8h1.5M85.5,123.8h1.5M88.5,123.8h1.5M121.5,123.8h1.5M144,123.8h1.5M211.5,123.8h1.5M37.5,125.2h1.5M51,125.2h1.5M55.5,125.2h1.5M73.5,125.2h1.5M85.5,125.2h1.5M93,125.2h1.5M111,125.2h1.5M118.5,125.2h1.5M127.5,125.2h1.5M136.5,125.2h1.5M183,125.2h1.5M72,126.8h1.5M84,126.8h1.5M87,126.8h1.5M96,126.8h1.5M126,126.8h1.5M129,126.8h1.5M135,126.8h1.5M145.5,126.8h1.5M213,126.8h1.5M40.5,128.2h1.5M46.5,128.2h1.5M52.5,128.2h1.5M63,128.2h1.5M67.5,128.2h1.5M73.5,128.2h1.5M76.5,128.2h1.5M85.5,128.2h1.5M94.5,128.2h1.5M120,128.2h1.5M136.5,128.2h3M147,128.2h1.5M163.5,128.2h1.5M57,129.8h1.5M64.5,129.8h1.5M72,129.8h1.5M78,129.8h1.5M82.5,129.8h1.5M144,129.8h1.5M43.5,131.2h1.5M57,131.2h1.5M60,131.2h1.5M64.5,131.2h3M70.5,131.2h1.5M73.5,131.2h1.5M76.5,131.2h1.5M81,131.2h1.5M115.5,131.2h1.5M126,131.2h1.5M136.5,131.2h1.5M151.5,131.2h1.5M157.5,131.2h1.5M166.5,131.2h1.5M63,132.8h1.5M66,132.8h1.5M76.5,132.8h3M118.5,132.8h1.5M133.5,132.8h1.5M157.5,132.8h1.5M210,132.8h1.5M216,132.8h1.5M37.5,134.2h1.5M64.5,134.2h1.5M97.5,134.2h4.5M112.5,134.2h1.5M142.5,134.2h1.5M147,134.2h1.5M210,134.2h1.5M36,135.8h1.5M63,135.8h1.5M78,135.8h3M96,135.8h1.5M117,135.8h1.5M202.5,135.8h1.5M78,137.2h3M85.5,137.2h1.5M105,137.2h1.5M118.5,137.2h1.5M127.5,137.2h1.5M34.5,138.8h1.5M45,138.8h4.5M105,138.8h1.5M118.5,138.8h1.5M132,138.8h1.5M43.5,140.2h3M70.5,140.2h1.5M84,140.2h3M94.5,140.2h1.5M100.5,140.2h3M115.5,140.2h1.5M118.5,140.2h1.5M166.5,140.2h1.5M198,140.2h1.5M34.5,141.8h1.5M99,141.8h1.5M106.5,141.8h1.5M172.5,141.8h1.5M208.5,141.8h1.5M58.5,143.2h1.5M73.5,143.2h3M117,143.2h1.5M130.5,143.2h3M139.5,143.2h1.5M198,143.2h1.5M211.5,143.2h1.5M55.5,144.8h1.5M66,144.8h1.5M90,144.8h1.5M100.5,144.8h1.5M108,144.8h1.5M112.5,144.8h1.5M121.5,144.8h1.5M148.5,144.8h1.5M159,144.8h1.5M171,144.8h1.5M207,144.8h3M211.5,144.8h3M40.5,146.2h1.5M55.5,146.2h1.5M70.5,146.2h1.5M75,146.2h1.5M105,146.2h1.5M151.5,146.2h1.5M184.5,146.2h1.5M198,146.2h1.5M214.5,146.2h1.5M55.5,147.8h1.5M61.5,147.8h1.5M66,147.8h3M88.5,147.8h1.5M108,147.8h1.5M115.5,147.8h1.5M120,147.8h1.5M147,147.8h1.5M159,147.8h1.5M61.5,149.2h3M66,149.2h1.5M69,149.2h1.5M88.5,149.2h1.5M91.5,149.2h1.5M97.5,149.2h1.5M103.5,149.2h3M112.5,149.2h1.5M115.5,149.2h4.5M193.5,149.2h1.5M213,149.2h1.5M216,149.2h1.5M43.5,150.8h1.5M60,150.8h1.5M63,150.8h3M99,150.8h1.5M114,150.8h1.5M117,150.8h1.5M144,150.8h1.5M190.5,150.8h1.5M214.5,150.8h1.5M42,152.2h1.5M63,152.2h1.5M85.5,152.2h1.5M115.5,152.2h3M141,152.2h1.5M153,152.2h3M171,152.2h1.5M178.5,152.2h1.5M54,153.8h1.5M61.5,153.8h3M66,153.8h4.5M84,153.8h1.5M118.5,153.8h4.5M124.5,153.8h1.5M147,153.8h1.5M153,153.8h1.5M162,153.8h1.5M172.5,153.8h3M180,153.8h1.5M214.5,153.8h1.5M34.5,155.2h3M45,155.2h1.5M69,155.2h1.5M105,155.2h4.5M120,155.2h1.5M147,155.2h1.5M168,155.2h1.5M186,155.2h3M190.5,155.2h1.5M207,155.2h3M213,155.2h1.5M36,156.8h1.5M49.5,156.8h1.5M54,156.8h3M60,156.8h1.5M67.5,156.8h1.5M109.5,156.8h1.5M115.5,156.8h3M120,156.8h1.5M166.5,156.8h3M172.5,156.8h1.5M187.5,156.8h4.5M205.5,156.8h1.5M97.5,158.2h1.5M120,158.2h1.5M123,158.2h1.5M153,158.2h1.5M214.5,158.2h1.5M46.5,159.8h1.5M49.5,159.8h1.5M54,159.8h1.5M60,159.8h3M82.5,159.8h1.5M103.5,159.8h1.5M115.5,159.8h1.5M130.5,159.8h1.5M139.5,159.8h1.5M171,159.8h4.5M192,159.8h1.5M204,159.8h1.5M211.5,159.8h1.5" stroke="#148c14" stroke-width="1.6" fill="none"/></g></g>
<path d="M108.5,63.8 109.8,65 110.8,66.5 112.2,67.5 113.5,68.7 115.4,69.4 117.1,70.5 119.1,71 120.8,72.3 123.3,72.5 125.6,71.7 127.1,72.4 128.7,73 129,74.6 129.9,76 129.3,77.8" fill="none" stroke="#000" stroke-width="0.8" stroke-linejoin="round"/>
<path d="M129.3,77.8 127.2,78.7 125.6,80.3 123.9,81.6 122,82.7 120.9,83.7 120.2,85.1 119.8,86.9 119.6,88.8 117.9,90.2 115.9,91.2 114.4,91.8 113.5,93 112.8,94.8 112.9,96.7 113.6,98.1 114.1,99.7 115.3,101.3 117.1,102.2 118.8,102.9 120.2,104" fill="none" stroke="#000" stroke-width="0.8" stroke-linejoin="round"/>
<path d="M129.3,77.8 130.7,78.1 131.7,79 133.6,78.5 135.4,77.8 137.5,78.1 139.6,77.8 141.1,77 142.7,76.6 144,75.8 145.1,74.8 146.3,73.9 147.5,73 148.6,74 150,74.2 150.8,76 151.8,77.8 152.6,79 154,79.5 155.8,78.3 157.9,77.5 159.9,77.5 161.8,78.2 163.1,77.7 164.4,77.5 165.7,77.8 167,77.6" fill="none" stroke="#000" stroke-width="0.8" stroke-linejoin="round"/>
<path d="M145.1,74.8 144.7,77 143.9,79 143.9,81.2 143.3,83.3 144.2,84.7 144.5,86.3 145.1,88 146.3,89.4 145.4,90.8 145.1,92.4 143.1,93.4 140.9,93.6 139.5,95 137.8,96.1 136.8,97.8 136,99.7 134.9,101.5 134.2,103.4 134,105.2 133.6,107" fill="none" stroke="#000" stroke-width="0.8" stroke-linejoin="round"/>
<path d="M120.2,104 121.5,105.5 123.2,106.4 125,107.5 126.9,108.2 128.8,108.3 130.5,108.9 131.9,107.9 133.6,107.6" fill="none" stroke="#000" stroke-width="0.8" stroke-linejoin="round"/>
<path d="M118.3,104.5 117.4,106 116.4,107.4 116.1,109.1 116.9,110.7 117,112.6 117.4,114.3 117.3,116 117.2,117.8 116.7,119.5 116.6,121.3 117.1,123 117.4,124.7 118.6,126.4 120,127.9 121.6,128 123.2,128.6 122.5,130.5 121.9,132.5 121,134 120.6,135.7 121.9,137.1 122.6,138.9 123.5,140.8 123.9,142.8 124.4,144.2 124.5,145.6" fill="none" stroke="#000" stroke-width="0.8" stroke-linejoin="round"/>
<path d="M155,79.3 156,81.5 156.7,83.1 158.5,83.8 159.2,85.4 159.9,87.6 159.8,89.9 159.5,91.6 159.2,93.2 159.7,95.3 161.1,97 160.8,99.1 159.8,101 158.3,101.8 156.6,102.2 155.4,103.1 154,103.5 152.4,102.9 150.9,102 150.5,103.8 149.3,105.2 151.2,106.5 153.3,107.6 155.5,107.2 157.6,108.2 159.8,107.8 161.1,109.9 161.8,112.3 163.8,113.1 165.7,114.3 167.5,114.3 169.1,115.4 170.9,115.6 172.9,115.8 174.8,116.2 174.4,117.8 174.1,119.5 173.3,121.4 172.8,123.4 173.6,125.3 173.5,127.3 175.3,128.4 176.7,129.9 177.4,131.2 178,132.5" fill="none" stroke="#000" stroke-width="0.8" stroke-linejoin="round"/>
<path d="M174.5,24.6 174.3,26.8 174.3,29.1 174.9,30.6 175.5,32.2 174.9,34 174.3,35.8 172.9,37.5 171.8,39.5 170.6,41.6 169.4,43.7 168.2,45.6 167.6,47.1 166.3,48 165.5,49.5 164.5,51 163.4,52.4 163.3,54.1 164.7,55.1 165.7,56.5 166.1,58.5 167,60.2 166.9,62.1 166.3,63.8 167,65.9 165.9,68 164.4,69.8 164.2,71.9 163.1,73.7 164.1,74.8 164.4,76.3 165.6,77.1 167,77.6" fill="none" stroke="#000" stroke-width="0.8" stroke-linejoin="round"/>
<path d="M167,77.6 169,77.6 170.9,76.9 172.6,76.8 174.3,76.1 176.1,76.3 177.8,75.7 179.5,75.2 181.3,75 182.9,73.9 184.8,73.6 186.5,73 188.2,73.4 189.9,72.9 191.6,73 193.3,73.5 195.1,73.9 196.8,74.3 197.8,75.3 198.8,76.3 198.2,77.6 197.5,78.9 196.8,81 195.5,82.8" fill="none" stroke="#000" stroke-width="0.8" stroke-linejoin="round"/>
<path d="M63.8,101 65.2,99.8 66.5,98.5 68,98.2 69.3,97.3 70.7,95.9 71.7,94.2 72.9,92.4 74.7,91.6 76.6,91.2 79,90.6 79.5,92.1 80.2,93.6 81.2,95 82.1,96.9 82.5,98.9 84.6,99.9 86.3,101.5 88,102.4 89.7,103.3 91.5,104.1 93.3,105.2 95.4,105.4 97.3,105.5 98.9,104.6 100.5,104 102.2,103.6 103.7,102.8 106.2,102.5 108.6,102.8 110.3,103.9 112.3,104.6 113.9,104.6 115.3,104 116.9,104.2 118.3,103.4 120.2,104" fill="none" stroke="#000" stroke-width="0.8" stroke-linejoin="round"/>
<path d="M95.4,105.4 94.4,106.5 94.1,108 93.8,109.3 93.5,110.6 95.7,111.5 98,111.9 100,110.6 101,109.3 101.9,108 103,106.5 104.5,105.4 106.6,104.6 108.4,103.2" fill="none" stroke="#000" stroke-width="0.8" stroke-linejoin="round"/>
<path d="M82.5,98.9 82,100.8 81.1,102.4 80,104 79.3,105.8 78.5,107.5 77.9,109.3 78,110.7 78.6,111.9 77.9,114 76.6,115.8 76.1,117.5 75.7,119.2 76,121 75.8,122.8 75.4,124.5 74.7,126.2 74.5,128.1 74,130 72.9,131.9 72.1,133.9 71.9,136.3 70.8,138.5" fill="none" stroke="#000" stroke-width="0.8" stroke-linejoin="round"/>
<path d="M78.6,111.9 80.6,111.8 82.5,112.5 83.2,113.7 84.4,114.5 84.8,116.5 85.7,118.4 87.6,119.3 88.9,121 90.5,121.7 91.5,123.1 92.8,124.2 93.9,125.5 95.6,126.2 96.7,127.5 98.5,129 100,130.7 101.5,132.2 103.2,133.3 105.2,133.2 107.1,133.9 108.6,132.8 109.7,131.3 111.3,130.7 112.3,129.4 113.5,130.5 115,131 115.8,133 117.4,134.4 119,135.1 120.6,135.7" fill="none" stroke="#000" stroke-width="0.8" stroke-linejoin="round"/>
<path d="M66.2,93.2 68,92.6 69.6,93.6 68.4,94.8 66.4,94.6 66.2,93.2" fill="none" stroke="#000" stroke-width="0.8" stroke-linejoin="round"/>
<path d="M36.4,85.1 37.3,83.6 38.9,82.7 39.9,81.3 41.5,80.5 42.5,79 43.8,77.3 45,75.4 46.2,74.2 47.9,74.4 49.2,75.4 50.8,76.5 52.3,77.8 54.7,78.4 55.9,76.9 57.1,75.4 58.9,73.6 61.4,74.2 62.9,75.1 63.8,76.6 65.6,77.4 67.5,77.8 69.6,77.4 71.7,77.8 73.5,77.1 75.4,76.6 77.2,76 79,75.4 80.8,74.7 82.7,74.2 84,73 85.1,71.7 85.9,70.3 86.3,68.7 87.7,67.5 88.2,65.7 89.3,64.8 90.6,64.4 92.3,64.6 94,64.4 95.4,65.6 97,66.5 98.9,66 100.9,65.9 102.6,64.9 104.5,65 106.5,64.9 108.2,63.8 110.2,63.4 112.2,63.2 114.3,63.2 116.2,63 117.9,62 118.6,60.5 119.1,58.9 118.5,57.4 117.9,55.9 116.9,54.5 115.5,53.5 113.5,53.3 111.8,52.2 110,52.3 108.2,52.9 106.6,52.7 105.1,52.2 104.1,50.9 103.9,49.2 102.2,48.4 100.3,48 99.7,46.8 98.4,46.2 97.5,44.8 97.2,43.1 97.9,41.7 98.4,40.1 100.2,39 102.1,38.3 104,37.9 105.7,37 106.8,36 107.6,34.6 109.4,35.8 110.8,36.8 111.8,38.3 113.5,39.8 115.5,40.7 116.9,41.5 118.5,41.9 120.4,41.2 122.2,40.1 123.9,39.2 123.9,37 123.7,35.7 122.8,34.6 122,33.5 121.3,32.4 122.2,31.2 124,31.7 124.9,33.5 126.2,35 127,36.8 128.5,38.1 129.3,39.8 129.2,41.7 130.5,41.2 131.3,40.1 132.1,38.5 133.1,37 133.7,35.8 134.3,34.6 135.7,33.4 137.4,32.8 139.3,32.1 141,31 142.8,30.8 144.7,31 146.4,32 148.3,32.2 149.1,30.8 150.2,29.7 150.6,27.9 150.8,26.1 151.3,24.2 152,22.4 154,21.8 156,21 157.9,20.9 159.7,21.2 161.5,21.8 162.2,23.8 163.3,25.5 165.1,27.3 166.8,26.6 168.2,25.5 170,25 171.8,24.3 173.6,25.1 175.5,24.9 177.9,24.3 178.5,25.7 178.5,27.3 178.4,29.2 179.1,31 180,32.7 180.3,34.6 180.9,35.9 182.2,36.4 184,37.1 185.8,37.6 187,38.6 188.3,39.5 187.6,40.9 187.9,42.5 187,44.9 187.9,46.8 189.5,46.2 190.1,43.7 191.3,43.1 191.5,44.7 192.3,46.2 192.1,47.7 192.5,49.2 193.9,49.4 194.9,50.4 196.8,50.6 198.6,51 200.2,50.7 201.6,51.4 201.9,49.9 202.9,48.6 203.2,47 204.1,45.6 205.3,44.2 205.9,42.5 207.1,43.1 207.8,44.6 207.7,46.2 208.3,48.6 210.2,49.2 209.7,50.5 208.9,51.6 208.9,53.5 208.9,55.3 210.2,56.5 209.5,58.9 209.7,60.8 210.6,62.4 211,64.4 212.4,65.9 212.5,67.9 213.1,69.8 211.7,71.6 209.8,73 207.8,73.6 205.9,74.3 203.9,74.7 202,75.6 200.8,77.6 198.8,78.9 197.5,80.1 196.7,81.6 195.5,82.8 194.8,84.1 194.2,85.4 195.4,86.2 196.8,86.7 198.6,86.7 200.3,86.3 202,86 204,85.4 205.9,84.7 207.8,83.9 209.8,83.8 211.5,84.2 213.1,84.7 214.4,85.8 215,87.3 215.5,89.6 216,91.9 215.5,93.5 215,95.1 213.3,95.5 211.8,96.4 211.3,98 210.5,99.6 210.3,101.5 209.2,103 208.5,105.2 209.1,106.8 209.8,108.4 211.6,108.7 213.1,109.7 213.5,111.7 214.4,113.6 214.8,115.2 215,116.9 213.4,117.7 211.8,118.2 210.7,119.6 210.5,121.4 209.6,123.1 208.5,124.7 206.9,125.2 205.3,125.3 203.7,125.8 202,126 201.4,127.3 200.7,128.6 200.7,131.2 198.1,131.2 197.4,129.6 197.5,127.9 195.5,127.3 194.2,128.2 192.9,129.2 191.6,131.2 189.7,130.5 188.6,131.6 188.4,133.1 188.1,135.3 188,137.6 186.5,137 186.1,135.6 185.2,134.4 184.1,133.3 182.6,133.1 181.5,132.1 180,131.8 178.6,132.2 177.4,133.1 176.1,134.5 175.4,136.3 174.2,137.4 173.5,138.9 172,140.1 170.2,140.9 168.6,141.9 167,142.8 165.4,143.3 163.7,143.5 162.6,142.7 161.8,141.5 160.5,140.5 159.2,139.6 157.9,140.1 156.6,140.2 154.4,140.2 152.4,138.9 151.2,137.2 149.8,135.7 148.6,134 147.2,132.5 145.6,131.6 144.6,130.1 143.3,130.7 142,131.2 140.5,132.6 138.8,133.8 137.9,135.6 137.5,137.6 136.6,139.5 134.9,140.9 133.1,142.1 131,142.6 129,143.5 127.1,144.5 125.1,145.1 123.2,146.1 121.3,147.1 119.5,148.1 117.4,148.7 115.9,149.2 115,150.5 114.3,151.9 113.1,153 112.4,154.9 111.1,156.3 110.3,157.4 109.2,158.2 107.8,157.7 106.6,156.9 104.9,156.9 103.3,156.3 101.4,155.9 99.4,155.6 97.6,154.5 95.5,154.3 94,153.7 92.9,152.4 91.6,151.8 90.3,151.1 88.8,150.3 87.1,149.8 85.9,149 84.5,148.9 82.6,149.8 81,150.4 80,151.8 79.3,153.3 78,154.3 76.7,155.3 75.4,156.3 73.6,156.6 72.2,157.6 70.3,158.4 68.3,158.2 67,157.5 65.7,156.9 65,155 65.3,153.5 66.3,152.4 67.5,151 68.3,149.2 69.4,147.7 69.6,145.9 68.9,144 70.2,143 71.5,142 70.7,140.5 70.9,138.8 69.3,137.8 68.3,136.2 66.6,135 65,133.6 63.6,132.3 61.8,131.6 60,130.5 58.5,129 58.4,127.4 57.9,125.8 58.7,124.3 59.7,122.9 60.5,120.8 61.7,119 62.9,116.8 63.6,114.5 64,112.5 64.9,110.6 65.8,108.9 66.9,107.3 66.8,105.6 66.2,104.1 65.2,102.2 64.3,100.2 62.5,98.6 60.4,97.6 58.7,97.8 57,98.4 55.2,98.2 53.5,98.9 51.6,99.2 50,100.2 48.6,100.7 46.8,100.4 45,100.3 43.7,99 41.9,98.5 40.8,97.2 40.7,95.5 40.2,94 40.1,92.4 40.1,90.3 39.5,88.2 38.3,87.4 37,87Z" fill="none" stroke="#000" stroke-width="1.3" stroke-linejoin="round"/>
<path d="M65.4,157.5C64,159.5 64.6,161.5 65,163.2" fill="none" stroke="#000" stroke-width="1.1"/>
</g>
<path d="M36.3,346.4v2.8M42.3,346.4v2.8M48.4,346.4v5.2M54.4,346.4v2.8M60.4,346.4v2.8M66.5,346.4v2.8M72.5,346.4v2.8M78.5,346.4v5.2M84.6,346.4v2.8M90.6,346.4v2.8M96.7,346.4v2.8M102.7,346.4v2.8M108.8,346.4v5.2M114.8,346.4v2.8M120.8,346.4v2.8M126.9,346.4v2.8M132.9,346.4v2.8M138.9,346.4v5.2M145,346.4v2.8M151,346.4v2.8M157.1,346.4v2.8M163.1,346.4v2.8M169.2,346.4v5.2M175.2,346.4v2.8M181.2,346.4v2.8M187.3,346.4v2.8M193.3,346.4v2.8M199.3,346.4v5.2M205.4,346.4v2.8M211.4,346.4v2.8M33.4,204.4h-2.8M33.4,210.5h-5.2M33.4,216.5h-2.8M33.4,222.5h-2.8M33.4,228.6h-2.8M33.4,234.6h-2.8M33.4,240.7h-5.2M33.4,246.7h-2.8M33.4,252.7h-2.8M33.4,258.8h-2.8M33.4,264.8h-2.8M33.4,270.9h-5.2M33.4,276.9h-2.8M33.4,282.9h-2.8M33.4,289h-2.8M33.4,295h-2.8M33.4,301.1h-5.2M33.4,307.1h-2.8M33.4,313.1h-2.8M33.4,319.2h-2.8M33.4,325.2h-2.8M33.4,331.2h-5.2M33.4,337.3h-2.8M33.4,343.3h-2.8" stroke="#000" stroke-width="0.9" fill="none"/><rect x="33.4" y="198.3" width="183.9" height="148.1" fill="none" stroke="#000" stroke-width="1.1"/><text x="48.4" y="361.9" font-size="7" text-anchor="middle">104<tspan font-size="4" dy="-3.1">o</tspan><tspan dy="3.1">E</tspan></text><text x="78.5" y="361.9" font-size="7" text-anchor="middle">105<tspan font-size="4" dy="-3.1">o</tspan><tspan dy="3.1">E</tspan></text><text x="108.8" y="361.9" font-size="7" text-anchor="middle">106<tspan font-size="4" dy="-3.1">o</tspan><tspan dy="3.1">E</tspan></text><text x="138.9" y="361.9" font-size="7" text-anchor="middle">107<tspan font-size="4" dy="-3.1">o</tspan><tspan dy="3.1">E</tspan></text><text x="169.2" y="361.9" font-size="7" text-anchor="middle">108<tspan font-size="4" dy="-3.1">o</tspan><tspan dy="3.1">E</tspan></text><text x="199.3" y="361.9" font-size="7" text-anchor="middle">109<tspan font-size="4" dy="-3.1">o</tspan><tspan dy="3.1">E</tspan></text><text x="23.9" y="213.1" font-size="7" text-anchor="end">29<tspan font-size="4" dy="-3.1">o</tspan><tspan dy="3.1">N</tspan></text><text x="23.9" y="243.2" font-size="7" text-anchor="end">28<tspan font-size="4" dy="-3.1">o</tspan><tspan dy="3.1">N</tspan></text><text x="23.9" y="273.5" font-size="7" text-anchor="end">27<tspan font-size="4" dy="-3.1">o</tspan><tspan dy="3.1">N</tspan></text><text x="23.9" y="303.7" font-size="7" text-anchor="end">26<tspan font-size="4" dy="-3.1">o</tspan><tspan dy="3.1">N</tspan></text><text x="23.9" y="333.9" font-size="7" text-anchor="end">25<tspan font-size="4" dy="-3.1">o</tspan><tspan dy="3.1">N</tspan></text>
<text x="32.9" y="197.6" font-size="7.9" textLength="29.6" lengthAdjust="spacingAndGlyphs">(c) Trend</text>
<g transform="translate(246.3,183.2)">
<g clip-path="url(#prov)"><g filter="url(#bl)"><rect x="34.5" y="19.5" width="183" height="141" fill="#0f8c0f"/><path d="M127.5,21.8h1.5M93,23.2h1.5M115.5,23.2h1.5M108,35.2h1.5M109.5,47.2h1.5M165,47.2h1.5M130.5,48.8h1.5M204,59.2h3M57,66.8h1.5M100.5,66.8h1.5M93,68.2h1.5M81,74.2h1.5M172.5,77.2h1.5M196.5,84.8h1.5M34.5,86.2h1.5M123,89.2h1.5M55.5,90.8h1.5M171,90.8h1.5M66,92.2h1.5M57,95.2h1.5M172.5,99.8h1.5M151.5,101.2h1.5M63,104.2h1.5M213,104.2h1.5M54,105.8h1.5M55.5,110.2h1.5M157.5,111.8h1.5M189,111.8h1.5M58.5,113.2h1.5M148.5,113.2h1.5M153,113.2h1.5M186,116.2h1.5M124.5,117.8h1.5M132,117.8h1.5M180,120.8h1.5M186,120.8h1.5M190.5,128.2h1.5M199.5,128.2h1.5M72,129.8h1.5M163.5,129.8h1.5M199.5,129.8h1.5M34.5,131.2h1.5M216,135.8h1.5M42,137.2h1.5M175.5,141.8h1.5M144,143.2h1.5M163.5,144.8h1.5M61.5,146.2h1.5M124.5,153.8h1.5M144,153.8h1.5M157.5,153.8h1.5M195,153.8h1.5M214.5,156.8h1.5" stroke="#e61a1a" stroke-width="1.6" fill="none"/><path d="M127.5,20.2h1.5M100.5,21.8h1.5M151.5,24.8h1.5M183,26.2h1.5M73.5,27.8h1.5M37.5,30.8h1.5M99,32.2h1.5M198,35.2h1.5M72,36.8h1.5M186,36.8h1.5M49.5,41.2h1.5M130.5,42.8h1.5M36,45.8h1.5M63,57.8h1.5M75,57.8h1.5M102,57.8h1.5M111,68.2h1.5M180,68.2h1.5M186,68.2h1.5M42,71.2h1.5M160.5,74.2h1.5M82.5,78.8h1.5M64.5,83.2h1.5M117,90.8h1.5M124.5,92.2h1.5M159,92.2h1.5M46.5,95.2h1.5M181.5,95.2h1.5M111,96.8h1.5M184.5,96.8h1.5M192,96.8h1.5M183,98.2h1.5M138,99.8h1.5M156,101.2h1.5M183,101.2h1.5M43.5,102.8h1.5M178.5,104.2h1.5M189,110.2h1.5M139.5,111.8h1.5M198,111.8h1.5M210,117.8h1.5M37.5,119.2h1.5M70.5,119.2h1.5M166.5,122.2h1.5M187.5,128.2h1.5M174,131.2h1.5M178.5,137.2h1.5M186,141.8h1.5M73.5,143.2h1.5M190.5,146.2h1.5M91.5,149.2h1.5M106.5,153.8h1.5" stroke="#e6a61a" stroke-width="1.6" fill="none"/><path d="M145.5,21.8h1.5M82.5,29.2h1.5M103.5,29.2h1.5M139.5,32.2h1.5M129,42.8h1.5M126,44.2h1.5M160.5,47.2h1.5M151.5,51.8h1.5M172.5,59.2h1.5M184.5,59.2h1.5M196.5,59.2h1.5M127.5,63.8h1.5M144,65.2h1.5M199.5,68.2h1.5M61.5,74.2h1.5M156,80.2h1.5M202.5,80.2h1.5M208.5,80.2h1.5M147,81.8h1.5M201,81.8h1.5M207,81.8h1.5M136.5,83.2h1.5M199.5,83.2h1.5M138,84.8h1.5M159,86.2h1.5M157.5,87.8h1.5M201,87.8h1.5M216,87.8h1.5M159,89.2h1.5M213,89.2h1.5M205.5,90.8h1.5M154.5,92.2h1.5M169.5,92.2h3M175.5,92.2h1.5M181.5,92.2h1.5M187.5,92.2h1.5M124.5,93.8h1.5M159,93.8h3M175.5,93.8h1.5M181.5,93.8h1.5M184.5,93.8h1.5M187.5,93.8h1.5M160.5,95.2h1.5M184.5,95.2h3M124.5,96.8h3M160.5,96.8h1.5M186,96.8h1.5M129,98.2h1.5M157.5,98.2h1.5M162,98.2h1.5M181.5,98.2h1.5M187.5,98.2h1.5M190.5,99.8h1.5M213,99.8h1.5M139.5,101.2h3M178.5,101.2h1.5M192,101.2h1.5M208.5,101.2h1.5M211.5,101.2h1.5M175.5,102.8h1.5M150,104.2h1.5M169.5,104.2h1.5M175.5,104.2h1.5M195,104.2h1.5M154.5,105.8h3M177,105.8h4.5M156,107.2h1.5M172.5,107.2h1.5M175.5,107.2h1.5M178.5,107.2h3M186,107.2h3M213,107.2h1.5M171,108.8h1.5M174,108.8h3M178.5,108.8h4.5M186,108.8h1.5M163.5,110.2h1.5M175.5,110.2h3M184.5,110.2h1.5M190.5,110.2h1.5M195,110.2h1.5M169.5,111.8h1.5M175.5,111.8h3M180,111.8h1.5M183,111.8h1.5M192,111.8h1.5M141,113.2h1.5M150,113.2h1.5M166.5,113.2h1.5M172.5,113.2h1.5M177,113.2h1.5M183,113.2h3M189,113.2h1.5M192,113.2h3M208.5,113.2h1.5M139.5,114.8h1.5M156,114.8h1.5M163.5,114.8h1.5M168,114.8h1.5M175.5,114.8h1.5M189,114.8h1.5M208.5,114.8h1.5M45,116.2h1.5M163.5,116.2h1.5M169.5,116.2h12M187.5,116.2h1.5M163.5,117.8h1.5M169.5,117.8h1.5M174,117.8h4.5M180,117.8h1.5M208.5,117.8h1.5M106.5,119.2h1.5M165,119.2h1.5M174,119.2h1.5M178.5,119.2h1.5M210,119.2h1.5M177,120.8h1.5M192,120.8h1.5M190.5,122.2h1.5M205.5,123.8h1.5M190.5,125.2h1.5M211.5,125.2h1.5M214.5,125.2h1.5M178.5,126.8h1.5M190.5,126.8h1.5M201,126.8h3M189,128.2h1.5M192,128.2h1.5M172.5,131.2h1.5M192,131.2h3M184.5,134.2h1.5M73.5,140.2h1.5M142.5,140.2h1.5M136.5,143.2h1.5M60,147.8h1.5M73.5,155.2h1.5M118.5,158.2h1.5" stroke="#ffee1a" stroke-width="1.6" fill="none"/><path d="M36,20.2h1.5M58.5,20.2h3M73.5,20.2h1.5M82.5,20.2h1.5M124.5,20.2h1.5M135,20.2h1.5M138,20.2h3M171,20.2h1.5M207,20.2h1.5M210,20.2h1.5M46.5,21.8h1.5M60,21.8h1.5M82.5,21.8h1.5M126,21.8h1.5M144,21.8h1.5M147,21.8h1.5M165,21.8h1.5M168,21.8h1.5M171,21.8h1.5M208.5,21.8h1.5M211.5,21.8h1.5M48,23.2h1.5M51,23.2h1.5M60,23.2h1.5M82.5,23.2h1.5M99,23.2h1.5M117,23.2h1.5M133.5,23.2h1.5M141,23.2h1.5M145.5,23.2h1.5M156,23.2h1.5M162,23.2h1.5M166.5,23.2h4.5M205.5,23.2h1.5M208.5,23.2h1.5M48,24.8h1.5M61.5,24.8h1.5M97.5,24.8h1.5M109.5,24.8h1.5M115.5,24.8h1.5M204,24.8h3M64.5,26.2h1.5M106.5,26.2h1.5M109.5,26.2h3M124.5,26.2h1.5M139.5,26.2h1.5M145.5,26.2h1.5M181.5,26.2h1.5M190.5,26.2h1.5M105,27.8h1.5M109.5,27.8h1.5M123,27.8h1.5M145.5,27.8h1.5M178.5,27.8h1.5M202.5,27.8h1.5M205.5,27.8h1.5M57,29.2h1.5M79.5,29.2h3M90,29.2h1.5M100.5,29.2h1.5M123,29.2h1.5M132,29.2h1.5M141,29.2h1.5M187.5,29.2h1.5M204,29.2h1.5M208.5,29.2h1.5M78,30.8h1.5M96,30.8h1.5M100.5,30.8h3M132,30.8h1.5M144,30.8h1.5M169.5,30.8h1.5M175.5,30.8h1.5M202.5,30.8h1.5M207,30.8h1.5M69,32.2h1.5M120,32.2h3M132,32.2h1.5M138,32.2h1.5M141,32.2h3M159,32.2h1.5M175.5,32.2h1.5M208.5,32.2h1.5M67.5,33.8h1.5M117,33.8h6M135,33.8h1.5M139.5,33.8h3M151.5,33.8h1.5M168,33.8h3M175.5,33.8h3M207,33.8h1.5M210,33.8h1.5M45,35.2h1.5M111,35.2h9M139.5,35.2h1.5M169.5,35.2h1.5M175.5,35.2h1.5M193.5,35.2h1.5M201,35.2h1.5M216,35.2h1.5M64.5,36.8h1.5M109.5,36.8h1.5M112.5,36.8h1.5M117,36.8h1.5M123,36.8h3M129,36.8h1.5M168,36.8h1.5M174,36.8h1.5M201,36.8h1.5M208.5,36.8h1.5M34.5,38.2h1.5M43.5,38.2h1.5M64.5,38.2h1.5M112.5,38.2h3M123,38.2h1.5M126,38.2h1.5M130.5,38.2h6M183,38.2h4.5M196.5,38.2h3M211.5,38.2h1.5M214.5,38.2h3M51,39.8h1.5M70.5,39.8h3M121.5,39.8h1.5M130.5,39.8h3M198,39.8h1.5M40.5,41.2h1.5M57,41.2h1.5M60,41.2h1.5M102,41.2h1.5M121.5,41.2h1.5M127.5,41.2h1.5M210,41.2h1.5M52.5,42.8h1.5M126,42.8h3M172.5,42.8h1.5M175.5,42.8h1.5M210,42.8h1.5M54,44.2h3M67.5,44.2h1.5M127.5,44.2h1.5M130.5,44.2h3M177,44.2h1.5M181.5,44.2h1.5M208.5,44.2h1.5M214.5,44.2h1.5M37.5,45.8h1.5M67.5,45.8h1.5M93,45.8h1.5M121.5,45.8h1.5M162,45.8h1.5M174,45.8h1.5M183,45.8h1.5M186,45.8h3M205.5,45.8h1.5M208.5,45.8h1.5M214.5,45.8h1.5M57,47.2h3M103.5,47.2h1.5M108,47.2h1.5M159,47.2h1.5M184.5,47.2h3M102,48.8h1.5M105,48.8h3M114,48.8h1.5M160.5,48.8h1.5M208.5,48.8h1.5M216,48.8h1.5M48,50.2h1.5M69,50.2h1.5M82.5,50.2h1.5M102,50.2h1.5M111,50.2h1.5M159,50.2h3M214.5,50.2h1.5M37.5,51.8h1.5M48,51.8h1.5M67.5,51.8h1.5M142.5,51.8h4.5M154.5,51.8h1.5M166.5,51.8h1.5M204,51.8h1.5M64.5,53.2h4.5M79.5,53.2h1.5M88.5,53.2h1.5M121.5,53.2h1.5M147,53.2h1.5M192,53.2h1.5M196.5,53.2h1.5M199.5,53.2h1.5M64.5,54.8h3M84,54.8h1.5M91.5,54.8h1.5M162,54.8h1.5M189,54.8h1.5M205.5,54.8h1.5M52.5,56.2h1.5M82.5,56.2h3M93,56.2h1.5M100.5,56.2h1.5M127.5,56.2h1.5M142.5,56.2h3M159,56.2h1.5M165,56.2h3M211.5,56.2h3M52.5,57.8h1.5M124.5,57.8h1.5M133.5,57.8h1.5M157.5,57.8h1.5M163.5,57.8h1.5M168,57.8h1.5M198,57.8h1.5M201,57.8h1.5M213,57.8h1.5M37.5,59.2h1.5M49.5,59.2h4.5M63,59.2h1.5M67.5,59.2h1.5M91.5,59.2h1.5M103.5,59.2h1.5M132,59.2h1.5M145.5,59.2h1.5M162,59.2h4.5M168,59.2h4.5M202.5,59.2h1.5M208.5,59.2h1.5M52.5,60.8h1.5M64.5,60.8h1.5M124.5,60.8h1.5M147,60.8h1.5M153,60.8h1.5M159,60.8h1.5M162,60.8h1.5M168,60.8h3M192,60.8h1.5M196.5,60.8h1.5M202.5,60.8h1.5M208.5,60.8h1.5M52.5,62.2h1.5M63,62.2h3M79.5,62.2h1.5M85.5,62.2h1.5M148.5,62.2h3M157.5,62.2h1.5M160.5,62.2h3M165,62.2h1.5M195,62.2h1.5M205.5,62.2h1.5M214.5,62.2h1.5M138,63.8h1.5M148.5,63.8h1.5M151.5,63.8h1.5M162,63.8h3M166.5,63.8h1.5M193.5,63.8h1.5M196.5,63.8h1.5M202.5,63.8h1.5M205.5,63.8h1.5M214.5,63.8h1.5M78,65.2h3M106.5,65.2h1.5M126,65.2h1.5M138,65.2h1.5M145.5,65.2h1.5M172.5,65.2h1.5M196.5,65.2h1.5M204,65.2h1.5M207,65.2h1.5M85.5,66.8h1.5M106.5,66.8h3M127.5,66.8h1.5M139.5,66.8h1.5M147,66.8h1.5M198,66.8h1.5M205.5,66.8h1.5M48,68.2h3M66,68.2h3M85.5,68.2h1.5M100.5,68.2h1.5M127.5,68.2h1.5M163.5,68.2h1.5M204,68.2h1.5M103.5,69.8h3M148.5,69.8h1.5M154.5,69.8h1.5M163.5,69.8h1.5M40.5,71.2h1.5M75,71.2h1.5M103.5,71.2h1.5M114,71.2h1.5M123,71.2h1.5M168,71.2h1.5M186,71.2h1.5M190.5,71.2h1.5M210,71.2h1.5M213,71.2h1.5M216,71.2h1.5M34.5,72.8h1.5M61.5,72.8h3M70.5,72.8h1.5M103.5,72.8h3M108,72.8h1.5M163.5,72.8h1.5M211.5,72.8h6M52.5,74.2h1.5M70.5,74.2h1.5M99,74.2h4.5M132,74.2h1.5M135,74.2h3M142.5,74.2h1.5M168,74.2h3M196.5,74.2h1.5M205.5,74.2h1.5M216,74.2h1.5M61.5,75.8h1.5M72,75.8h1.5M87,75.8h1.5M130.5,75.8h1.5M153,75.8h1.5M157.5,75.8h1.5M163.5,75.8h3M178.5,75.8h1.5M205.5,75.8h1.5M57,77.2h1.5M72,77.2h3M133.5,77.2h1.5M154.5,77.2h1.5M174,77.2h3M181.5,77.2h1.5M216,77.2h1.5M76.5,78.8h1.5M94.5,78.8h1.5M154.5,78.8h3M160.5,78.8h1.5M163.5,78.8h1.5M171,78.8h3M201,78.8h1.5M204,78.8h1.5M210,78.8h3M216,78.8h1.5M34.5,80.2h1.5M108,80.2h1.5M114,80.2h1.5M118.5,80.2h1.5M132,80.2h1.5M135,80.2h1.5M153,80.2h3M159,80.2h3M166.5,80.2h3M171,80.2h3M181.5,80.2h1.5M196.5,80.2h1.5M201,80.2h1.5M204,80.2h1.5M210,80.2h3M214.5,80.2h3M58.5,81.8h1.5M90,81.8h1.5M97.5,81.8h1.5M117,81.8h1.5M132,81.8h1.5M136.5,81.8h1.5M153,81.8h4.5M181.5,81.8h1.5M196.5,81.8h4.5M208.5,81.8h1.5M60,83.2h1.5M84,83.2h3M90,83.2h1.5M99,83.2h1.5M102,83.2h3M115.5,83.2h3M126,83.2h1.5M133.5,83.2h3M138,83.2h1.5M154.5,83.2h1.5M183,83.2h1.5M192,83.2h3M201,83.2h1.5M210,83.2h1.5M214.5,83.2h1.5M58.5,84.8h1.5M126,84.8h1.5M136.5,84.8h1.5M159,84.8h3M168,84.8h1.5M184.5,84.8h6M195,84.8h1.5M199.5,84.8h1.5M216,84.8h1.5M84,86.2h1.5M100.5,86.2h1.5M126,86.2h1.5M156,86.2h1.5M160.5,86.2h1.5M166.5,86.2h3M184.5,86.2h1.5M193.5,86.2h4.5M204,86.2h1.5M208.5,86.2h1.5M214.5,86.2h3M91.5,87.8h1.5M112.5,87.8h1.5M132,87.8h1.5M151.5,87.8h3M156,87.8h1.5M166.5,87.8h4.5M175.5,87.8h7.5M184.5,87.8h3M196.5,87.8h1.5M199.5,87.8h1.5M213,87.8h3M52.5,89.2h1.5M73.5,89.2h1.5M91.5,89.2h3M112.5,89.2h1.5M121.5,89.2h1.5M126,89.2h1.5M133.5,89.2h1.5M136.5,89.2h1.5M148.5,89.2h1.5M151.5,89.2h3M156,89.2h3M160.5,89.2h3M165,89.2h1.5M168,89.2h3M174,89.2h1.5M180,89.2h3M190.5,89.2h3M195,89.2h7.5M204,89.2h4.5M211.5,89.2h1.5M216,89.2h1.5M43.5,90.8h1.5M103.5,90.8h1.5M112.5,90.8h1.5M123,90.8h4.5M132,90.8h1.5M153,90.8h1.5M157.5,90.8h4.5M163.5,90.8h7.5M174,90.8h3M180,90.8h1.5M183,90.8h7.5M196.5,90.8h1.5M211.5,90.8h3M39,92.2h1.5M105,92.2h3M121.5,92.2h1.5M126,92.2h3M133.5,92.2h1.5M150,92.2h1.5M153,92.2h1.5M160.5,92.2h9M172.5,92.2h3M180,92.2h1.5M183,92.2h4.5M189,92.2h3M202.5,92.2h3M208.5,92.2h1.5M42,93.8h1.5M102,93.8h3M108,93.8h1.5M112.5,93.8h3M123,93.8h1.5M126,93.8h1.5M133.5,93.8h3M154.5,93.8h1.5M162,93.8h6M169.5,93.8h6M180,93.8h1.5M183,93.8h1.5M186,93.8h1.5M189,93.8h7.5M201,93.8h1.5M205.5,93.8h1.5M211.5,93.8h3M216,93.8h1.5M42,95.2h3M52.5,95.2h1.5M82.5,95.2h1.5M112.5,95.2h3M123,95.2h7.5M136.5,95.2h1.5M145.5,95.2h1.5M148.5,95.2h1.5M159,95.2h1.5M162,95.2h1.5M165,95.2h1.5M168,95.2h1.5M177,95.2h1.5M180,95.2h1.5M183,95.2h1.5M187.5,95.2h4.5M193.5,95.2h1.5M199.5,95.2h1.5M204,95.2h1.5M216,95.2h1.5M103.5,96.8h1.5M109.5,96.8h1.5M112.5,96.8h3M123,96.8h1.5M127.5,96.8h4.5M136.5,96.8h1.5M145.5,96.8h1.5M156,96.8h3M165,96.8h3M169.5,96.8h1.5M178.5,96.8h6M187.5,96.8h1.5M190.5,96.8h1.5M202.5,96.8h1.5M207,96.8h1.5M210,96.8h1.5M216,96.8h1.5M39,98.2h3M54,98.2h1.5M84,98.2h1.5M94.5,98.2h1.5M106.5,98.2h1.5M115.5,98.2h1.5M123,98.2h1.5M126,98.2h1.5M130.5,98.2h1.5M144,98.2h9M156,98.2h1.5M159,98.2h1.5M163.5,98.2h3M175.5,98.2h6M184.5,98.2h3M189,98.2h3M196.5,98.2h1.5M121.5,99.8h1.5M124.5,99.8h1.5M127.5,99.8h1.5M139.5,99.8h3M144,99.8h1.5M150,99.8h1.5M154.5,99.8h4.5M165,99.8h1.5M174,99.8h9M184.5,99.8h6M192,99.8h1.5M195,99.8h3M207,99.8h1.5M210,99.8h1.5M214.5,99.8h1.5M70.5,101.2h1.5M100.5,101.2h1.5M117,101.2h1.5M121.5,101.2h1.5M126,101.2h1.5M138,101.2h1.5M144,101.2h1.5M150,101.2h1.5M154.5,101.2h1.5M163.5,101.2h1.5M174,101.2h4.5M180,101.2h3M187.5,101.2h4.5M193.5,101.2h6M202.5,101.2h1.5M207,101.2h1.5M210,101.2h1.5M213,101.2h4.5M57,102.8h1.5M117,102.8h1.5M123,102.8h1.5M127.5,102.8h1.5M135,102.8h1.5M139.5,102.8h1.5M142.5,102.8h9M154.5,102.8h6M162,102.8h1.5M168,102.8h1.5M171,102.8h1.5M177,102.8h1.5M183,102.8h4.5M190.5,102.8h7.5M202.5,102.8h3M207,102.8h10.5M48,104.2h1.5M55.5,104.2h1.5M58.5,104.2h1.5M84,104.2h1.5M118.5,104.2h1.5M123,104.2h1.5M127.5,104.2h1.5M132,104.2h4.5M139.5,104.2h3M145.5,104.2h3M154.5,104.2h6M162,104.2h3M174,104.2h1.5M177,104.2h1.5M180,104.2h6M190.5,104.2h1.5M198,104.2h1.5M201,104.2h4.5M207,104.2h4.5M214.5,104.2h3M58.5,105.8h1.5M61.5,105.8h1.5M73.5,105.8h1.5M120,105.8h1.5M133.5,105.8h1.5M141,105.8h1.5M144,105.8h3M153,105.8h1.5M157.5,105.8h1.5M162,105.8h1.5M169.5,105.8h1.5M175.5,105.8h1.5M181.5,105.8h7.5M190.5,105.8h3M195,105.8h1.5M204,105.8h1.5M210,105.8h4.5M216,105.8h1.5M58.5,107.2h1.5M85.5,107.2h1.5M88.5,107.2h1.5M115.5,107.2h1.5M138,107.2h3M154.5,107.2h1.5M159,107.2h3M168,107.2h1.5M174,107.2h1.5M177,107.2h1.5M181.5,107.2h4.5M189,107.2h10.5M201,107.2h1.5M210,107.2h3M214.5,107.2h3M58.5,108.8h1.5M66,108.8h1.5M87,108.8h3M117,108.8h1.5M124.5,108.8h1.5M138,108.8h4.5M154.5,108.8h1.5M157.5,108.8h3M162,108.8h3M168,108.8h3M172.5,108.8h1.5M177,108.8h1.5M183,108.8h3M187.5,108.8h6M196.5,108.8h4.5M208.5,108.8h3M214.5,108.8h3M66,110.2h3M118.5,110.2h1.5M138,110.2h1.5M141,110.2h3M156,110.2h4.5M165,110.2h10.5M180,110.2h4.5M186,110.2h1.5M196.5,110.2h6M207,110.2h4.5M58.5,111.8h1.5M90,111.8h1.5M138,111.8h1.5M141,111.8h1.5M154.5,111.8h1.5M159,111.8h4.5M166.5,111.8h3M171,111.8h4.5M181.5,111.8h1.5M184.5,111.8h4.5M190.5,111.8h1.5M193.5,111.8h4.5M201,111.8h3M207,111.8h4.5M57,113.2h1.5M130.5,113.2h1.5M138,113.2h3M142.5,113.2h1.5M147,113.2h1.5M154.5,113.2h3M159,113.2h1.5M163.5,113.2h1.5M168,113.2h4.5M174,113.2h3M178.5,113.2h4.5M187.5,113.2h1.5M190.5,113.2h1.5M199.5,113.2h1.5M202.5,113.2h3M207,113.2h1.5M216,113.2h1.5M46.5,114.8h1.5M79.5,114.8h1.5M127.5,114.8h1.5M151.5,114.8h4.5M157.5,114.8h1.5M162,114.8h1.5M165,114.8h1.5M169.5,114.8h4.5M177,114.8h9M190.5,114.8h6M202.5,114.8h3M213,114.8h1.5M216,114.8h1.5M46.5,116.2h4.5M106.5,116.2h3M115.5,116.2h1.5M127.5,116.2h1.5M133.5,116.2h1.5M147,116.2h1.5M153,116.2h6M165,116.2h4.5M183,116.2h1.5M189,116.2h1.5M192,116.2h3M207,116.2h4.5M214.5,116.2h3M46.5,117.8h3M106.5,117.8h3M135,117.8h1.5M139.5,117.8h1.5M148.5,117.8h3M156,117.8h1.5M165,117.8h3M171,117.8h3M178.5,117.8h1.5M183,117.8h1.5M189,117.8h1.5M193.5,117.8h1.5M196.5,117.8h1.5M204,117.8h1.5M207,117.8h1.5M40.5,119.2h3M108,119.2h1.5M136.5,119.2h1.5M139.5,119.2h1.5M142.5,119.2h1.5M147,119.2h1.5M168,119.2h6M175.5,119.2h3M180,119.2h3M184.5,119.2h3M190.5,119.2h1.5M196.5,119.2h4.5M202.5,119.2h7.5M40.5,120.8h1.5M106.5,120.8h4.5M135,120.8h1.5M139.5,120.8h3M145.5,120.8h1.5M148.5,120.8h1.5M154.5,120.8h1.5M162,120.8h1.5M165,120.8h1.5M171,120.8h6M178.5,120.8h1.5M181.5,120.8h1.5M184.5,120.8h1.5M189,120.8h1.5M193.5,120.8h3M199.5,120.8h1.5M208.5,120.8h4.5M100.5,122.2h1.5M108,122.2h1.5M133.5,122.2h1.5M159,122.2h1.5M163.5,122.2h3M168,122.2h1.5M171,122.2h1.5M178.5,122.2h3M183,122.2h3M192,122.2h1.5M198,122.2h1.5M204,122.2h1.5M208.5,122.2h4.5M214.5,122.2h1.5M49.5,123.8h1.5M88.5,123.8h1.5M96,123.8h1.5M145.5,123.8h1.5M153,123.8h4.5M159,123.8h3M166.5,123.8h1.5M172.5,123.8h1.5M175.5,123.8h1.5M180,123.8h1.5M184.5,123.8h1.5M187.5,123.8h3M201,123.8h3M210,123.8h7.5M153,125.2h1.5M168,125.2h4.5M175.5,125.2h7.5M187.5,125.2h3M192,125.2h1.5M198,125.2h1.5M202.5,125.2h3M210,125.2h1.5M213,125.2h1.5M151.5,126.8h1.5M156,126.8h1.5M166.5,126.8h1.5M177,126.8h1.5M181.5,126.8h1.5M186,126.8h4.5M192,126.8h1.5M196.5,126.8h1.5M204,126.8h1.5M207,126.8h1.5M211.5,126.8h3M85.5,128.2h1.5M133.5,128.2h1.5M138,128.2h1.5M166.5,128.2h1.5M174,128.2h3M178.5,128.2h3M183,128.2h1.5M196.5,128.2h1.5M201,128.2h3M205.5,128.2h1.5M211.5,128.2h1.5M34.5,129.8h1.5M96,129.8h1.5M165,129.8h1.5M171,129.8h1.5M175.5,129.8h6M183,129.8h1.5M187.5,129.8h6M198,129.8h1.5M204,129.8h3M216,129.8h1.5M70.5,131.2h1.5M156,131.2h1.5M163.5,131.2h1.5M175.5,131.2h1.5M181.5,131.2h1.5M189,131.2h1.5M199.5,131.2h3M213,131.2h1.5M153,132.8h1.5M172.5,132.8h3M177,132.8h1.5M187.5,132.8h6M207,132.8h1.5M211.5,132.8h1.5M45,134.2h1.5M61.5,134.2h3M84,134.2h1.5M93,134.2h3M136.5,134.2h3M165,134.2h4.5M172.5,134.2h3M186,134.2h1.5M189,134.2h4.5M196.5,134.2h7.5M208.5,134.2h3M213,134.2h3M34.5,135.8h1.5M61.5,135.8h1.5M136.5,135.8h1.5M151.5,135.8h1.5M171,135.8h3M178.5,135.8h1.5M192,135.8h3M199.5,135.8h3M207,135.8h3M97.5,137.2h1.5M151.5,137.2h1.5M174,137.2h1.5M180,137.2h3M190.5,137.2h3M201,137.2h4.5M208.5,137.2h1.5M45,138.8h1.5M127.5,138.8h1.5M133.5,138.8h1.5M142.5,138.8h1.5M177,138.8h4.5M184.5,138.8h1.5M192,138.8h3M205.5,138.8h3M210,138.8h1.5M45,140.2h1.5M72,140.2h1.5M141,140.2h1.5M144,140.2h3M150,140.2h1.5M153,140.2h3M178.5,140.2h3M190.5,140.2h1.5M193.5,140.2h1.5M207,140.2h6M34.5,141.8h1.5M73.5,141.8h1.5M115.5,141.8h1.5M126,141.8h1.5M130.5,141.8h1.5M136.5,141.8h1.5M142.5,141.8h4.5M148.5,141.8h3M181.5,141.8h4.5M189,141.8h1.5M42,143.2h1.5M97.5,143.2h1.5M114,143.2h1.5M118.5,143.2h1.5M127.5,143.2h1.5M138,143.2h1.5M150,143.2h1.5M163.5,143.2h1.5M181.5,143.2h3M186,143.2h1.5M205.5,143.2h1.5M37.5,144.8h1.5M72,144.8h1.5M82.5,144.8h1.5M105,144.8h1.5M109.5,144.8h1.5M141,144.8h3M148.5,144.8h1.5M187.5,144.8h3M201,144.8h1.5M205.5,144.8h1.5M34.5,146.2h1.5M43.5,146.2h1.5M51,146.2h1.5M55.5,146.2h1.5M63,146.2h1.5M78,146.2h1.5M111,146.2h1.5M148.5,146.2h1.5M171,146.2h1.5M189,146.2h1.5M202.5,146.2h1.5M210,146.2h4.5M67.5,147.8h1.5M73.5,147.8h1.5M78,147.8h3M112.5,147.8h1.5M115.5,147.8h1.5M148.5,147.8h1.5M168,147.8h1.5M208.5,147.8h1.5M211.5,147.8h3M34.5,149.2h1.5M43.5,149.2h1.5M51,149.2h1.5M57,149.2h3M61.5,149.2h3M67.5,149.2h1.5M106.5,149.2h1.5M112.5,149.2h3M144,149.2h1.5M148.5,149.2h1.5M169.5,149.2h1.5M198,149.2h1.5M211.5,149.2h1.5M61.5,150.8h1.5M73.5,150.8h1.5M81,150.8h1.5M148.5,150.8h1.5M156,150.8h1.5M172.5,150.8h1.5M201,150.8h1.5M216,150.8h1.5M75,152.2h3M93,152.2h1.5M97.5,152.2h1.5M105,152.2h1.5M181.5,152.2h1.5M184.5,152.2h1.5M190.5,152.2h1.5M202.5,152.2h1.5M76.5,153.8h1.5M96,153.8h4.5M105,153.8h1.5M150,153.8h1.5M153,153.8h1.5M178.5,153.8h1.5M198,153.8h4.5M61.5,155.2h1.5M106.5,155.2h1.5M121.5,155.2h1.5M186,155.2h1.5M192,155.2h1.5M199.5,155.2h1.5M120,156.8h1.5M144,156.8h1.5M178.5,156.8h1.5M97.5,158.2h1.5M121.5,158.2h1.5M199.5,158.2h1.5M37.5,159.8h1.5M121.5,159.8h3M172.5,159.8h1.5M175.5,159.8h1.5M181.5,159.8h1.5M186,159.8h1.5" stroke="#bff01a" stroke-width="1.6" fill="none"/><path d="M46.5,20.2h1.5M76.5,20.2h1.5M81,20.2h1.5M84,20.2h1.5M123,20.2h1.5M126,20.2h1.5M129,20.2h1.5M136.5,20.2h1.5M141,20.2h1.5M144,20.2h3M151.5,20.2h1.5M157.5,20.2h1.5M166.5,20.2h3M178.5,20.2h1.5M208.5,20.2h1.5M58.5,21.8h1.5M93,21.8h1.5M103.5,21.8h1.5M139.5,21.8h3M169.5,21.8h1.5M178.5,21.8h1.5M189,21.8h1.5M193.5,21.8h1.5M205.5,21.8h3M210,21.8h1.5M58.5,23.2h1.5M61.5,23.2h1.5M70.5,23.2h1.5M81,23.2h1.5M126,23.2h1.5M142.5,23.2h1.5M147,23.2h1.5M193.5,23.2h1.5M207,23.2h1.5M211.5,23.2h1.5M49.5,24.8h1.5M57,24.8h1.5M64.5,24.8h1.5M82.5,24.8h1.5M105,24.8h1.5M108,24.8h1.5M124.5,24.8h1.5M138,24.8h1.5M144,24.8h1.5M160.5,24.8h1.5M169.5,24.8h3M178.5,24.8h1.5M181.5,24.8h1.5M49.5,26.2h1.5M61.5,26.2h3M91.5,26.2h1.5M129,26.2h3M169.5,26.2h1.5M172.5,26.2h1.5M205.5,26.2h1.5M52.5,27.8h4.5M60,27.8h1.5M79.5,27.8h1.5M106.5,27.8h1.5M111,27.8h3M120,27.8h1.5M136.5,27.8h3M180,27.8h1.5M54,29.2h1.5M66,29.2h3M78,29.2h1.5M94.5,29.2h1.5M99,29.2h1.5M124.5,29.2h1.5M133.5,29.2h3M139.5,29.2h1.5M174,29.2h1.5M214.5,29.2h1.5M61.5,30.8h1.5M67.5,30.8h1.5M79.5,30.8h3M87,30.8h1.5M90,30.8h1.5M103.5,30.8h1.5M123,30.8h3M135,30.8h1.5M142.5,30.8h1.5M177,30.8h1.5M187.5,30.8h1.5M37.5,32.2h3M66,32.2h1.5M70.5,32.2h1.5M102,32.2h1.5M105,32.2h1.5M109.5,32.2h1.5M114,32.2h1.5M117,32.2h3M123,32.2h3M136.5,32.2h1.5M165,32.2h1.5M168,32.2h3M187.5,32.2h1.5M207,32.2h1.5M210,32.2h1.5M73.5,33.8h1.5M94.5,33.8h1.5M105,33.8h1.5M111,33.8h1.5M124.5,33.8h1.5M216,33.8h1.5M51,35.2h1.5M67.5,35.2h1.5M106.5,35.2h1.5M124.5,35.2h1.5M136.5,35.2h3M141,35.2h1.5M157.5,35.2h1.5M160.5,35.2h1.5M166.5,35.2h1.5M174,35.2h1.5M177,35.2h1.5M183,35.2h1.5M186,35.2h1.5M214.5,35.2h1.5M36,36.8h1.5M60,36.8h1.5M66,36.8h1.5M111,36.8h1.5M114,36.8h3M120,36.8h1.5M132,36.8h1.5M135,36.8h1.5M153,36.8h3M162,36.8h1.5M178.5,36.8h3M193.5,36.8h1.5M199.5,36.8h1.5M205.5,36.8h1.5M210,36.8h1.5M214.5,36.8h3M45,38.2h1.5M51,38.2h1.5M54,38.2h1.5M66,38.2h1.5M90,38.2h1.5M115.5,38.2h1.5M120,38.2h3M172.5,38.2h1.5M178.5,38.2h1.5M187.5,38.2h3M193.5,38.2h1.5M207,38.2h3M54,39.8h1.5M61.5,39.8h1.5M69,39.8h1.5M88.5,39.8h1.5M109.5,39.8h1.5M115.5,39.8h1.5M120,39.8h1.5M138,39.8h1.5M162,39.8h1.5M178.5,39.8h1.5M183,39.8h1.5M186,39.8h1.5M195,39.8h1.5M208.5,39.8h3M43.5,41.2h1.5M58.5,41.2h1.5M63,41.2h1.5M72,41.2h1.5M78,41.2h1.5M90,41.2h1.5M129,41.2h3M139.5,41.2h1.5M213,41.2h1.5M36,42.8h1.5M51,42.8h1.5M58.5,42.8h1.5M81,42.8h1.5M138,42.8h1.5M163.5,42.8h1.5M166.5,42.8h1.5M193.5,42.8h1.5M52.5,44.2h1.5M57,44.2h1.5M87,44.2h1.5M121.5,44.2h1.5M129,44.2h1.5M147,44.2h1.5M162,44.2h1.5M165,44.2h1.5M186,44.2h1.5M202.5,44.2h1.5M207,44.2h1.5M210,44.2h1.5M213,44.2h1.5M52.5,45.8h1.5M58.5,45.8h3M73.5,45.8h1.5M85.5,45.8h1.5M102,45.8h1.5M120,45.8h1.5M129,45.8h1.5M165,45.8h1.5M175.5,45.8h1.5M178.5,45.8h1.5M207,45.8h1.5M55.5,47.2h1.5M73.5,47.2h1.5M88.5,47.2h1.5M94.5,47.2h1.5M100.5,47.2h1.5M153,47.2h1.5M162,47.2h1.5M177,47.2h1.5M48,48.8h4.5M75,48.8h1.5M87,48.8h1.5M96,48.8h1.5M100.5,48.8h1.5M162,48.8h1.5M169.5,48.8h1.5M186,48.8h3M201,48.8h1.5M213,48.8h3M45,50.2h1.5M66,50.2h3M72,50.2h1.5M81,50.2h1.5M103.5,50.2h3M114,50.2h3M127.5,50.2h3M150,50.2h1.5M162,50.2h1.5M177,50.2h1.5M187.5,50.2h1.5M46.5,51.8h1.5M52.5,51.8h1.5M69,51.8h4.5M81,51.8h1.5M103.5,51.8h3M109.5,51.8h1.5M150,51.8h1.5M165,51.8h1.5M181.5,51.8h1.5M190.5,51.8h3M45,53.2h1.5M81,53.2h1.5M97.5,53.2h3M127.5,53.2h1.5M142.5,53.2h3M159,53.2h1.5M163.5,53.2h1.5M166.5,53.2h1.5M169.5,53.2h3M195,53.2h1.5M37.5,54.8h1.5M42,54.8h1.5M51,54.8h1.5M81,54.8h1.5M112.5,54.8h1.5M126,54.8h1.5M133.5,54.8h1.5M139.5,54.8h1.5M150,54.8h1.5M175.5,54.8h1.5M181.5,54.8h1.5M195,54.8h1.5M58.5,56.2h1.5M69,56.2h3M88.5,56.2h1.5M118.5,56.2h1.5M123,56.2h1.5M126,56.2h1.5M148.5,56.2h1.5M160.5,56.2h1.5M187.5,56.2h1.5M205.5,56.2h1.5M51,57.8h1.5M60,57.8h1.5M66,57.8h3M79.5,57.8h1.5M84,57.8h1.5M120,57.8h1.5M151.5,57.8h1.5M166.5,57.8h1.5M171,57.8h4.5M196.5,57.8h1.5M204,57.8h1.5M208.5,57.8h1.5M75,59.2h1.5M81,59.2h1.5M117,59.2h1.5M135,59.2h1.5M147,59.2h1.5M166.5,59.2h1.5M174,59.2h3M186,59.2h1.5M207,59.2h1.5M49.5,60.8h3M81,60.8h1.5M84,60.8h1.5M102,60.8h1.5M117,60.8h1.5M139.5,60.8h1.5M144,60.8h3M148.5,60.8h1.5M154.5,60.8h1.5M166.5,60.8h1.5M171,60.8h3M198,60.8h1.5M201,60.8h1.5M204,60.8h1.5M36,62.2h3M51,62.2h1.5M55.5,62.2h1.5M66,62.2h1.5M72,62.2h1.5M102,62.2h1.5M129,62.2h1.5M144,62.2h1.5M147,62.2h1.5M193.5,62.2h1.5M201,62.2h1.5M52.5,63.8h3M63,63.8h1.5M66,63.8h1.5M79.5,63.8h3M103.5,63.8h1.5M147,63.8h1.5M150,63.8h1.5M195,63.8h1.5M199.5,63.8h1.5M204,63.8h1.5M207,63.8h1.5M213,63.8h1.5M216,63.8h1.5M46.5,65.2h1.5M55.5,65.2h1.5M76.5,65.2h1.5M88.5,65.2h1.5M108,65.2h1.5M112.5,65.2h1.5M124.5,65.2h1.5M141,65.2h3M150,65.2h1.5M157.5,65.2h1.5M165,65.2h1.5M186,65.2h1.5M189,65.2h1.5M195,65.2h1.5M214.5,65.2h1.5M63,66.8h1.5M88.5,66.8h1.5M124.5,66.8h3M142.5,66.8h3M163.5,66.8h1.5M177,66.8h1.5M202.5,66.8h1.5M214.5,66.8h1.5M64.5,68.2h1.5M99,68.2h1.5M144,68.2h1.5M148.5,68.2h3M159,68.2h4.5M169.5,68.2h1.5M196.5,68.2h3M201,68.2h3M205.5,68.2h1.5M34.5,69.8h1.5M52.5,69.8h1.5M100.5,69.8h3M106.5,69.8h3M112.5,69.8h1.5M124.5,69.8h1.5M127.5,69.8h1.5M132,69.8h1.5M162,69.8h1.5M205.5,69.8h3M210,69.8h1.5M213,69.8h3M34.5,71.2h1.5M45,71.2h1.5M81,71.2h1.5M85.5,71.2h1.5M115.5,71.2h3M130.5,71.2h1.5M133.5,71.2h1.5M141,71.2h1.5M175.5,71.2h3M184.5,71.2h1.5M192,71.2h1.5M195,71.2h1.5M199.5,71.2h1.5M214.5,71.2h1.5M75,72.8h1.5M79.5,72.8h1.5M114,72.8h3M118.5,72.8h1.5M130.5,72.8h1.5M165,72.8h1.5M169.5,72.8h3M207,72.8h4.5M55.5,74.2h1.5M60,74.2h1.5M96,74.2h3M105,74.2h1.5M121.5,74.2h1.5M133.5,74.2h1.5M157.5,74.2h1.5M171,74.2h3M178.5,74.2h3M198,74.2h1.5M208.5,74.2h1.5M214.5,74.2h1.5M54,75.8h1.5M70.5,75.8h1.5M99,75.8h1.5M102,75.8h1.5M106.5,75.8h1.5M133.5,75.8h1.5M136.5,75.8h1.5M145.5,75.8h1.5M154.5,75.8h1.5M160.5,75.8h1.5M172.5,75.8h3M193.5,75.8h1.5M211.5,75.8h1.5M214.5,75.8h1.5M88.5,77.2h1.5M105,77.2h1.5M148.5,77.2h1.5M151.5,77.2h1.5M160.5,77.2h1.5M171,77.2h1.5M177,77.2h4.5M193.5,77.2h1.5M196.5,77.2h1.5M205.5,77.2h1.5M37.5,78.8h1.5M55.5,78.8h3M75,78.8h1.5M78,78.8h1.5M87,78.8h1.5M105,78.8h1.5M115.5,78.8h3M120,78.8h1.5M133.5,78.8h1.5M147,78.8h1.5M150,78.8h1.5M157.5,78.8h1.5M180,78.8h1.5M195,78.8h4.5M202.5,78.8h1.5M205.5,78.8h1.5M208.5,78.8h1.5M213,78.8h1.5M54,80.2h1.5M58.5,80.2h1.5M88.5,80.2h1.5M102,80.2h1.5M109.5,80.2h1.5M115.5,80.2h3M120,80.2h1.5M133.5,80.2h1.5M148.5,80.2h1.5M157.5,80.2h1.5M178.5,80.2h1.5M199.5,80.2h1.5M207,80.2h1.5M34.5,81.8h1.5M40.5,81.8h1.5M51,81.8h1.5M55.5,81.8h1.5M60,81.8h1.5M82.5,81.8h1.5M99,81.8h3M103.5,81.8h1.5M115.5,81.8h1.5M118.5,81.8h1.5M138,81.8h1.5M145.5,81.8h1.5M157.5,81.8h3M165,81.8h1.5M168,81.8h1.5M180,81.8h1.5M184.5,81.8h1.5M187.5,81.8h1.5M190.5,81.8h1.5M193.5,81.8h3M210,81.8h1.5M49.5,83.2h1.5M52.5,83.2h1.5M55.5,83.2h3M63,83.2h1.5M87,83.2h3M97.5,83.2h1.5M141,83.2h1.5M156,83.2h1.5M162,83.2h1.5M166.5,83.2h1.5M175.5,83.2h3M184.5,83.2h1.5M189,83.2h1.5M204,83.2h1.5M207,83.2h1.5M51,84.8h1.5M81,84.8h1.5M91.5,84.8h1.5M99,84.8h1.5M112.5,84.8h1.5M115.5,84.8h1.5M124.5,84.8h1.5M127.5,84.8h3M139.5,84.8h3M144,84.8h1.5M153,84.8h1.5M162,84.8h4.5M169.5,84.8h3M181.5,84.8h3M190.5,84.8h3M201,84.8h1.5M55.5,86.2h1.5M73.5,86.2h1.5M93,86.2h1.5M112.5,86.2h1.5M123,86.2h1.5M127.5,86.2h1.5M144,86.2h4.5M153,86.2h3M165,86.2h1.5M169.5,86.2h1.5M175.5,86.2h4.5M186,86.2h3M190.5,86.2h3M198,86.2h1.5M211.5,86.2h3M67.5,87.8h1.5M70.5,87.8h1.5M93,87.8h1.5M123,87.8h1.5M126,87.8h1.5M148.5,87.8h1.5M159,87.8h3M172.5,87.8h3M183,87.8h1.5M193.5,87.8h1.5M204,87.8h1.5M207,87.8h1.5M43.5,89.2h1.5M46.5,89.2h1.5M58.5,89.2h1.5M64.5,89.2h1.5M87,89.2h1.5M90,89.2h1.5M115.5,89.2h3M124.5,89.2h1.5M129,89.2h3M138,89.2h1.5M141,89.2h1.5M154.5,89.2h1.5M171,89.2h3M175.5,89.2h1.5M178.5,89.2h1.5M193.5,89.2h1.5M40.5,90.8h1.5M72,90.8h1.5M100.5,90.8h1.5M109.5,90.8h1.5M121.5,90.8h1.5M127.5,90.8h3M151.5,90.8h1.5M156,90.8h1.5M162,90.8h1.5M172.5,90.8h1.5M181.5,90.8h1.5M192,90.8h1.5M201,90.8h4.5M208.5,90.8h3M214.5,90.8h3M37.5,92.2h1.5M40.5,92.2h1.5M67.5,92.2h1.5M108,92.2h1.5M123,92.2h1.5M135,92.2h1.5M142.5,92.2h1.5M151.5,92.2h1.5M156,92.2h3M192,92.2h1.5M205.5,92.2h3M210,92.2h1.5M213,92.2h1.5M82.5,93.8h1.5M93,93.8h1.5M105,93.8h3M109.5,93.8h1.5M120,93.8h3M136.5,93.8h1.5M145.5,93.8h1.5M150,93.8h1.5M153,93.8h1.5M157.5,93.8h1.5M168,93.8h1.5M198,93.8h3M207,93.8h1.5M210,93.8h1.5M40.5,95.2h1.5M76.5,95.2h1.5M99,95.2h1.5M102,95.2h3M115.5,95.2h1.5M120,95.2h1.5M138,95.2h1.5M142.5,95.2h1.5M147,95.2h1.5M163.5,95.2h1.5M166.5,95.2h1.5M171,95.2h3M175.5,95.2h1.5M192,95.2h1.5M195,95.2h3M202.5,95.2h1.5M207,95.2h4.5M40.5,96.8h1.5M84,96.8h1.5M105,96.8h1.5M139.5,96.8h3M144,96.8h1.5M150,96.8h4.5M159,96.8h1.5M162,96.8h3M174,96.8h1.5M177,96.8h1.5M189,96.8h1.5M195,96.8h1.5M37.5,98.2h1.5M90,98.2h1.5M103.5,98.2h1.5M109.5,98.2h4.5M121.5,98.2h1.5M124.5,98.2h1.5M127.5,98.2h1.5M132,98.2h1.5M154.5,98.2h1.5M160.5,98.2h1.5M193.5,98.2h3M205.5,98.2h1.5M213,98.2h1.5M36,99.8h3M69,99.8h1.5M72,99.8h1.5M79.5,99.8h1.5M106.5,99.8h1.5M111,99.8h1.5M118.5,99.8h1.5M126,99.8h1.5M129,99.8h3M136.5,99.8h1.5M145.5,99.8h3M151.5,99.8h1.5M163.5,99.8h1.5M166.5,99.8h6M183,99.8h1.5M201,99.8h3M72,101.2h1.5M76.5,101.2h1.5M85.5,101.2h1.5M102,101.2h1.5M112.5,101.2h1.5M118.5,101.2h3M123,101.2h1.5M148.5,101.2h1.5M159,101.2h1.5M168,101.2h3M184.5,101.2h1.5M201,101.2h1.5M70.5,102.8h1.5M79.5,102.8h1.5M114,102.8h1.5M126,102.8h1.5M129,102.8h1.5M141,102.8h1.5M153,102.8h1.5M166.5,102.8h1.5M169.5,102.8h1.5M174,102.8h1.5M178.5,102.8h3M198,102.8h4.5M45,104.2h1.5M54,104.2h1.5M72,104.2h1.5M88.5,104.2h1.5M121.5,104.2h1.5M138,104.2h1.5M144,104.2h1.5M151.5,104.2h3M160.5,104.2h1.5M168,104.2h1.5M172.5,104.2h1.5M186,104.2h1.5M192,104.2h1.5M205.5,104.2h1.5M211.5,104.2h1.5M43.5,105.8h1.5M57,105.8h1.5M63,105.8h1.5M123,105.8h1.5M126,105.8h1.5M129,105.8h1.5M135,105.8h6M151.5,105.8h1.5M159,105.8h3M163.5,105.8h1.5M171,105.8h1.5M189,105.8h1.5M198,105.8h4.5M51,107.2h1.5M61.5,107.2h1.5M87,107.2h1.5M117,107.2h1.5M121.5,107.2h1.5M129,107.2h4.5M144,107.2h1.5M153,107.2h1.5M157.5,107.2h1.5M162,107.2h3M166.5,107.2h1.5M202.5,107.2h1.5M208.5,107.2h1.5M37.5,108.8h3M57,108.8h1.5M67.5,108.8h1.5M129,108.8h1.5M148.5,108.8h1.5M165,108.8h1.5M193.5,108.8h3M58.5,110.2h1.5M63,110.2h3M88.5,110.2h1.5M97.5,110.2h3M112.5,110.2h1.5M139.5,110.2h1.5M144,110.2h1.5M151.5,110.2h1.5M154.5,110.2h1.5M192,110.2h1.5M66,111.8h1.5M70.5,111.8h1.5M105,111.8h1.5M142.5,111.8h1.5M150,111.8h4.5M156,111.8h1.5M163.5,111.8h3M178.5,111.8h1.5M205.5,111.8h1.5M54,113.2h3M82.5,113.2h1.5M88.5,113.2h1.5M102,113.2h3M114,113.2h1.5M120,113.2h1.5M144,113.2h1.5M157.5,113.2h1.5M160.5,113.2h3M165,113.2h1.5M186,113.2h1.5M196.5,113.2h1.5M201,113.2h1.5M211.5,113.2h1.5M37.5,114.8h1.5M51,114.8h1.5M129,114.8h1.5M138,114.8h1.5M150,114.8h1.5M166.5,114.8h1.5M174,114.8h1.5M186,114.8h1.5M196.5,114.8h1.5M199.5,114.8h1.5M207,114.8h1.5M88.5,116.2h1.5M94.5,116.2h3M100.5,116.2h1.5M109.5,116.2h3M114,116.2h1.5M130.5,116.2h1.5M138,116.2h3M144,116.2h1.5M162,116.2h1.5M190.5,116.2h1.5M195,116.2h1.5M199.5,116.2h1.5M205.5,116.2h1.5M45,117.8h1.5M90,117.8h1.5M109.5,117.8h1.5M114,117.8h1.5M127.5,117.8h1.5M142.5,117.8h1.5M145.5,117.8h3M168,117.8h1.5M181.5,117.8h1.5M184.5,117.8h3M214.5,117.8h1.5M79.5,119.2h3M85.5,119.2h1.5M105,119.2h1.5M132,119.2h1.5M138,119.2h1.5M150,119.2h1.5M154.5,119.2h3M163.5,119.2h1.5M183,119.2h1.5M195,119.2h1.5M211.5,119.2h1.5M216,119.2h1.5M36,120.8h3M45,120.8h1.5M49.5,120.8h1.5M117,120.8h1.5M132,120.8h3M153,120.8h1.5M166.5,120.8h1.5M169.5,120.8h1.5M190.5,120.8h1.5M196.5,120.8h3M204,120.8h1.5M207,120.8h1.5M213,120.8h1.5M34.5,122.2h1.5M37.5,122.2h1.5M40.5,122.2h1.5M70.5,122.2h1.5M82.5,122.2h1.5M90,122.2h1.5M121.5,122.2h1.5M138,122.2h3M145.5,122.2h1.5M148.5,122.2h1.5M153,122.2h3M160.5,122.2h3M172.5,122.2h1.5M186,122.2h1.5M189,122.2h1.5M201,122.2h1.5M216,122.2h1.5M36,123.8h1.5M99,123.8h1.5M115.5,123.8h1.5M147,123.8h1.5M165,123.8h1.5M168,123.8h3M174,123.8h1.5M177,123.8h3M181.5,123.8h1.5M190.5,123.8h3M196.5,123.8h1.5M204,123.8h1.5M90,125.2h3M130.5,125.2h1.5M141,125.2h1.5M156,125.2h3M165,125.2h3M172.5,125.2h1.5M184.5,125.2h1.5M193.5,125.2h1.5M216,125.2h1.5M34.5,126.8h1.5M49.5,126.8h1.5M69,126.8h1.5M85.5,126.8h1.5M135,126.8h1.5M141,126.8h1.5M154.5,126.8h1.5M162,126.8h1.5M168,126.8h1.5M175.5,126.8h1.5M180,126.8h1.5M184.5,126.8h1.5M198,126.8h1.5M205.5,126.8h1.5M208.5,126.8h1.5M214.5,126.8h3M40.5,128.2h1.5M64.5,128.2h1.5M93,128.2h1.5M118.5,128.2h1.5M123,128.2h1.5M139.5,128.2h4.5M153,128.2h3M168,128.2h1.5M186,128.2h1.5M193.5,128.2h1.5M198,128.2h1.5M204,128.2h1.5M210,128.2h1.5M214.5,128.2h3M64.5,129.8h1.5M69,129.8h1.5M73.5,129.8h1.5M85.5,129.8h1.5M91.5,129.8h1.5M112.5,129.8h1.5M117,129.8h1.5M142.5,129.8h1.5M150,129.8h1.5M153,129.8h1.5M166.5,129.8h3M172.5,129.8h3M186,129.8h1.5M193.5,129.8h1.5M201,129.8h3M67.5,131.2h1.5M85.5,131.2h1.5M141,131.2h1.5M154.5,131.2h1.5M165,131.2h1.5M168,131.2h1.5M171,131.2h1.5M177,131.2h3M204,131.2h1.5M34.5,132.8h1.5M69,132.8h1.5M142.5,132.8h1.5M154.5,132.8h1.5M178.5,132.8h1.5M181.5,132.8h1.5M184.5,132.8h1.5M193.5,132.8h1.5M198,132.8h1.5M201,132.8h1.5M213,132.8h3M34.5,134.2h3M43.5,134.2h1.5M52.5,134.2h1.5M60,134.2h1.5M66,134.2h3M85.5,134.2h1.5M97.5,134.2h1.5M100.5,134.2h1.5M142.5,134.2h1.5M150,134.2h1.5M153,134.2h3M157.5,134.2h1.5M162,134.2h3M193.5,134.2h1.5M204,134.2h1.5M216,134.2h1.5M37.5,135.8h1.5M76.5,135.8h1.5M126,135.8h1.5M129,135.8h1.5M153,135.8h3M166.5,135.8h1.5M174,135.8h1.5M183,135.8h1.5M186,135.8h1.5M195,135.8h1.5M205.5,135.8h1.5M210,135.8h1.5M214.5,135.8h1.5M43.5,137.2h1.5M150,137.2h1.5M175.5,137.2h1.5M186,137.2h1.5M193.5,137.2h1.5M199.5,137.2h1.5M205.5,137.2h1.5M42,138.8h1.5M60,138.8h1.5M75,138.8h1.5M151.5,138.8h3M175.5,138.8h1.5M195,138.8h1.5M201,138.8h1.5M204,138.8h1.5M208.5,138.8h1.5M211.5,138.8h1.5M63,140.2h1.5M70.5,140.2h1.5M91.5,140.2h1.5M106.5,140.2h1.5M159,140.2h4.5M168,140.2h3M186,140.2h1.5M189,140.2h1.5M192,140.2h1.5M204,140.2h1.5M214.5,140.2h1.5M40.5,141.8h3M55.5,141.8h1.5M84,141.8h1.5M139.5,141.8h1.5M151.5,141.8h1.5M178.5,141.8h1.5M202.5,141.8h3M208.5,141.8h1.5M211.5,141.8h1.5M82.5,143.2h4.5M102,143.2h3M112.5,143.2h1.5M115.5,143.2h3M124.5,143.2h1.5M141,143.2h3M151.5,143.2h1.5M154.5,143.2h1.5M157.5,143.2h1.5M174,143.2h1.5M184.5,143.2h1.5M192,143.2h1.5M207,143.2h1.5M210,143.2h3M39,144.8h1.5M55.5,144.8h1.5M111,144.8h1.5M117,144.8h1.5M136.5,144.8h1.5M184.5,144.8h1.5M192,144.8h1.5M204,144.8h1.5M210,144.8h1.5M54,146.2h1.5M72,146.2h3M76.5,146.2h1.5M81,146.2h3M105,146.2h1.5M112.5,146.2h1.5M144,146.2h1.5M150,146.2h1.5M166.5,146.2h1.5M204,146.2h1.5M208.5,146.2h1.5M216,146.2h1.5M39,147.8h1.5M61.5,147.8h4.5M72,147.8h1.5M88.5,147.8h1.5M109.5,147.8h1.5M118.5,147.8h1.5M138,147.8h1.5M172.5,147.8h1.5M189,147.8h1.5M207,147.8h1.5M210,147.8h1.5M214.5,147.8h1.5M36,149.2h1.5M42,149.2h1.5M49.5,149.2h1.5M60,149.2h1.5M66,149.2h1.5M72,149.2h1.5M78,149.2h1.5M100.5,149.2h1.5M126,149.2h1.5M130.5,149.2h1.5M141,149.2h1.5M159,149.2h1.5M166.5,149.2h1.5M187.5,149.2h1.5M195,149.2h3M204,149.2h1.5M40.5,150.8h1.5M67.5,150.8h1.5M76.5,150.8h1.5M90,150.8h1.5M94.5,150.8h1.5M99,150.8h1.5M150,150.8h1.5M171,150.8h1.5M183,150.8h1.5M211.5,150.8h1.5M214.5,150.8h1.5M73.5,152.2h1.5M87,152.2h1.5M96,152.2h1.5M99,152.2h1.5M103.5,152.2h1.5M106.5,152.2h1.5M121.5,152.2h1.5M132,152.2h3M145.5,152.2h1.5M150,152.2h1.5M156,152.2h3M195,152.2h1.5M130.5,153.8h1.5M139.5,153.8h1.5M36,155.2h1.5M43.5,155.2h1.5M90,155.2h1.5M96,155.2h4.5M144,155.2h1.5M151.5,155.2h1.5M178.5,155.2h1.5M187.5,155.2h1.5M201,155.2h1.5M37.5,156.8h1.5M81,156.8h1.5M103.5,156.8h3M118.5,156.8h1.5M121.5,156.8h1.5M130.5,156.8h1.5M198,156.8h1.5M40.5,158.2h1.5M70.5,158.2h1.5M79.5,158.2h1.5M85.5,158.2h1.5M105,158.2h1.5M117,158.2h1.5M151.5,158.2h1.5M184.5,158.2h1.5M214.5,158.2h1.5M39,159.8h1.5M69,159.8h1.5M87,159.8h1.5M115.5,159.8h1.5M126,159.8h1.5M135,159.8h1.5M139.5,159.8h1.5M174,159.8h1.5M177,159.8h1.5M180,159.8h1.5M201,159.8h1.5M211.5,159.8h1.5" stroke="#1fb31f" stroke-width="1.6" fill="none"/></g></g>
<path d="M108.5,63.8 109.8,65 110.8,66.5 112.2,67.5 113.5,68.7 115.4,69.4 117.1,70.5 119.1,71 120.8,72.3 123.3,72.5 125.6,71.7 127.1,72.4 128.7,73 129,74.6 129.9,76 129.3,77.8" fill="none" stroke="#000" stroke-width="0.8" stroke-linejoin="round"/>
<path d="M129.3,77.8 127.2,78.7 125.6,80.3 123.9,81.6 122,82.7 120.9,83.7 120.2,85.1 119.8,86.9 119.6,88.8 117.9,90.2 115.9,91.2 114.4,91.8 113.5,93 112.8,94.8 112.9,96.7 113.6,98.1 114.1,99.7 115.3,101.3 117.1,102.2 118.8,102.9 120.2,104" fill="none" stroke="#000" stroke-width="0.8" stroke-linejoin="round"/>
<path d="M129.3,77.8 130.7,78.1 131.7,79 133.6,78.5 135.4,77.8 137.5,78.1 139.6,77.8 141.1,77 142.7,76.6 144,75.8 145.1,74.8 146.3,73.9 147.5,73 148.6,74 150,74.2 150.8,76 151.8,77.8 152.6,79 154,79.5 155.8,78.3 157.9,77.5 159.9,77.5 161.8,78.2 163.1,77.7 164.4,77.5 165.7,77.8 167,77.6" fill="none" stroke="#000" stroke-width="0.8" stroke-linejoin="round"/>
<path d="M145.1,74.8 144.7,77 143.9,79 143.9,81.2 143.3,83.3 144.2,84.7 144.5,86.3 145.1,88 146.3,89.4 145.4,90.8 145.1,92.4 143.1,93.4 140.9,93.6 139.5,95 137.8,96.1 136.8,97.8 136,99.7 134.9,101.5 134.2,103.4 134,105.2 133.6,107" fill="none" stroke="#000" stroke-width="0.8" stroke-linejoin="round"/>
<path d="M120.2,104 121.5,105.5 123.2,106.4 125,107.5 126.9,108.2 128.8,108.3 130.5,108.9 131.9,107.9 133.6,107.6" fill="none" stroke="#000" stroke-width="0.8" stroke-linejoin="round"/>
<path d="M118.3,104.5 117.4,106 116.4,107.4 116.1,109.1 116.9,110.7 117,112.6 117.4,114.3 117.3,116 117.2,117.8 116.7,119.5 116.6,121.3 117.1,123 117.4,124.7 118.6,126.4 120,127.9 121.6,128 123.2,128.6 122.5,130.5 121.9,132.5 121,134 120.6,135.7 121.9,137.1 122.6,138.9 123.5,140.8 123.9,142.8 124.4,144.2 124.5,145.6" fill="none" stroke="#000" stroke-width="0.8" stroke-linejoin="round"/>
<path d="M155,79.3 156,81.5 156.7,83.1 158.5,83.8 159.2,85.4 159.9,87.6 159.8,89.9 159.5,91.6 159.2,93.2 159.7,95.3 161.1,97 160.8,99.1 159.8,101 158.3,101.8 156.6,102.2 155.4,103.1 154,103.5 152.4,102.9 150.9,102 150.5,103.8 149.3,105.2 151.2,106.5 153.3,107.6 155.5,107.2 157.6,108.2 159.8,107.8 161.1,109.9 161.8,112.3 163.8,113.1 165.7,114.3 167.5,114.3 169.1,115.4 170.9,115.6 172.9,115.8 174.8,116.2 174.4,117.8 174.1,119.5 173.3,121.4 172.8,123.4 173.6,125.3 173.5,127.3 175.3,128.4 176.7,129.9 177.4,131.2 178,132.5" fill="none" stroke="#000" stroke-width="0.8" stroke-linejoin="round"/>
<path d="M174.5,24.6 174.3,26.8 174.3,29.1 174.9,30.6 175.5,32.2 174.9,34 174.3,35.8 172.9,37.5 171.8,39.5 170.6,41.6 169.4,43.7 168.2,45.6 167.6,47.1 166.3,48 165.5,49.5 164.5,51 163.4,52.4 163.3,54.1 164.7,55.1 165.7,56.5 166.1,58.5 167,60.2 166.9,62.1 166.3,63.8 167,65.9 165.9,68 164.4,69.8 164.2,71.9 163.1,73.7 164.1,74.8 164.4,76.3 165.6,77.1 167,77.6" fill="none" stroke="#000" stroke-width="0.8" stroke-linejoin="round"/>
<path d="M167,77.6 169,77.6 170.9,76.9 172.6,76.8 174.3,76.1 176.1,76.3 177.8,75.7 179.5,75.2 181.3,75 182.9,73.9 184.8,73.6 186.5,73 188.2,73.4 189.9,72.9 191.6,73 193.3,73.5 195.1,73.9 196.8,74.3 197.8,75.3 198.8,76.3 198.2,77.6 197.5,78.9 196.8,81 195.5,82.8" fill="none" stroke="#000" stroke-width="0.8" stroke-linejoin="round"/>
<path d="M63.8,101 65.2,99.8 66.5,98.5 68,98.2 69.3,97.3 70.7,95.9 71.7,94.2 72.9,92.4 74.7,91.6 76.6,91.2 79,90.6 79.5,92.1 80.2,93.6 81.2,95 82.1,96.9 82.5,98.9 84.6,99.9 86.3,101.5 88,102.4 89.7,103.3 91.5,104.1 93.3,105.2 95.4,105.4 97.3,105.5 98.9,104.6 100.5,104 102.2,103.6 103.7,102.8 106.2,102.5 108.6,102.8 110.3,103.9 112.3,104.6 113.9,104.6 115.3,104 116.9,104.2 118.3,103.4 120.2,104" fill="none" stroke="#000" stroke-width="0.8" stroke-linejoin="round"/>
<path d="M95.4,105.4 94.4,106.5 94.1,108 93.8,109.3 93.5,110.6 95.7,111.5 98,111.9 100,110.6 101,109.3 101.9,108 103,106.5 104.5,105.4 106.6,104.6 108.4,103.2" fill="none" stroke="#000" stroke-width="0.8" stroke-linejoin="round"/>
<path d="M82.5,98.9 82,100.8 81.1,102.4 80,104 79.3,105.8 78.5,107.5 77.9,109.3 78,110.7 78.6,111.9 77.9,114 76.6,115.8 76.1,117.5 75.7,119.2 76,121 75.8,122.8 75.4,124.5 74.7,126.2 74.5,128.1 74,130 72.9,131.9 72.1,133.9 71.9,136.3 70.8,138.5" fill="none" stroke="#000" stroke-width="0.8" stroke-linejoin="round"/>
<path d="M78.6,111.9 80.6,111.8 82.5,112.5 83.2,113.7 84.4,114.5 84.8,116.5 85.7,118.4 87.6,119.3 88.9,121 90.5,121.7 91.5,123.1 92.8,124.2 93.9,125.5 95.6,126.2 96.7,127.5 98.5,129 100,130.7 101.5,132.2 103.2,133.3 105.2,133.2 107.1,133.9 108.6,132.8 109.7,131.3 111.3,130.7 112.3,129.4 113.5,130.5 115,131 115.8,133 117.4,134.4 119,135.1 120.6,135.7" fill="none" stroke="#000" stroke-width="0.8" stroke-linejoin="round"/>
<path d="M66.2,93.2 68,92.6 69.6,93.6 68.4,94.8 66.4,94.6 66.2,93.2" fill="none" stroke="#000" stroke-width="0.8" stroke-linejoin="round"/>
<path d="M36.4,85.1 37.3,83.6 38.9,82.7 39.9,81.3 41.5,80.5 42.5,79 43.8,77.3 45,75.4 46.2,74.2 47.9,74.4 49.2,75.4 50.8,76.5 52.3,77.8 54.7,78.4 55.9,76.9 57.1,75.4 58.9,73.6 61.4,74.2 62.9,75.1 63.8,76.6 65.6,77.4 67.5,77.8 69.6,77.4 71.7,77.8 73.5,77.1 75.4,76.6 77.2,76 79,75.4 80.8,74.7 82.7,74.2 84,73 85.1,71.7 85.9,70.3 86.3,68.7 87.7,67.5 88.2,65.7 89.3,64.8 90.6,64.4 92.3,64.6 94,64.4 95.4,65.6 97,66.5 98.9,66 100.9,65.9 102.6,64.9 104.5,65 106.5,64.9 108.2,63.8 110.2,63.4 112.2,63.2 114.3,63.2 116.2,63 117.9,62 118.6,60.5 119.1,58.9 118.5,57.4 117.9,55.9 116.9,54.5 115.5,53.5 113.5,53.3 111.8,52.2 110,52.3 108.2,52.9 106.6,52.7 105.1,52.2 104.1,50.9 103.9,49.2 102.2,48.4 100.3,48 99.7,46.8 98.4,46.2 97.5,44.8 97.2,43.1 97.9,41.7 98.4,40.1 100.2,39 102.1,38.3 104,37.9 105.7,37 106.8,36 107.6,34.6 109.4,35.8 110.8,36.8 111.8,38.3 113.5,39.8 115.5,40.7 116.9,41.5 118.5,41.9 120.4,41.2 122.2,40.1 123.9,39.2 123.9,37 123.7,35.7 122.8,34.6 122,33.5 121.3,32.4 122.2,31.2 124,31.7 124.9,33.5 126.2,35 127,36.8 128.5,38.1 129.3,39.8 129.2,41.7 130.5,41.2 131.3,40.1 132.1,38.5 133.1,37 133.7,35.8 134.3,34.6 135.7,33.4 137.4,32.8 139.3,32.1 141,31 142.8,30.8 144.7,31 146.4,32 148.3,32.2 149.1,30.8 150.2,29.7 150.6,27.9 150.8,26.1 151.3,24.2 152,22.4 154,21.8 156,21 157.9,20.9 159.7,21.2 161.5,21.8 162.2,23.8 163.3,25.5 165.1,27.3 166.8,26.6 168.2,25.5 170,25 171.8,24.3 173.6,25.1 175.5,24.9 177.9,24.3 178.5,25.7 178.5,27.3 178.4,29.2 179.1,31 180,32.7 180.3,34.6 180.9,35.9 182.2,36.4 184,37.1 185.8,37.6 187,38.6 188.3,39.5 187.6,40.9 187.9,42.5 187,44.9 187.9,46.8 189.5,46.2 190.1,43.7 191.3,43.1 191.5,44.7 192.3,46.2 192.1,47.7 192.5,49.2 193.9,49.4 194.9,50.4 196.8,50.6 198.6,51 200.2,50.7 201.6,51.4 201.9,49.9 202.9,48.6 203.2,47 204.1,45.6 205.3,44.2 205.9,42.5 207.1,43.1 207.8,44.6 207.7,46.2 208.3,48.6 210.2,49.2 209.7,50.5 208.9,51.6 208.9,53.5 208.9,55.3 210.2,56.5 209.5,58.9 209.7,60.8 210.6,62.4 211,64.4 212.4,65.9 212.5,67.9 213.1,69.8 211.7,71.6 209.8,73 207.8,73.6 205.9,74.3 203.9,74.7 202,75.6 200.8,77.6 198.8,78.9 197.5,80.1 196.7,81.6 195.5,82.8 194.8,84.1 194.2,85.4 195.4,86.2 196.8,86.7 198.6,86.7 200.3,86.3 202,86 204,85.4 205.9,84.7 207.8,83.9 209.8,83.8 211.5,84.2 213.1,84.7 214.4,85.8 215,87.3 215.5,89.6 216,91.9 215.5,93.5 215,95.1 213.3,95.5 211.8,96.4 211.3,98 210.5,99.6 210.3,101.5 209.2,103 208.5,105.2 209.1,106.8 209.8,108.4 211.6,108.7 213.1,109.7 213.5,111.7 214.4,113.6 214.8,115.2 215,116.9 213.4,117.7 211.8,118.2 210.7,119.6 210.5,121.4 209.6,123.1 208.5,124.7 206.9,125.2 205.3,125.3 203.7,125.8 202,126 201.4,127.3 200.7,128.6 200.7,131.2 198.1,131.2 197.4,129.6 197.5,127.9 195.5,127.3 194.2,128.2 192.9,129.2 191.6,131.2 189.7,130.5 188.6,131.6 188.4,133.1 188.1,135.3 188,137.6 186.5,137 186.1,135.6 185.2,134.4 184.1,133.3 182.6,133.1 181.5,132.1 180,131.8 178.6,132.2 177.4,133.1 176.1,134.5 175.4,136.3 174.2,137.4 173.5,138.9 172,140.1 170.2,140.9 168.6,141.9 167,142.8 165.4,143.3 163.7,143.5 162.6,142.7 161.8,141.5 160.5,140.5 159.2,139.6 157.9,140.1 156.6,140.2 154.4,140.2 152.4,138.9 151.2,137.2 149.8,135.7 148.6,134 147.2,132.5 145.6,131.6 144.6,130.1 143.3,130.7 142,131.2 140.5,132.6 138.8,133.8 137.9,135.6 137.5,137.6 136.6,139.5 134.9,140.9 133.1,142.1 131,142.6 129,143.5 127.1,144.5 125.1,145.1 123.2,146.1 121.3,147.1 119.5,148.1 117.4,148.7 115.9,149.2 115,150.5 114.3,151.9 113.1,153 112.4,154.9 111.1,156.3 110.3,157.4 109.2,158.2 107.8,157.7 106.6,156.9 104.9,156.9 103.3,156.3 101.4,155.9 99.4,155.6 97.6,154.5 95.5,154.3 94,153.7 92.9,152.4 91.6,151.8 90.3,151.1 88.8,150.3 87.1,149.8 85.9,149 84.5,148.9 82.6,149.8 81,150.4 80,151.8 79.3,153.3 78,154.3 76.7,155.3 75.4,156.3 73.6,156.6 72.2,157.6 70.3,158.4 68.3,158.2 67,157.5 65.7,156.9 65,155 65.3,153.5 66.3,152.4 67.5,151 68.3,149.2 69.4,147.7 69.6,145.9 68.9,144 70.2,143 71.5,142 70.7,140.5 70.9,138.8 69.3,137.8 68.3,136.2 66.6,135 65,133.6 63.6,132.3 61.8,131.6 60,130.5 58.5,129 58.4,127.4 57.9,125.8 58.7,124.3 59.7,122.9 60.5,120.8 61.7,119 62.9,116.8 63.6,114.5 64,112.5 64.9,110.6 65.8,108.9 66.9,107.3 66.8,105.6 66.2,104.1 65.2,102.2 64.3,100.2 62.5,98.6 60.4,97.6 58.7,97.8 57,98.4 55.2,98.2 53.5,98.9 51.6,99.2 50,100.2 48.6,100.7 46.8,100.4 45,100.3 43.7,99 41.9,98.5 40.8,97.2 40.7,95.5 40.2,94 40.1,92.4 40.1,90.3 39.5,88.2 38.3,87.4 37,87Z" fill="none" stroke="#000" stroke-width="1.3" stroke-linejoin="round"/>
<path d="M65.4,157.5C64,159.5 64.6,161.5 65,163.2" fill="none" stroke="#000" stroke-width="1.1"/>
</g>
<path d="M282.6,346.4v2.8M288.6,346.4v2.8M294.7,346.4v5.2M300.7,346.4v2.8M306.7,346.4v2.8M312.8,346.4v2.8M318.8,346.4v2.8M324.9,346.4v5.2M330.9,346.4v2.8M336.9,346.4v2.8M343,346.4v2.8M349,346.4v2.8M355.1,346.4v5.2M361.1,346.4v2.8M367.1,346.4v2.8M373.2,346.4v2.8M379.2,346.4v2.8M385.2,346.4v5.2M391.3,346.4v2.8M397.3,346.4v2.8M403.4,346.4v2.8M409.4,346.4v2.8M415.5,346.4v5.2M421.5,346.4v2.8M427.5,346.4v2.8M433.6,346.4v2.8M439.6,346.4v2.8M445.7,346.4v5.2M451.7,346.4v2.8M457.7,346.4v2.8M279.7,204.4h-2.8M279.7,210.5h-5.2M279.7,216.5h-2.8M279.7,222.5h-2.8M279.7,228.6h-2.8M279.7,234.6h-2.8M279.7,240.7h-5.2M279.7,246.7h-2.8M279.7,252.7h-2.8M279.7,258.8h-2.8M279.7,264.8h-2.8M279.7,270.9h-5.2M279.7,276.9h-2.8M279.7,282.9h-2.8M279.7,289h-2.8M279.7,295h-2.8M279.7,301.1h-5.2M279.7,307.1h-2.8M279.7,313.1h-2.8M279.7,319.2h-2.8M279.7,325.2h-2.8M279.7,331.2h-5.2M279.7,337.3h-2.8M279.7,343.3h-2.8" stroke="#000" stroke-width="0.9" fill="none"/><rect x="279.7" y="198.3" width="183.9" height="148.1" fill="none" stroke="#000" stroke-width="1.1"/><text x="294.7" y="361.9" font-size="7" text-anchor="middle">104<tspan font-size="4" dy="-3.1">o</tspan><tspan dy="3.1">E</tspan></text><text x="324.9" y="361.9" font-size="7" text-anchor="middle">105<tspan font-size="4" dy="-3.1">o</tspan><tspan dy="3.1">E</tspan></text><text x="355.1" y="361.9" font-size="7" text-anchor="middle">106<tspan font-size="4" dy="-3.1">o</tspan><tspan dy="3.1">E</tspan></text><text x="385.2" y="361.9" font-size="7" text-anchor="middle">107<tspan font-size="4" dy="-3.1">o</tspan><tspan dy="3.1">E</tspan></text><text x="415.5" y="361.9" font-size="7" text-anchor="middle">108<tspan font-size="4" dy="-3.1">o</tspan><tspan dy="3.1">E</tspan></text><text x="445.7" y="361.9" font-size="7" text-anchor="middle">109<tspan font-size="4" dy="-3.1">o</tspan><tspan dy="3.1">E</tspan></text><text x="270.2" y="213.1" font-size="7" text-anchor="end">29<tspan font-size="4" dy="-3.1">o</tspan><tspan dy="3.1">N</tspan></text><text x="270.2" y="243.2" font-size="7" text-anchor="end">28<tspan font-size="4" dy="-3.1">o</tspan><tspan dy="3.1">N</tspan></text><text x="270.2" y="273.5" font-size="7" text-anchor="end">27<tspan font-size="4" dy="-3.1">o</tspan><tspan dy="3.1">N</tspan></text><text x="270.2" y="303.7" font-size="7" text-anchor="end">26<tspan font-size="4" dy="-3.1">o</tspan><tspan dy="3.1">N</tspan></text><text x="270.2" y="333.9" font-size="7" text-anchor="end">25<tspan font-size="4" dy="-3.1">o</tspan><tspan dy="3.1">N</tspan></text>
<text x="279" y="197.6" font-size="7.9" textLength="51" lengthAdjust="spacingAndGlyphs">(d) Significance</text>
<path d="M230.8,32 L234.7,48.5 L227,48.5Z" fill="#178a17" stroke="#000" stroke-width="0.4" stroke-linejoin="miter"/><rect x="227" y="48.5" width="7.7" height="16.3" fill="#12ad1e" stroke="#000" stroke-width="0.4"/><rect x="227" y="64.8" width="7.7" height="16.3" fill="#4ae80e" stroke="#000" stroke-width="0.4"/><rect x="227" y="81.1" width="7.7" height="16.3" fill="#ffdd0a" stroke="#000" stroke-width="0.4"/><rect x="227" y="97.4" width="7.7" height="16.3" fill="#e6ad14" stroke="#000" stroke-width="0.4"/><rect x="227" y="113.7" width="7.7" height="16.3" fill="#e6800f" stroke="#000" stroke-width="0.4"/><path d="M227,130 L234.7,130 L230.8,145.5Z" fill="#e61919" stroke="#000" stroke-width="0.4"/><text x="237.6" y="50.9" font-size="6.6">0.7</text><text x="237.6" y="67.2" font-size="6.6">0.6</text><text x="237.6" y="83.5" font-size="6.6">0.5</text><text x="237.6" y="99.8" font-size="6.6">0.4</text><text x="237.6" y="116.1" font-size="6.6">0.3</text><text x="237.6" y="132.4" font-size="6.6">0.2</text>
<path d="M228.4,215.8 L232.4,234.4 L224.5,234.4Z" fill="#178a17" stroke="#000" stroke-width="0.4" stroke-linejoin="miter"/><rect x="224.5" y="234.4" width="7.9" height="18.9" fill="#1ab31a" stroke="#000" stroke-width="0.4"/><rect x="224.5" y="253.3" width="7.9" height="18.9" fill="#99ee11" stroke="#000" stroke-width="0.4"/><rect x="224.5" y="272.3" width="7.9" height="18.9" fill="#ffee00" stroke="#000" stroke-width="0.4"/><rect x="224.5" y="291.2" width="7.9" height="18.9" fill="#dda511" stroke="#000" stroke-width="0.4"/><path d="M224.5,310.2 L232.4,310.2 L228.4,327.8Z" fill="#e61919" stroke="#000" stroke-width="0.4"/><text x="236.3" y="236.8" font-size="6.6">0.10</text><text x="236.3" y="255.8" font-size="6.6">0.05</text><text x="236.3" y="274.7" font-size="6.6">0.00</text><text x="234.7" y="293.6" font-size="6.6">-0.05</text><text x="234.7" y="312.6" font-size="6.6">-0.10</text>
<rect x="478.8" y="215.3" width="8.6" height="18.95" fill="#178a17" stroke="#000" stroke-width="0.4"/>
<text x="483.1" y="227.3" font-size="6.6" text-anchor="middle" fill="#222">6</text>
<rect x="478.8" y="234.2" width="8.6" height="18.95" fill="#1fb31f" stroke="#000" stroke-width="0.4"/>
<text x="483.1" y="246.2" font-size="6.6" text-anchor="middle" fill="#222">5</text>
<rect x="478.8" y="253.2" width="8.6" height="18.95" fill="#bff01a" stroke="#000" stroke-width="0.4"/>
<text x="483.1" y="265.2" font-size="6.6" text-anchor="middle" fill="#222">4</text>
<rect x="478.8" y="272.1" width="8.6" height="18.95" fill="#ffee1a" stroke="#000" stroke-width="0.4"/>
<text x="483.1" y="284.1" font-size="6.6" text-anchor="middle" fill="#222">3</text>
<rect x="478.8" y="291.1" width="8.6" height="18.95" fill="#e6a61a" stroke="#000" stroke-width="0.4"/>
<text x="483.1" y="303.1" font-size="6.6" text-anchor="middle" fill="#222">2</text>
<rect x="478.8" y="310.1" width="8.6" height="18.95" fill="#e61a1a" stroke="#000" stroke-width="0.4"/>
<text x="483.1" y="322.1" font-size="6.6" text-anchor="middle" fill="#222">1</text>
<rect x="322.9" y="162" width="21.8" height="1.8" fill="#d9a00f" stroke="#000" stroke-width="0.5"/>
<rect x="344.6" y="147.5" width="21.8" height="16.3" fill="#ffdd0a" stroke="#000" stroke-width="0.5"/>
<rect x="366.4" y="31.2" width="21.8" height="132.6" fill="#55ff00" stroke="#000" stroke-width="0.5"/>
<rect x="388.2" y="26.2" width="21.8" height="137.6" fill="#00bb00" stroke="#000" stroke-width="0.5"/>
<rect x="410" y="155.3" width="21.8" height="8.5" fill="#008c00" stroke="#000" stroke-width="0.5"/>
<path d="M279.3,163.8v4.8M301.1,163.8v4.8M322.9,163.8v4.8M344.6,163.8v4.8M366.4,163.8v4.8M388.2,163.8v4.8M410,163.8v4.8M431.8,163.8v4.8M453.5,163.8v4.8M279.3,163.8h-4.8M279.3,157.9h-2.5M279.3,151.9h-2.5M279.3,146h-2.5M279.3,140h-2.5M279.3,134.1h-4.8M279.3,128.1h-2.5M279.3,122.2h-2.5M279.3,116.2h-2.5M279.3,110.3h-2.5M279.3,104.4h-4.8M279.3,98.4h-2.5M279.3,92.5h-2.5M279.3,86.5h-2.5M279.3,80.6h-2.5M279.3,74.6h-4.8M279.3,68.7h-2.5M279.3,62.8h-2.5M279.3,56.8h-2.5M279.3,50.9h-2.5M279.3,44.9h-4.8M279.3,39h-2.5M279.3,33h-2.5M279.3,27.1h-2.5M279.3,21.1h-2.5M279.3,15.2h-4.8" stroke="#000" stroke-width="0.9" fill="none"/>
<rect x="279.3" y="15.2" width="184.7" height="148.7" fill="none" stroke="#000" stroke-width="1.1"/>
<text x="279.3" y="179.1" font-size="7.6" text-anchor="middle" textLength="9.4" lengthAdjust="spacingAndGlyphs">0.1</text>
<text x="301.1" y="179.1" font-size="7.6" text-anchor="middle" textLength="9.4" lengthAdjust="spacingAndGlyphs">0.2</text>
<text x="322.9" y="179.1" font-size="7.6" text-anchor="middle" textLength="9.4" lengthAdjust="spacingAndGlyphs">0.3</text>
<text x="344.6" y="179.1" font-size="7.6" text-anchor="middle" textLength="9.4" lengthAdjust="spacingAndGlyphs">0.4</text>
<text x="366.4" y="179.1" font-size="7.6" text-anchor="middle" textLength="9.4" lengthAdjust="spacingAndGlyphs">0.5</text>
<text x="388.2" y="179.1" font-size="7.6" text-anchor="middle" textLength="9.4" lengthAdjust="spacingAndGlyphs">0.6</text>
<text x="410" y="179.1" font-size="7.6" text-anchor="middle" textLength="9.4" lengthAdjust="spacingAndGlyphs">0.7</text>
<text x="431.8" y="179.1" font-size="7.6" text-anchor="middle" textLength="9.4" lengthAdjust="spacingAndGlyphs">0.8</text>
<text x="453.5" y="179.1" font-size="7.6" text-anchor="middle" textLength="9.4" lengthAdjust="spacingAndGlyphs">0.9</text>
<text x="272.2" y="166.5" font-size="7.6" text-anchor="end" textLength="4.6" lengthAdjust="spacingAndGlyphs">0</text>
<text x="272.2" y="136.8" font-size="7.6" text-anchor="end" textLength="9.2" lengthAdjust="spacingAndGlyphs">10</text>
<text x="272.2" y="107.1" font-size="7.6" text-anchor="end" textLength="9.2" lengthAdjust="spacingAndGlyphs">20</text>
<text x="272.2" y="77.3" font-size="7.6" text-anchor="end" textLength="9.2" lengthAdjust="spacingAndGlyphs">30</text>
<text x="272.2" y="47.6" font-size="7.6" text-anchor="end" textLength="9.2" lengthAdjust="spacingAndGlyphs">40</text>
<text x="272.2" y="17.9" font-size="7.6" text-anchor="end" textLength="9.2" lengthAdjust="spacingAndGlyphs">50</text>
<text x="279" y="11.6" font-size="7" textLength="45.8" lengthAdjust="spacingAndGlyphs">(b) Frequency</text>
<rect x="279.5" y="17.2" width="12.8" height="4.1" fill="#d9a00f" stroke="#000" stroke-width="0.4"/>
<text x="296.1" y="21.5" font-size="5.9" textLength="24.6" lengthAdjust="spacingAndGlyphs">0.3−0.4</text>
<rect x="323.1" y="17.2" width="12.8" height="4.1" fill="#ffdd0a" stroke="#000" stroke-width="0.4"/>
<text x="339.7" y="21.5" font-size="5.9" textLength="24.6" lengthAdjust="spacingAndGlyphs">0.4−0.5</text>
<rect x="279.5" y="23.3" width="12.8" height="4.1" fill="#55ff00" stroke="#000" stroke-width="0.4"/>
<text x="296.1" y="27.6" font-size="5.9" textLength="24.6" lengthAdjust="spacingAndGlyphs">0.5−0.6</text>
<rect x="323.1" y="23.3" width="12.8" height="4.1" fill="#00bb00" stroke="#000" stroke-width="0.4"/>
<text x="339.7" y="27.6" font-size="5.9" textLength="24.6" lengthAdjust="spacingAndGlyphs">0.6−0.7</text>
<rect x="279.5" y="29.4" width="12.8" height="4.1" fill="#008c00" stroke="#000" stroke-width="0.4"/>
<text x="296.1" y="33.7" font-size="5.9" textLength="24.6" lengthAdjust="spacingAndGlyphs">0.7−0.8</text>
<rect x="166.5" y="388.8" width="15.8" height="99.5" fill="#0f8c0f" stroke="#000" stroke-width="0.35"/>
<text x="174.4" y="440.9" font-size="6.3" text-anchor="middle" textLength="15.8" lengthAdjust="spacingAndGlyphs">68.18</text>
<rect x="166.5" y="488.3" width="15.8" height="18.7" fill="#0cbc14" stroke="#000" stroke-width="0.35"/>
<text x="174.4" y="500" font-size="6.3" text-anchor="middle" textLength="15.8" lengthAdjust="spacingAndGlyphs">12.83</text>
<rect x="166.5" y="507.1" width="15.8" height="22.9" fill="#b0fa2a" stroke="#000" stroke-width="0.35"/>
<text x="174.4" y="520.8" font-size="6.3" text-anchor="middle" textLength="15.8" lengthAdjust="spacingAndGlyphs">15.70</text>
<rect x="166.5" y="530" width="15.8" height="3.2" fill="#fff014" stroke="#000" stroke-width="0.35"/>
<rect x="166.5" y="533.2" width="15.8" height="0.9" fill="#e6aa19" stroke="#000" stroke-width="0.35"/>
<rect x="166.5" y="534.1" width="15.8" height="0.7" fill="#eb1414" stroke="#000" stroke-width="0.35"/>
<text x="174.4" y="543.2" font-size="7.1" text-anchor="middle">ALL</text>
<rect x="192.8" y="388.8" width="15.8" height="72.1" fill="#0f8c0f" stroke="#000" stroke-width="0.35"/>
<text x="200.7" y="427.1" font-size="6.3" text-anchor="middle" textLength="15.8" lengthAdjust="spacingAndGlyphs">49.36</text>
<rect x="192.8" y="460.9" width="15.8" height="25.4" fill="#0cbc14" stroke="#000" stroke-width="0.35"/>
<text x="200.7" y="475.9" font-size="6.3" text-anchor="middle" textLength="15.8" lengthAdjust="spacingAndGlyphs">17.41</text>
<rect x="192.8" y="486.3" width="15.8" height="45.3" fill="#b0fa2a" stroke="#000" stroke-width="0.35"/>
<text x="200.7" y="511.3" font-size="6.3" text-anchor="middle" textLength="15.8" lengthAdjust="spacingAndGlyphs">31.06</text>
<rect x="192.8" y="531.6" width="15.8" height="2.2" fill="#fff014" stroke="#000" stroke-width="0.35"/>
<rect x="192.8" y="533.8" width="15.8" height="0.6" fill="#e6aa19" stroke="#000" stroke-width="0.35"/>
<rect x="192.8" y="534.4" width="15.8" height="0.4" fill="#eb1414" stroke="#000" stroke-width="0.35"/>
<text x="200.7" y="543.2" font-size="7.1" text-anchor="middle">ENF</text>
<rect x="219.2" y="388.8" width="15.8" height="74.6" fill="#0f8c0f" stroke="#000" stroke-width="0.35"/>
<text x="227.1" y="428.4" font-size="6.3" text-anchor="middle" textLength="15.8" lengthAdjust="spacingAndGlyphs">51.09</text>
<rect x="219.2" y="463.4" width="15.8" height="27.7" fill="#0cbc14" stroke="#000" stroke-width="0.35"/>
<text x="227.1" y="479.5" font-size="6.3" text-anchor="middle" textLength="15.8" lengthAdjust="spacingAndGlyphs">18.98</text>
<rect x="219.2" y="491.1" width="15.8" height="41.7" fill="#b0fa2a" stroke="#000" stroke-width="0.35"/>
<text x="227.1" y="514.2" font-size="6.3" text-anchor="middle" textLength="15.8" lengthAdjust="spacingAndGlyphs">28.55</text>
<rect x="219.2" y="532.8" width="15.8" height="1.5" fill="#fff014" stroke="#000" stroke-width="0.35"/>
<rect x="219.2" y="534.2" width="15.8" height="0.3" fill="#e6aa19" stroke="#000" stroke-width="0.35"/>
<rect x="219.2" y="534.5" width="15.8" height="0.3" fill="#eb1414" stroke="#000" stroke-width="0.35"/>
<text x="227.1" y="543.2" font-size="7.1" text-anchor="middle">EBF</text>
<rect x="245.5" y="388.8" width="15.8" height="68.2" fill="#0f8c0f" stroke="#000" stroke-width="0.35"/>
<text x="253.4" y="425.2" font-size="6.3" text-anchor="middle" textLength="15.8" lengthAdjust="spacingAndGlyphs">46.73</text>
<rect x="245.5" y="457" width="15.8" height="29.3" fill="#0cbc14" stroke="#000" stroke-width="0.35"/>
<text x="253.4" y="474" font-size="6.3" text-anchor="middle" textLength="15.8" lengthAdjust="spacingAndGlyphs">20.05</text>
<rect x="245.5" y="486.3" width="15.8" height="45.4" fill="#b0fa2a" stroke="#000" stroke-width="0.35"/>
<text x="253.4" y="511.3" font-size="6.3" text-anchor="middle" textLength="15.8" lengthAdjust="spacingAndGlyphs">31.08</text>
<rect x="245.5" y="531.7" width="15.8" height="2.3" fill="#fff014" stroke="#000" stroke-width="0.35"/>
<rect x="245.5" y="534" width="15.8" height="0.4" fill="#e6aa19" stroke="#000" stroke-width="0.35"/>
<rect x="245.5" y="534.4" width="15.8" height="0.4" fill="#eb1414" stroke="#000" stroke-width="0.35"/>
<text x="253.4" y="543.2" font-size="7.1" text-anchor="middle">DBF</text>
<rect x="271.8" y="388.8" width="15.8" height="83.7" fill="#0f8c0f" stroke="#000" stroke-width="0.35"/>
<text x="279.7" y="433" font-size="6.3" text-anchor="middle" textLength="15.8" lengthAdjust="spacingAndGlyphs">57.35</text>
<rect x="271.8" y="472.5" width="15.8" height="25.8" fill="#0cbc14" stroke="#000" stroke-width="0.35"/>
<text x="279.7" y="487.7" font-size="6.3" text-anchor="middle" textLength="15.8" lengthAdjust="spacingAndGlyphs">17.68</text>
<rect x="271.8" y="498.3" width="15.8" height="34.5" fill="#b0fa2a" stroke="#000" stroke-width="0.35"/>
<text x="279.7" y="517.9" font-size="6.3" text-anchor="middle" textLength="15.8" lengthAdjust="spacingAndGlyphs">23.61</text>
<rect x="271.8" y="532.8" width="15.8" height="1.5" fill="#fff014" stroke="#000" stroke-width="0.35"/>
<rect x="271.8" y="534.3" width="15.8" height="0.3" fill="#e6aa19" stroke="#000" stroke-width="0.35"/>
<rect x="271.8" y="534.6" width="15.8" height="0.2" fill="#eb1414" stroke="#000" stroke-width="0.35"/>
<text x="279.7" y="543.2" font-size="7.1" text-anchor="middle">MIF</text>
<rect x="298.1" y="388.8" width="15.8" height="99.9" fill="#0f8c0f" stroke="#000" stroke-width="0.35"/>
<text x="306" y="441" font-size="6.3" text-anchor="middle" textLength="15.8" lengthAdjust="spacingAndGlyphs">68.40</text>
<rect x="298.1" y="488.7" width="15.8" height="19" fill="#0cbc14" stroke="#000" stroke-width="0.35"/>
<text x="306" y="500.5" font-size="6.3" text-anchor="middle" textLength="15.8" lengthAdjust="spacingAndGlyphs">13.00</text>
<rect x="298.1" y="507.6" width="15.8" height="22.3" fill="#b0fa2a" stroke="#000" stroke-width="0.35"/>
<text x="306" y="521.1" font-size="6.3" text-anchor="middle" textLength="15.8" lengthAdjust="spacingAndGlyphs">15.24</text>
<rect x="298.1" y="529.9" width="15.8" height="3.5" fill="#fff014" stroke="#000" stroke-width="0.35"/>
<rect x="298.1" y="533.4" width="15.8" height="0.9" fill="#e6aa19" stroke="#000" stroke-width="0.35"/>
<rect x="298.1" y="534.3" width="15.8" height="0.5" fill="#eb1414" stroke="#000" stroke-width="0.35"/>
<text x="306" y="543.2" font-size="7.1" text-anchor="middle">WDS</text>
<rect x="324.5" y="388.8" width="15.8" height="115.1" fill="#0f8c0f" stroke="#000" stroke-width="0.35"/>
<text x="332.4" y="448.6" font-size="6.3" text-anchor="middle" textLength="15.8" lengthAdjust="spacingAndGlyphs">78.83</text>
<rect x="324.5" y="503.9" width="15.8" height="12.8" fill="#0cbc14" stroke="#000" stroke-width="0.35"/>
<text x="332.4" y="512.6" font-size="6.3" text-anchor="middle" textLength="11.6" lengthAdjust="spacingAndGlyphs">8.80</text>
<rect x="324.5" y="516.7" width="15.8" height="13.4" fill="#b0fa2a" stroke="#000" stroke-width="0.35"/>
<text x="332.4" y="525.7" font-size="6.3" text-anchor="middle" textLength="11.6" lengthAdjust="spacingAndGlyphs">9.17</text>
<rect x="324.5" y="530.1" width="15.8" height="3.5" fill="#fff014" stroke="#000" stroke-width="0.35"/>
<rect x="324.5" y="533.6" width="15.8" height="0.7" fill="#e6aa19" stroke="#000" stroke-width="0.35"/>
<rect x="324.5" y="534.4" width="15.8" height="0.4" fill="#eb1414" stroke="#000" stroke-width="0.35"/>
<text x="332.4" y="543.2" font-size="7.1" text-anchor="middle">SAV</text>
<rect x="350.8" y="388.8" width="15.8" height="61.5" fill="#0f8c0f" stroke="#000" stroke-width="0.35"/>
<text x="358.7" y="421.9" font-size="6.3" text-anchor="middle" textLength="15.8" lengthAdjust="spacingAndGlyphs">42.14</text>
<rect x="350.8" y="450.3" width="15.8" height="11.3" fill="#0cbc14" stroke="#000" stroke-width="0.35"/>
<text x="358.7" y="458.3" font-size="6.3" text-anchor="middle" textLength="11.6" lengthAdjust="spacingAndGlyphs">7.72</text>
<rect x="350.8" y="461.6" width="15.8" height="25.9" fill="#b0fa2a" stroke="#000" stroke-width="0.35"/>
<text x="358.7" y="476.9" font-size="6.3" text-anchor="middle" textLength="15.8" lengthAdjust="spacingAndGlyphs">17.75</text>
<rect x="350.8" y="487.5" width="15.8" height="21.6" fill="#fff014" stroke="#000" stroke-width="0.35"/>
<text x="358.7" y="500.6" font-size="6.3" text-anchor="middle" textLength="15.8" lengthAdjust="spacingAndGlyphs">14.80</text>
<rect x="350.8" y="509.1" width="15.8" height="8.4" fill="#e6aa19" stroke="#000" stroke-width="0.35"/>
<text x="358.7" y="515.6" font-size="6.3" text-anchor="middle" textLength="11.6" lengthAdjust="spacingAndGlyphs">5.78</text>
<rect x="350.8" y="517.6" width="15.8" height="17.2" fill="#eb1414" stroke="#000" stroke-width="0.35"/>
<text x="358.7" y="528.5" font-size="6.3" text-anchor="middle" textLength="15.8" lengthAdjust="spacingAndGlyphs">11.81</text>
<text x="358.7" y="543.2" font-size="7.1" text-anchor="middle">GRA</text>
<rect x="377.1" y="388.8" width="15.8" height="97.3" fill="#0f8c0f" stroke="#000" stroke-width="0.35"/>
<text x="385" y="439.8" font-size="6.3" text-anchor="middle" textLength="15.8" lengthAdjust="spacingAndGlyphs">66.67</text>
<rect x="377.1" y="486.1" width="15.8" height="6" fill="#0cbc14" stroke="#000" stroke-width="0.35"/>
<text x="385" y="491.4" font-size="6.3" text-anchor="middle" textLength="11.6" lengthAdjust="spacingAndGlyphs">4.12</text>
<rect x="377.1" y="492.2" width="15.8" height="10.5" fill="#b0fa2a" stroke="#000" stroke-width="0.35"/>
<text x="385" y="499.7" font-size="6.3" text-anchor="middle" textLength="11.6" lengthAdjust="spacingAndGlyphs">7.22</text>
<rect x="377.1" y="502.7" width="15.8" height="16.6" fill="#fff014" stroke="#000" stroke-width="0.35"/>
<text x="385" y="513.3" font-size="6.3" text-anchor="middle" textLength="15.8" lengthAdjust="spacingAndGlyphs">11.34</text>
<rect x="377.1" y="519.3" width="15.8" height="8" fill="#e6aa19" stroke="#000" stroke-width="0.35"/>
<text x="385" y="525.6" font-size="6.3" text-anchor="middle" textLength="11.6" lengthAdjust="spacingAndGlyphs">5.50</text>
<rect x="377.1" y="527.3" width="15.8" height="7.5" fill="#eb1414" stroke="#000" stroke-width="0.35"/>
<text x="385" y="533.3" font-size="6.3" text-anchor="middle" textLength="11.6" lengthAdjust="spacingAndGlyphs">5.15</text>
<text x="385" y="543.2" font-size="7.1" text-anchor="middle">CRO</text>
<path d="M156,534.8h-4M156,527.5h-2.2M156,520.2h-2.2M156,512.9h-2.2M156,505.6h-4M156,498.3h-2.2M156,491h-2.2M156,483.7h-2.2M156,476.4h-4M156,469.1h-2.2M156,461.8h-2.2M156,454.5h-2.2M156,447.2h-4M156,439.9h-2.2M156,432.6h-2.2M156,425.3h-2.2M156,418h-4M156,410.7h-2.2M156,403.4h-2.2M156,396.1h-2.2M156,388.8h-4" stroke="#000" stroke-width="0.9" fill="none"/>
<rect x="156" y="381.6" width="246.3" height="153.2" fill="none" stroke="#000" stroke-width="1.1"/>
<text x="148.4" y="537.3" font-size="6.9" text-anchor="end" textLength="4.3" lengthAdjust="spacingAndGlyphs">0</text>
<text x="148.4" y="508.1" font-size="6.9" text-anchor="end" textLength="8.6" lengthAdjust="spacingAndGlyphs">20</text>
<text x="148.4" y="478.9" font-size="6.9" text-anchor="end" textLength="8.6" lengthAdjust="spacingAndGlyphs">40</text>
<text x="148.4" y="449.7" font-size="6.9" text-anchor="end" textLength="8.6" lengthAdjust="spacingAndGlyphs">60</text>
<text x="148.4" y="420.5" font-size="6.9" text-anchor="end" textLength="8.6" lengthAdjust="spacingAndGlyphs">80</text>
<text x="148.4" y="391.3" font-size="6.9" text-anchor="end" textLength="12.9" lengthAdjust="spacingAndGlyphs">100</text>
<text x="156" y="378.9" font-size="7" textLength="40.2" lengthAdjust="spacingAndGlyphs">(e) Statistic</text>
</svg></body></html>
